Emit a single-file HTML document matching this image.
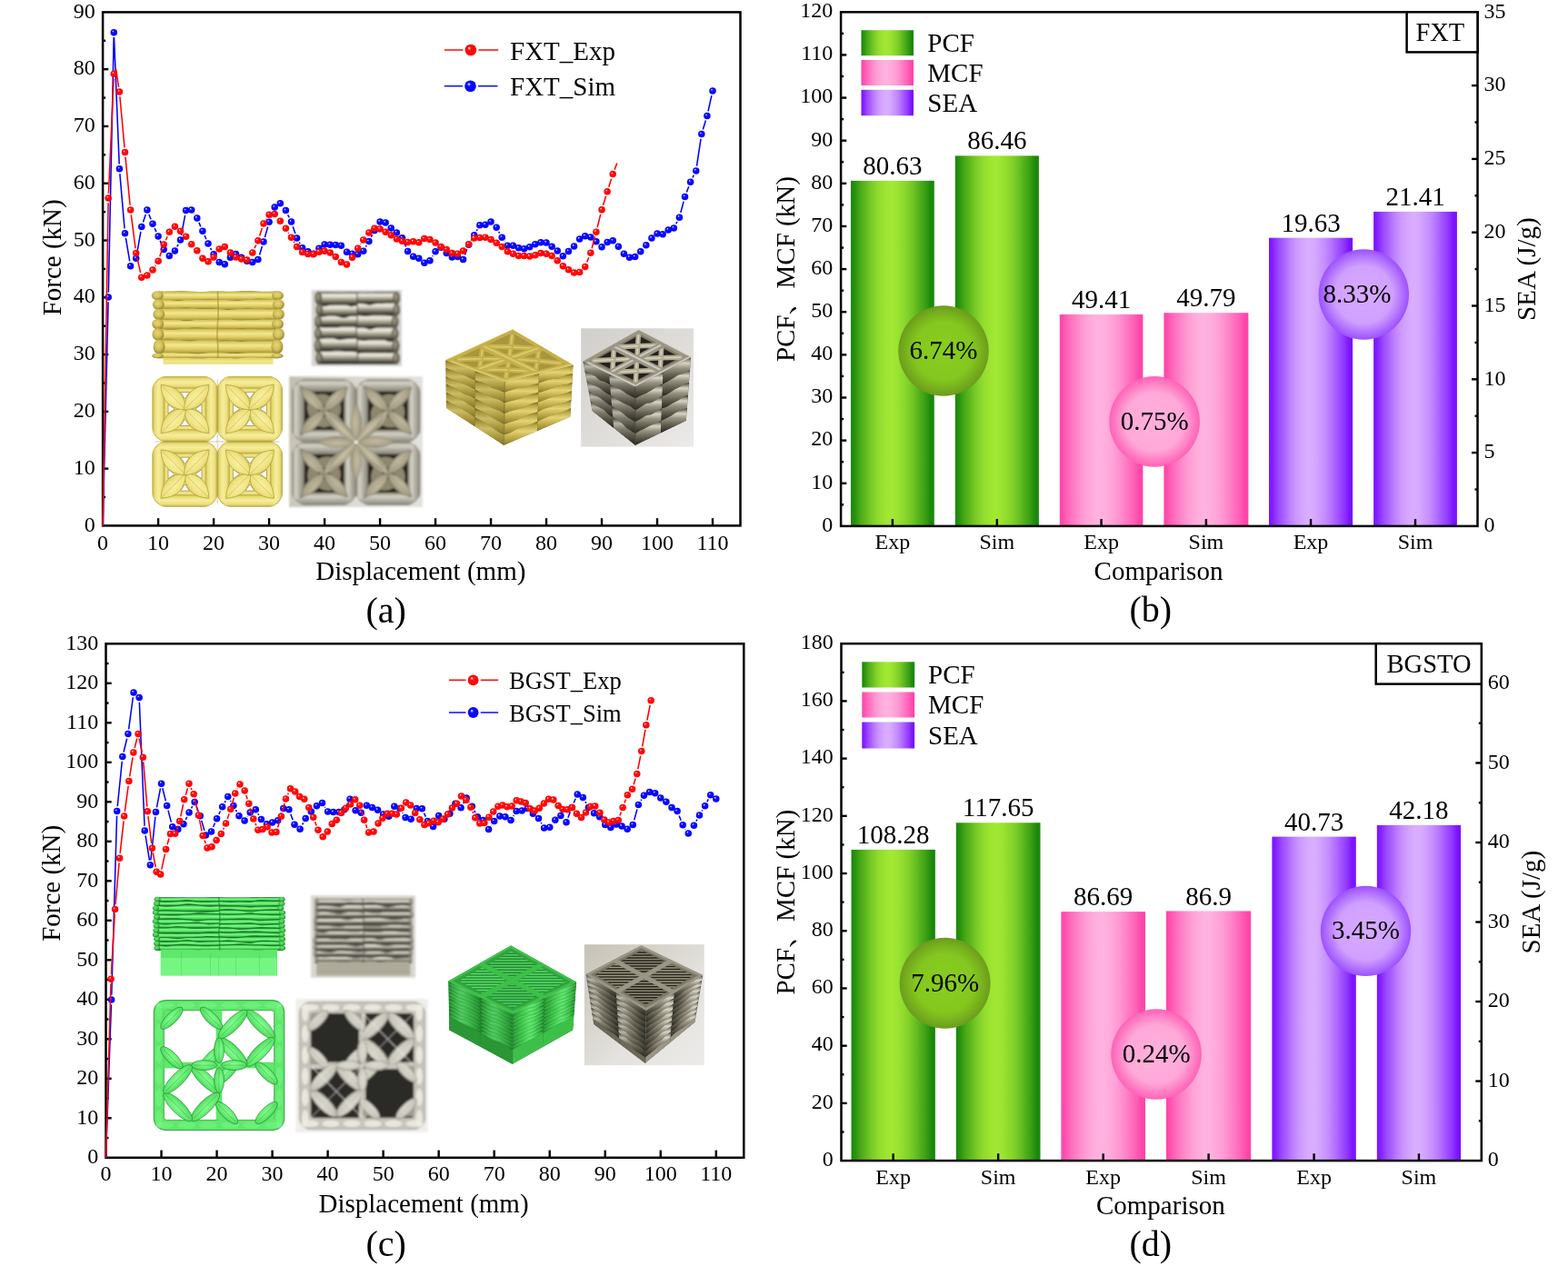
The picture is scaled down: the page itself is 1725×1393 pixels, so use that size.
<!DOCTYPE html>
<html lang="en"><head><meta charset="utf-8"><title>Force-displacement and comparison charts</title>
<style>html,body{margin:0;padding:0;background:#fff;width:1725px;height:1393px;overflow:hidden}svg{display:block}text{font-family:'Liberation Serif', 'Noto Serif CJK SC', serif;fill:#000}</style>
</head><body>
<svg width="1725" height="1393" viewBox="0 0 1725 1393">
<defs>
<radialGradient id="mr" cx="0.5" cy="0.5" r="0.5" fx="0.34" fy="0.3"><stop offset="0" stop-color="#ffffff"/><stop offset="0.12" stop-color="#ffb0b0"/><stop offset="0.32" stop-color="#ff1010"/><stop offset="1" stop-color="#ff0000"/></radialGradient>
<radialGradient id="mb" cx="0.5" cy="0.5" r="0.5" fx="0.34" fy="0.3"><stop offset="0" stop-color="#ffffff"/><stop offset="0.12" stop-color="#b0b0ff"/><stop offset="0.32" stop-color="#1010ff"/><stop offset="1" stop-color="#0000ff"/></radialGradient>
<linearGradient id="gg" x1="0" x2="1" y1="0" y2="0"><stop offset="0" stop-color="#1a880a"/><stop offset="0.04" stop-color="#25900d"/><stop offset="0.08" stop-color="#399e13"/><stop offset="0.12" stop-color="#4cab19"/><stop offset="0.17" stop-color="#5db71e"/><stop offset="0.21" stop-color="#6cc223"/><stop offset="0.25" stop-color="#7acb27"/><stop offset="0.29" stop-color="#86d42a"/><stop offset="0.33" stop-color="#90db2d"/><stop offset="0.38" stop-color="#98e130"/><stop offset="0.42" stop-color="#9ee532"/><stop offset="0.46" stop-color="#a1e833"/><stop offset="0.5" stop-color="#a1e733"/><stop offset="0.54" stop-color="#9de532"/><stop offset="0.58" stop-color="#97e030"/><stop offset="0.62" stop-color="#8fdb2d"/><stop offset="0.67" stop-color="#85d42a"/><stop offset="0.71" stop-color="#7acc27"/><stop offset="0.75" stop-color="#6dc323"/><stop offset="0.79" stop-color="#5fb91f"/><stop offset="0.83" stop-color="#50ae1a"/><stop offset="0.88" stop-color="#3fa215"/><stop offset="0.92" stop-color="#2e9610"/><stop offset="0.96" stop-color="#1b890a"/><stop offset="1" stop-color="#1a880a"/></linearGradient>
<linearGradient id="gp" x1="0" x2="1" y1="0" y2="0"><stop offset="0" stop-color="#ff45a9"/><stop offset="0.04" stop-color="#ff4ead"/><stop offset="0.08" stop-color="#ff5eb5"/><stop offset="0.12" stop-color="#ff6dbd"/><stop offset="0.17" stop-color="#ff7bc3"/><stop offset="0.21" stop-color="#ff87ca"/><stop offset="0.25" stop-color="#ff92cf"/><stop offset="0.29" stop-color="#ff9cd4"/><stop offset="0.33" stop-color="#ffa4d8"/><stop offset="0.38" stop-color="#ffabdb"/><stop offset="0.42" stop-color="#ffb0dd"/><stop offset="0.46" stop-color="#ffb2df"/><stop offset="0.5" stop-color="#ffb2df"/><stop offset="0.54" stop-color="#ffafdd"/><stop offset="0.58" stop-color="#ffaadb"/><stop offset="0.62" stop-color="#ffa4d8"/><stop offset="0.67" stop-color="#ff9cd4"/><stop offset="0.71" stop-color="#ff93cf"/><stop offset="0.75" stop-color="#ff88ca"/><stop offset="0.79" stop-color="#ff7dc5"/><stop offset="0.83" stop-color="#ff71be"/><stop offset="0.88" stop-color="#ff63b8"/><stop offset="0.92" stop-color="#ff55b1"/><stop offset="0.96" stop-color="#ff46a9"/><stop offset="1" stop-color="#ff45a9"/></linearGradient>
<linearGradient id="gv" x1="0" x2="1" y1="0" y2="0"><stop offset="0" stop-color="#7a12ff"/><stop offset="0.04" stop-color="#821fff"/><stop offset="0.08" stop-color="#9036ff"/><stop offset="0.12" stop-color="#9d4bff"/><stop offset="0.17" stop-color="#a85eff"/><stop offset="0.21" stop-color="#b370ff"/><stop offset="0.25" stop-color="#bd80ff"/><stop offset="0.29" stop-color="#c58dff"/><stop offset="0.33" stop-color="#cc99ff"/><stop offset="0.38" stop-color="#d2a2ff"/><stop offset="0.42" stop-color="#d6a9ff"/><stop offset="0.46" stop-color="#d9adff"/><stop offset="0.5" stop-color="#d8adff"/><stop offset="0.54" stop-color="#d6a9ff"/><stop offset="0.58" stop-color="#d1a2ff"/><stop offset="0.62" stop-color="#cc98ff"/><stop offset="0.67" stop-color="#c58dff"/><stop offset="0.71" stop-color="#bd80ff"/><stop offset="0.75" stop-color="#b472ff"/><stop offset="0.79" stop-color="#aa61ff"/><stop offset="0.83" stop-color="#a050ff"/><stop offset="0.88" stop-color="#943dff"/><stop offset="0.92" stop-color="#8829ff"/><stop offset="0.96" stop-color="#7b13ff"/><stop offset="1" stop-color="#7a12ff"/></linearGradient>
<radialGradient id="cg" cx="0.5" cy="0.5" r="0.5"><stop offset="0" stop-color="#88cd1f"/><stop offset="0.64" stop-color="#84c81f"/><stop offset="0.86" stop-color="#76ae1d"/><stop offset="1" stop-color="#6c9c1c"/></radialGradient>
<radialGradient id="cp" cx="0.5" cy="0.5" r="0.5"><stop offset="0" stop-color="#ffb0dd"/><stop offset="0.64" stop-color="#ffa9d9"/><stop offset="0.86" stop-color="#ff7ec4"/><stop offset="1" stop-color="#ff62b6"/></radialGradient>
<radialGradient id="cv" cx="0.5" cy="0.5" r="0.5"><stop offset="0" stop-color="#d8abff"/><stop offset="0.64" stop-color="#d0a0ff"/><stop offset="0.86" stop-color="#b170ff"/><stop offset="1" stop-color="#9c50ff"/></radialGradient>
<linearGradient id="bd_y" x1="0" y1="0" x2="0" y2="1"><stop offset="0" stop-color="#928229"/><stop offset="0.14" stop-color="#d6c55d"/><stop offset="0.4" stop-color="#f4e88e"/><stop offset="0.66" stop-color="#e0cf67"/><stop offset="0.88" stop-color="#b9a745"/><stop offset="1" stop-color="#867626"/></linearGradient>
<linearGradient id="bh_y" x1="0" y1="0" x2="1" y2="0"><stop offset="0" stop-color="#928229"/><stop offset="0.14" stop-color="#d6c55d"/><stop offset="0.4" stop-color="#f4e88e"/><stop offset="0.66" stop-color="#e0cf67"/><stop offset="0.88" stop-color="#b9a745"/><stop offset="1" stop-color="#867626"/></linearGradient>
<radialGradient id="lb_y" cx="0.45" cy="0.4" r="0.6"><stop offset="0" stop-color="#e7d670"/><stop offset="0.5" stop-color="#d3c15c"/><stop offset="1" stop-color="#95852f"/></radialGradient>
<radialGradient id="pt_y" cx="0.5" cy="0.42" r="0.62"><stop offset="0" stop-color="#f8ee9c"/><stop offset="0.65" stop-color="#e7d670"/><stop offset="1" stop-color="#d3c15c"/></radialGradient>
<linearGradient id="bd_yt" x1="0" y1="0" x2="0" y2="1"><stop offset="0" stop-color="#bba946"/><stop offset="0.2" stop-color="#e9db78"/><stop offset="0.48" stop-color="#f7ee9a"/><stop offset="0.78" stop-color="#ebde7c"/><stop offset="1" stop-color="#b9a744"/></linearGradient>
<linearGradient id="bh_yt" x1="0" y1="0" x2="1" y2="0"><stop offset="0" stop-color="#bba946"/><stop offset="0.2" stop-color="#e9db78"/><stop offset="0.48" stop-color="#f7ee9a"/><stop offset="0.78" stop-color="#ebde7c"/><stop offset="1" stop-color="#b9a744"/></linearGradient>
<radialGradient id="lb_yt" cx="0.45" cy="0.4" r="0.6"><stop offset="0" stop-color="#efe27f"/><stop offset="0.5" stop-color="#dccb64"/><stop offset="1" stop-color="#a39335"/></radialGradient>
<radialGradient id="pt_yt" cx="0.5" cy="0.42" r="0.62"><stop offset="0" stop-color="#f8f0a0"/><stop offset="0.65" stop-color="#efe27f"/><stop offset="1" stop-color="#dccb64"/></radialGradient>
<linearGradient id="bd_yi" x1="0" y1="0" x2="0" y2="1"><stop offset="0" stop-color="#776924"/><stop offset="0.14" stop-color="#b5a143"/><stop offset="0.4" stop-color="#e4d475"/><stop offset="0.66" stop-color="#c2ae4b"/><stop offset="0.9" stop-color="#9c8a35"/><stop offset="1" stop-color="#6a5d1e"/></linearGradient>
<linearGradient id="bh_yi" x1="0" y1="0" x2="1" y2="0"><stop offset="0" stop-color="#776924"/><stop offset="0.14" stop-color="#b5a143"/><stop offset="0.4" stop-color="#e4d475"/><stop offset="0.66" stop-color="#c2ae4b"/><stop offset="0.9" stop-color="#9c8a35"/><stop offset="1" stop-color="#6a5d1e"/></linearGradient>
<radialGradient id="lb_yi" cx="0.45" cy="0.4" r="0.6"><stop offset="0" stop-color="#c4b04c"/><stop offset="0.5" stop-color="#a9963c"/><stop offset="1" stop-color="#786a24"/></radialGradient>
<radialGradient id="pt_yi" cx="0.5" cy="0.42" r="0.62"><stop offset="0" stop-color="#e2d273"/><stop offset="0.65" stop-color="#c4b04c"/><stop offset="1" stop-color="#a9963c"/></radialGradient>
<linearGradient id="bd_g" x1="0" y1="0" x2="0" y2="1"><stop offset="0" stop-color="#1a6e25"/><stop offset="0.18" stop-color="#45cf53"/><stop offset="0.42" stop-color="#7cfa8a"/><stop offset="0.68" stop-color="#58e065"/><stop offset="0.88" stop-color="#34b241"/><stop offset="1" stop-color="#17641f"/></linearGradient>
<linearGradient id="bh_g" x1="0" y1="0" x2="1" y2="0"><stop offset="0" stop-color="#1a6e25"/><stop offset="0.18" stop-color="#45cf53"/><stop offset="0.42" stop-color="#7cfa8a"/><stop offset="0.68" stop-color="#58e065"/><stop offset="0.88" stop-color="#34b241"/><stop offset="1" stop-color="#17641f"/></linearGradient>
<radialGradient id="lb_g" cx="0.45" cy="0.4" r="0.6"><stop offset="0" stop-color="#5fe86c"/><stop offset="0.5" stop-color="#45cf53"/><stop offset="1" stop-color="#1f7c2b"/></radialGradient>
<radialGradient id="pt_g" cx="0.5" cy="0.42" r="0.62"><stop offset="0" stop-color="#86ff93"/><stop offset="0.65" stop-color="#5fe86c"/><stop offset="1" stop-color="#45cf53"/></radialGradient>
<linearGradient id="bd_gi" x1="0" y1="0" x2="0" y2="1"><stop offset="0" stop-color="#17681f"/><stop offset="0.16" stop-color="#35b342"/><stop offset="0.42" stop-color="#62e871"/><stop offset="0.7" stop-color="#3dc04a"/><stop offset="0.9" stop-color="#2a9a36"/><stop offset="1" stop-color="#156020"/></linearGradient>
<linearGradient id="bh_gi" x1="0" y1="0" x2="1" y2="0"><stop offset="0" stop-color="#17681f"/><stop offset="0.16" stop-color="#35b342"/><stop offset="0.42" stop-color="#62e871"/><stop offset="0.7" stop-color="#3dc04a"/><stop offset="0.9" stop-color="#2a9a36"/><stop offset="1" stop-color="#156020"/></linearGradient>
<radialGradient id="lb_gi" cx="0.45" cy="0.4" r="0.6"><stop offset="0" stop-color="#3dc04a"/><stop offset="0.5" stop-color="#2fa53c"/><stop offset="1" stop-color="#1b7526"/></radialGradient>
<radialGradient id="pt_gi" cx="0.5" cy="0.42" r="0.62"><stop offset="0" stop-color="#62e871"/><stop offset="0.65" stop-color="#3dc04a"/><stop offset="1" stop-color="#2fa53c"/></radialGradient>
<linearGradient id="bd_m" x1="0" y1="0" x2="0" y2="1"><stop offset="0" stop-color="#2a2822"/><stop offset="0.08" stop-color="#8d897a"/><stop offset="0.2" stop-color="#f4f2e8"/><stop offset="0.38" stop-color="#d5d2c4"/><stop offset="0.58" stop-color="#9b9684"/><stop offset="0.8" stop-color="#5a574b"/><stop offset="1" stop-color="#1f1e1a"/></linearGradient>
<linearGradient id="bh_m" x1="0" y1="0" x2="1" y2="0"><stop offset="0" stop-color="#2a2822"/><stop offset="0.08" stop-color="#8d897a"/><stop offset="0.2" stop-color="#f4f2e8"/><stop offset="0.38" stop-color="#d5d2c4"/><stop offset="0.58" stop-color="#9b9684"/><stop offset="0.8" stop-color="#5a574b"/><stop offset="1" stop-color="#1f1e1a"/></linearGradient>
<radialGradient id="lb_m" cx="0.45" cy="0.4" r="0.6"><stop offset="0" stop-color="#a39e8c"/><stop offset="0.5" stop-color="#7b7563"/><stop offset="1" stop-color="#46433a"/></radialGradient>
<radialGradient id="pt_m" cx="0.5" cy="0.42" r="0.62"><stop offset="0" stop-color="#c4bca2"/><stop offset="0.65" stop-color="#aaa288"/><stop offset="1" stop-color="#7b7563"/></radialGradient>
<linearGradient id="bd_mi" x1="0" y1="0" x2="0" y2="1"><stop offset="0" stop-color="#2c2a24"/><stop offset="0.1" stop-color="#8f8b7a"/><stop offset="0.22" stop-color="#d8d5c8"/><stop offset="0.4" stop-color="#9a9583"/><stop offset="0.66" stop-color="#656152"/><stop offset="0.88" stop-color="#3c3a31"/><stop offset="1" stop-color="#1e1d18"/></linearGradient>
<linearGradient id="bh_mi" x1="0" y1="0" x2="1" y2="0"><stop offset="0" stop-color="#2c2a24"/><stop offset="0.1" stop-color="#8f8b7a"/><stop offset="0.22" stop-color="#d8d5c8"/><stop offset="0.4" stop-color="#9a9583"/><stop offset="0.66" stop-color="#656152"/><stop offset="0.88" stop-color="#3c3a31"/><stop offset="1" stop-color="#1e1d18"/></linearGradient>
<radialGradient id="lb_mi" cx="0.45" cy="0.4" r="0.6"><stop offset="0" stop-color="#9a9584"/><stop offset="0.5" stop-color="#7d7868"/><stop offset="1" stop-color="#46433a"/></radialGradient>
<radialGradient id="pt_mi" cx="0.5" cy="0.42" r="0.62"><stop offset="0" stop-color="#dcdad0"/><stop offset="0.65" stop-color="#b3ab91"/><stop offset="1" stop-color="#7d7868"/></radialGradient>
<linearGradient id="bd_m2" x1="0" y1="0" x2="0" y2="1"><stop offset="0" stop-color="#3d3b35"/><stop offset="0.12" stop-color="#c9c6b9"/><stop offset="0.3" stop-color="#e6e4da"/><stop offset="0.5" stop-color="#b1ad9e"/><stop offset="0.72" stop-color="#77736a"/><stop offset="0.9" stop-color="#45433d"/><stop offset="1" stop-color="#2a2926"/></linearGradient>
<linearGradient id="bh_m2" x1="0" y1="0" x2="1" y2="0"><stop offset="0" stop-color="#3d3b35"/><stop offset="0.12" stop-color="#c9c6b9"/><stop offset="0.3" stop-color="#e6e4da"/><stop offset="0.5" stop-color="#b1ad9e"/><stop offset="0.72" stop-color="#77736a"/><stop offset="0.9" stop-color="#45433d"/><stop offset="1" stop-color="#2a2926"/></linearGradient>
<radialGradient id="lb_m2" cx="0.45" cy="0.4" r="0.6"><stop offset="0" stop-color="#aeaa9a"/><stop offset="0.5" stop-color="#979282"/><stop offset="1" stop-color="#55524a"/></radialGradient>
<radialGradient id="pt_m2" cx="0.5" cy="0.42" r="0.62"><stop offset="0" stop-color="#dcdad0"/><stop offset="0.65" stop-color="#cfcdc3"/><stop offset="1" stop-color="#979282"/></radialGradient>
<linearGradient id="fv" x1="0" y1="0" x2="0" y2="1"><stop offset="0" stop-color="#87836f"/><stop offset="0.28" stop-color="#d6d4ca"/><stop offset="0.55" stop-color="#b7b4a8"/><stop offset="0.85" stop-color="#98958a"/><stop offset="1" stop-color="#6f6c60"/></linearGradient>
<linearGradient id="fh" x1="0" y1="0" x2="1" y2="0"><stop offset="0" stop-color="#87836f"/><stop offset="0.28" stop-color="#d6d4ca"/><stop offset="0.55" stop-color="#b7b4a8"/><stop offset="0.85" stop-color="#98958a"/><stop offset="1" stop-color="#6f6c60"/></linearGradient>
<linearGradient id="bga4" x1="0" y1="0" x2="1" y2="0.2"><stop offset="0" stop-color="#c2beae"/><stop offset="0.5" stop-color="#d9d7d0"/><stop offset="1" stop-color="#e2e1dd"/></linearGradient>
<filter id="bl1" x="-5%" y="-5%" width="110%" height="110%"><feGaussianBlur stdDeviation="0.6"/></filter>
<filter id="bl2" x="-5%" y="-5%" width="110%" height="110%"><feGaussianBlur stdDeviation="0.9"/></filter>
<linearGradient id="bga1" x1="0" y1="0" x2="1" y2="1"><stop offset="0" stop-color="#d0cfcb"/><stop offset="1" stop-color="#ebeae8"/></linearGradient>
<linearGradient id="bgc1" x1="0" y1="0" x2="1" y2="1"><stop offset="0" stop-color="#c6c2b6"/><stop offset="0.6" stop-color="#e4e2de"/><stop offset="1" stop-color="#ecebe9"/></linearGradient>
</defs>
<rect width="1725" height="1393" fill="#fff"/>
<g id="panel-a">
<g filter="url(#bl1)">
<rect x="173.5" y="321.1" width="132.8" height="73.4" fill="#d3c15c"/>
<rect x="179.5" y="392" width="120.8" height="9" fill="#e7d670"/>
<rect x="179.5" y="396.1" width="120.8" height="4.9" fill="#f8ee9c" opacity="0.55"/>
<path d="M174.5 320.6C176.3 320.6 181.8 320.7 185.4 320.6C189 320.5 192.7 320.2 196.3 320.2C199.9 320.2 203.6 320.4 207.2 320.5C210.8 320.7 214.5 320.9 218.1 320.9C221.7 320.9 225.4 320.8 229 320.7C232.6 320.6 238.1 320.6 239.9 320.6L239.9 329.6C238.1 329.5 232.6 329.1 229 329C225.4 329 221.7 329.4 218.1 329.5C214.5 329.6 210.8 329.5 207.2 329.8C203.6 330.1 199.9 331.1 196.3 331.2C192.7 331.3 189 330.5 185.4 330.3C181.8 330.1 176.3 329.9 174.5 329.8Z" fill="url(#bd_y)"/>
<path d="M174.5 329.8C176.3 329.9 181.8 330.1 185.4 330.3C189 330.5 192.7 331.3 196.3 331.2C199.9 331.1 203.6 330.1 207.2 329.8C210.8 329.5 214.5 329.6 218.1 329.5C221.7 329.4 225.4 329 229 329C232.6 329.1 238.1 329.5 239.9 329.6L239.9 339.8C238.1 339.8 232.6 340.1 229 340.1C225.4 340.1 221.7 340.2 218.1 339.9C214.5 339.6 210.8 338.6 207.2 338.4C203.6 338.2 199.9 338.5 196.3 338.7C192.7 339 189 339.6 185.4 339.8C181.8 339.9 176.3 339.7 174.5 339.7Z" fill="url(#bd_y)"/>
<path d="M174.5 339.7C176.3 339.7 181.8 339.9 185.4 339.8C189 339.6 192.7 339 196.3 338.7C199.9 338.5 203.6 338.2 207.2 338.4C210.8 338.6 214.5 339.6 218.1 339.9C221.7 340.2 225.4 340.1 229 340.1C232.6 340.1 238.1 339.8 239.9 339.8L239.9 352.1C238.1 352 232.6 351.4 229 351.2C225.4 351.1 221.7 350.9 218.1 351.2C214.5 351.6 210.8 353.2 207.2 353.3C203.6 353.5 199.9 352.7 196.3 352.3C192.7 351.8 189 350.8 185.4 350.7C181.8 350.6 176.3 351.5 174.5 351.6Z" fill="url(#bd_y)"/>
<path d="M174.5 351.6C176.3 351.5 181.8 350.6 185.4 350.7C189 350.8 192.7 351.8 196.3 352.3C199.9 352.7 203.6 353.5 207.2 353.3C210.8 353.2 214.5 351.6 218.1 351.2C221.7 350.9 225.4 351.1 229 351.2C232.6 351.4 238.1 352 239.9 352.1L239.9 361.4C238.1 361.4 232.6 361.5 229 361.3C225.4 361.2 221.7 360.6 218.1 360.6C214.5 360.5 210.8 360.7 207.2 361C203.6 361.3 199.9 362.1 196.3 362.4C192.7 362.6 189 362.7 185.4 362.7C181.8 362.7 176.3 362.3 174.5 362.3Z" fill="url(#bd_y)"/>
<path d="M174.5 362.3C176.3 362.3 181.8 362.7 185.4 362.7C189 362.7 192.7 362.6 196.3 362.4C199.9 362.1 203.6 361.3 207.2 361C210.8 360.7 214.5 360.5 218.1 360.6C221.7 360.6 225.4 361.2 229 361.3C232.6 361.5 238.1 361.4 239.9 361.4L239.9 374.3C238.1 374.2 232.6 373.6 229 373.7C225.4 373.7 221.7 374.1 218.1 374.4C214.5 374.7 210.8 375.6 207.2 375.5C203.6 375.4 199.9 374.5 196.3 374C192.7 373.5 189 372.8 185.4 372.8C181.8 372.7 176.3 373.5 174.5 373.7Z" fill="url(#bd_y)"/>
<path d="M174.5 373.7C176.3 373.5 181.8 372.7 185.4 372.8C189 372.8 192.7 373.5 196.3 374C199.9 374.5 203.6 375.4 207.2 375.5C210.8 375.6 214.5 374.7 218.1 374.4C221.7 374.1 225.4 373.7 229 373.7C232.6 373.6 238.1 374.2 239.9 374.3L239.9 388.4C238.1 388.4 232.6 388.3 229 388.5C225.4 388.7 221.7 389.5 218.1 389.5C214.5 389.6 210.8 388.9 207.2 388.8C203.6 388.6 199.9 388.9 196.3 388.7C192.7 388.4 189 387.3 185.4 387.2C181.8 387.2 176.3 388 174.5 388.2Z" fill="url(#bd_y)"/>
<path d="M174.5 388.2C176.3 388 181.8 387.2 185.4 387.2C189 387.3 192.7 388.4 196.3 388.7C199.9 388.9 203.6 388.6 207.2 388.8C210.8 388.9 214.5 389.6 218.1 389.5C221.7 389.5 225.4 388.7 229 388.5C232.6 388.3 238.1 388.4 239.9 388.4L239.9 394C238.1 394 232.6 393.9 229 393.9C225.4 394 221.7 394.3 218.1 394.3C214.5 394.3 210.8 394.2 207.2 394.1C203.6 394.1 199.9 394 196.3 393.9C192.7 393.9 189 393.7 185.4 393.7C181.8 393.7 176.3 393.9 174.5 394Z" fill="url(#bd_y)"/>
<path d="M239.9 320.6C241.7 320.6 247.2 320.8 250.8 320.7C254.4 320.7 258.1 320.4 261.7 320.4C265.3 320.3 269 320.2 272.6 320.3C276.2 320.3 279.9 320.5 283.5 320.6C287.1 320.7 290.8 320.8 294.4 320.8C298 320.8 303.5 320.6 305.3 320.6L305.3 329.4C303.5 329.4 298 329.3 294.4 329.1C290.8 329 287.1 328.4 283.5 328.6C279.9 328.7 276.2 329.5 272.6 329.9C269 330.3 265.3 330.8 261.7 330.9C258.1 331 254.4 330.7 250.8 330.5C247.2 330.4 241.7 330.2 239.9 330.1Z" fill="url(#bd_y)"/>
<path d="M239.9 330.1C241.7 330.2 247.2 330.4 250.8 330.5C254.4 330.7 258.1 331 261.7 330.9C265.3 330.8 269 330.3 272.6 329.9C276.2 329.5 279.9 328.7 283.5 328.6C287.1 328.4 290.8 329 294.4 329.1C298 329.3 303.5 329.4 305.3 329.4L305.3 340.4C303.5 340.4 298 340.6 294.4 340.6C290.8 340.5 287.1 340.4 283.5 340.1C279.9 339.8 276.2 338.8 272.6 338.8C269 338.8 265.3 339.9 261.7 340.2C258.1 340.6 254.4 341 250.8 340.9C247.2 340.9 241.7 340 239.9 339.9Z" fill="url(#bd_y)"/>
<path d="M239.9 339.9C241.7 340 247.2 340.9 250.8 340.9C254.4 341 258.1 340.6 261.7 340.2C265.3 339.9 269 338.8 272.6 338.8C276.2 338.8 279.9 339.8 283.5 340.1C287.1 340.4 290.8 340.5 294.4 340.6C298 340.6 303.5 340.4 305.3 340.4L305.3 351.1C303.5 351 298 350.4 294.4 350.5C290.8 350.6 287.1 351.7 283.5 352C279.9 352.3 276.2 352.1 272.6 352.2C269 352.3 265.3 352.7 261.7 352.6C258.1 352.4 254.4 351.4 250.8 351.3C247.2 351.2 241.7 351.9 239.9 352Z" fill="url(#bd_y)"/>
<path d="M239.9 352C241.7 351.9 247.2 351.2 250.8 351.3C254.4 351.4 258.1 352.4 261.7 352.6C265.3 352.7 269 352.3 272.6 352.2C276.2 352.1 279.9 352.3 283.5 352C287.1 351.7 290.8 350.6 294.4 350.5C298 350.4 303.5 351 305.3 351.1L305.3 362.4C303.5 362.4 298 362.6 294.4 362.6C290.8 362.6 287.1 362.6 283.5 362.4C279.9 362.2 276.2 361.6 272.6 361.4C269 361.2 265.3 361 261.7 361.2C258.1 361.3 254.4 361.8 250.8 362C247.2 362.2 241.7 362.2 239.9 362.2Z" fill="url(#bd_y)"/>
<path d="M239.9 362.2C241.7 362.2 247.2 362.2 250.8 362C254.4 361.8 258.1 361.3 261.7 361.2C265.3 361 269 361.2 272.6 361.4C276.2 361.6 279.9 362.2 283.5 362.4C287.1 362.6 290.8 362.6 294.4 362.6C298 362.6 303.5 362.4 305.3 362.4L305.3 375C303.5 374.9 298 374.3 294.4 374.3C290.8 374.3 287.1 374.7 283.5 374.9C279.9 375.1 276.2 375.3 272.6 375.4C269 375.6 265.3 376.1 261.7 375.8C258.1 375.6 254.4 374.4 250.8 374.1C247.2 373.9 241.7 374.4 239.9 374.4Z" fill="url(#bd_y)"/>
<path d="M239.9 374.4C241.7 374.4 247.2 373.9 250.8 374.1C254.4 374.4 258.1 375.6 261.7 375.8C265.3 376.1 269 375.6 272.6 375.4C276.2 375.3 279.9 375.1 283.5 374.9C287.1 374.7 290.8 374.3 294.4 374.3C298 374.3 303.5 374.9 305.3 375L305.3 388.8C303.5 388.7 298 388.4 294.4 388.1C290.8 387.9 287.1 387.5 283.5 387.5C279.9 387.5 276.2 388 272.6 388.2C269 388.5 265.3 388.8 261.7 388.9C258.1 389 254.4 389 250.8 388.8C247.2 388.7 241.7 388.2 239.9 388.1Z" fill="url(#bd_y)"/>
<path d="M239.9 388.1C241.7 388.2 247.2 388.7 250.8 388.8C254.4 389 258.1 389 261.7 388.9C265.3 388.8 269 388.5 272.6 388.2C276.2 388 279.9 387.5 283.5 387.5C287.1 387.5 290.8 387.9 294.4 388.1C298 388.4 303.5 388.7 305.3 388.8L305.3 394C303.5 394 298 393.9 294.4 393.9C290.8 393.9 287.1 393.9 283.5 393.8C279.9 393.8 276.2 393.6 272.6 393.6C269 393.7 265.3 394.1 261.7 394.2C258.1 394.3 254.4 394.2 250.8 394.1C247.2 394.1 241.7 394 239.9 394Z" fill="url(#bd_y)"/>
<ellipse cx="173.3" cy="325.2" rx="6.5" ry="5" fill="url(#lb_y)"/>
<ellipse cx="305.5" cy="325.2" rx="6.5" ry="5" fill="url(#lb_y)"/>
<ellipse cx="174.3" cy="335.1" rx="6.5" ry="5.9" fill="url(#lb_y)"/>
<ellipse cx="306.4" cy="335.1" rx="6.5" ry="5.9" fill="url(#lb_y)"/>
<ellipse cx="174.8" cy="345.9" rx="6.5" ry="6.1" fill="url(#lb_y)"/>
<ellipse cx="306.4" cy="345.9" rx="6.5" ry="6.1" fill="url(#lb_y)"/>
<ellipse cx="173.7" cy="356.6" rx="6.5" ry="5.7" fill="url(#lb_y)"/>
<ellipse cx="305.5" cy="356.6" rx="6.5" ry="5.7" fill="url(#lb_y)"/>
<ellipse cx="173.9" cy="367.9" rx="6.5" ry="6.9" fill="url(#lb_y)"/>
<ellipse cx="306.4" cy="367.9" rx="6.5" ry="6.9" fill="url(#lb_y)"/>
<ellipse cx="175.1" cy="381.5" rx="6.5" ry="8.1" fill="url(#lb_y)"/>
<ellipse cx="304.9" cy="381.5" rx="6.5" ry="8.1" fill="url(#lb_y)"/>
<ellipse cx="173.5" cy="391.4" rx="6.5" ry="2.8" fill="url(#lb_y)"/>
<ellipse cx="305.1" cy="391.4" rx="6.5" ry="2.8" fill="url(#lb_y)"/>
<path d="M239.4 320.6C239.5 322.6 239.8 328.8 239.9 332.8C240 336.9 240.2 341 240.1 345.1C240 349.1 239.6 353.2 239.4 357.3C239.2 361.4 238.9 365.5 238.9 369.5C239 373.6 239.6 377.7 239.7 381.8C239.9 385.8 239.7 392 239.6 394" fill="none" stroke="#95852f" stroke-width="1.6" opacity="0.55"/>
</g><g filter="url(#bl2)">
<rect x="342.8" y="319.2" width="99.1" height="83.6" fill="#d4d3cf"/>
<rect x="349.5" y="321.5" width="86.5" height="79.5" fill="#46433a"/>
<path d="M350.5 321.7C351.7 321.7 355.2 321.5 357.5 321.5C359.9 321.4 362.2 321.3 364.6 321.5C366.9 321.6 369.3 322.3 371.6 322.4C374 322.4 376.3 322 378.7 321.9C381 321.7 383.4 321.5 385.7 321.4C388.1 321.4 391.6 321.7 392.8 321.7L392.8 334.5C391.6 334.8 388.1 336.2 385.7 336C383.4 335.8 381 333.6 378.7 333.2C376.3 332.8 374 333.3 371.6 333.4C369.3 333.5 366.9 333.5 364.6 333.9C362.2 334.3 359.9 335.8 357.5 335.9C355.2 335.9 351.7 334.5 350.5 334.3Z" fill="url(#bd_m)"/>
<path d="M350.5 335.7C351.7 335.9 355.2 337.3 357.5 337.3C359.9 337.2 362.2 335.7 364.6 335.3C366.9 334.9 369.3 334.9 371.6 334.8C374 334.7 376.3 334.2 378.7 334.6C381 335 383.4 337.2 385.7 337.4C388.1 337.6 391.6 336.2 392.8 335.9L392.8 346.1C391.6 346.2 388.1 346.2 385.7 346.6C383.4 347 381 348.6 378.7 348.7C376.3 348.8 374 347.7 371.6 347.1C369.3 346.5 366.9 345.1 364.6 345C362.2 345 359.9 346.6 357.5 347C355.2 347.5 351.7 347.6 350.5 347.7Z" fill="url(#bd_m)"/>
<path d="M350.5 349.1C351.7 349 355.2 348.9 357.5 348.4C359.9 348 362.2 346.4 364.6 346.4C366.9 346.5 369.3 347.9 371.6 348.5C374 349.1 376.3 350.2 378.7 350.1C381 350 383.4 348.4 385.7 348C388.1 347.6 391.6 347.6 392.8 347.5L392.8 358.9C391.6 358.6 388.1 357.5 385.7 357.2C383.4 356.9 381 356.9 378.7 357.2C376.3 357.5 374 358.7 371.6 359C369.3 359.3 366.9 359.1 364.6 359.1C362.2 359.1 359.9 359.3 357.5 359.2C355.2 359 351.7 358.5 350.5 358.3Z" fill="url(#bd_m)"/>
<path d="M350.5 359.7C351.7 359.9 355.2 360.4 357.5 360.6C359.9 360.7 362.2 360.5 364.6 360.5C366.9 360.5 369.3 360.7 371.6 360.4C374 360.1 376.3 358.9 378.7 358.6C381 358.3 383.4 358.3 385.7 358.6C388.1 358.9 391.6 360 392.8 360.3L392.8 371.2C391.6 371.2 388.1 371.2 385.7 371.4C383.4 371.5 381 371.9 378.7 372.1C376.3 372.3 374 373.1 371.6 372.6C369.3 372.2 366.9 369.7 364.6 369.5C362.2 369.2 359.9 370.5 357.5 370.8C355.2 371.1 351.7 371.3 350.5 371.4Z" fill="url(#bd_m)"/>
<path d="M350.5 372.8C351.7 372.7 355.2 372.5 357.5 372.2C359.9 371.9 362.2 370.6 364.6 370.9C366.9 371.1 369.3 373.6 371.6 374C374 374.5 376.3 373.7 378.7 373.5C381 373.3 383.4 372.9 385.7 372.8C388.1 372.6 391.6 372.6 392.8 372.6L392.8 386.1C391.6 386 388.1 385.7 385.7 385.6C383.4 385.5 381 385.9 378.7 385.5C376.3 385.2 374 383.5 371.6 383.5C369.3 383.5 366.9 385.1 364.6 385.4C362.2 385.8 359.9 385.4 357.5 385.5C355.2 385.5 351.7 385.6 350.5 385.7Z" fill="url(#bd_m)"/>
<path d="M350.5 387.1C351.7 387 355.2 386.9 357.5 386.9C359.9 386.8 362.2 387.2 364.6 386.8C366.9 386.5 369.3 384.9 371.6 384.9C374 384.9 376.3 386.6 378.7 386.9C381 387.3 383.4 386.9 385.7 387C388.1 387.1 391.6 387.4 392.8 387.5L392.8 399.8C391.6 399.8 388.1 399.7 385.7 399.6C383.4 399.5 381 399.1 378.7 399.1C376.3 399.2 374 399.6 371.6 399.8C369.3 400 366.9 400.3 364.6 400.3C362.2 400.3 359.9 400 357.5 400C355.2 399.9 351.7 399.8 350.5 399.8Z" fill="url(#bd_m)"/>
<path d="M392.8 321.7C393.9 321.7 397.4 321.8 399.8 321.9C402.1 322 404.5 322.3 406.8 322.2C409.2 322.1 411.5 321.4 413.9 321.3C416.2 321.2 418.6 321.4 420.9 321.4C423.3 321.4 425.6 321.3 428 321.3C430.3 321.3 433.8 321.6 435 321.7L435 331.9C433.8 331.7 430.3 330.8 428 330.9C425.6 331 423.3 332.4 420.9 332.7C418.6 333 416.2 332.5 413.9 332.8C411.5 333 409.2 334.4 406.8 334.4C404.5 334.4 402.1 333.1 399.8 332.8C397.4 332.5 393.9 332.5 392.8 332.5Z" fill="url(#bd_m)"/>
<path d="M392.8 333.9C393.9 333.9 397.4 333.9 399.8 334.2C402.1 334.5 404.5 335.8 406.8 335.8C409.2 335.8 411.5 334.4 413.9 334.2C416.2 333.9 418.6 334.4 420.9 334.1C423.3 333.8 425.6 332.4 428 332.3C430.3 332.2 433.8 333.1 435 333.3L435 346.6C433.8 346.6 430.3 346.4 428 346.1C425.6 345.9 423.3 345.5 420.9 345.2C418.6 344.9 416.2 344.1 413.9 344.3C411.5 344.4 409.2 345.6 406.8 346C404.5 346.4 402.1 346.8 399.8 346.6C397.4 346.3 393.9 345 392.8 344.6Z" fill="url(#bd_m)"/>
<path d="M392.8 346C393.9 346.4 397.4 347.7 399.8 348C402.1 348.2 404.5 347.8 406.8 347.4C409.2 347 411.5 345.8 413.9 345.7C416.2 345.5 418.6 346.3 420.9 346.6C423.3 346.9 425.6 347.3 428 347.5C430.3 347.8 433.8 348 435 348L435 358.7C433.8 358.7 430.3 358.6 428 358.4C425.6 358.2 423.3 357.5 420.9 357.7C418.6 357.8 416.2 358.7 413.9 359.3C411.5 359.9 409.2 361.5 406.8 361.4C404.5 361.4 402.1 359.3 399.8 359C397.4 358.7 393.9 359.4 392.8 359.5Z" fill="url(#bd_m)"/>
<path d="M392.8 360.9C393.9 360.8 397.4 360.1 399.8 360.4C402.1 360.7 404.5 362.8 406.8 362.8C409.2 362.9 411.5 361.3 413.9 360.7C416.2 360.1 418.6 359.2 420.9 359.1C423.3 358.9 425.6 359.6 428 359.8C430.3 360 433.8 360.1 435 360.1L435 374C433.8 374.1 430.3 375.2 428 374.8C425.6 374.4 423.3 372 420.9 371.5C418.6 371.1 416.2 372 413.9 372.2C411.5 372.3 409.2 372.2 406.8 372.4C404.5 372.7 402.1 373.8 399.8 373.7C397.4 373.5 393.9 372 392.8 371.7Z" fill="url(#bd_m)"/>
<path d="M392.8 373.1C393.9 373.4 397.4 374.9 399.8 375.1C402.1 375.2 404.5 374.1 406.8 373.8C409.2 373.6 411.5 373.7 413.9 373.6C416.2 373.4 418.6 372.5 420.9 372.9C423.3 373.4 425.6 375.8 428 376.2C430.3 376.6 433.8 375.5 435 375.4L435 386C433.8 386.1 430.3 386.7 428 386.8C425.6 386.9 423.3 386.4 420.9 386.4C418.6 386.3 416.2 386.7 413.9 386.6C411.5 386.5 409.2 385.7 406.8 385.7C404.5 385.6 402.1 386 399.8 386.4C397.4 386.8 393.9 387.8 392.8 388Z" fill="url(#bd_m)"/>
<path d="M392.8 389.4C393.9 389.2 397.4 388.2 399.8 387.8C402.1 387.4 404.5 387 406.8 387.1C409.2 387.1 411.5 387.9 413.9 388C416.2 388.1 418.6 387.7 420.9 387.8C423.3 387.8 425.6 388.3 428 388.2C430.3 388.1 433.8 387.5 435 387.4L435 399.8C433.8 399.8 430.3 399.9 428 400C425.6 400.1 423.3 400.4 420.9 400.3C418.6 400.2 416.2 399.4 413.9 399.3C411.5 399.2 409.2 399.5 406.8 399.6C404.5 399.6 402.1 399.6 399.8 399.7C397.4 399.7 393.9 399.8 392.8 399.8Z" fill="url(#bd_m)"/>
<ellipse cx="350.2" cy="327.8" rx="4" ry="7.4" fill="url(#lb_m)"/>
<ellipse cx="436.1" cy="327.8" rx="4" ry="7.4" fill="url(#lb_m)"/>
<ellipse cx="351.3" cy="340.9" rx="4" ry="7" fill="url(#lb_m)"/>
<ellipse cx="436.1" cy="340.9" rx="4" ry="7" fill="url(#lb_m)"/>
<ellipse cx="350" cy="354" rx="4" ry="7.4" fill="url(#lb_m)"/>
<ellipse cx="434.6" cy="354" rx="4" ry="7.4" fill="url(#lb_m)"/>
<ellipse cx="349.8" cy="367.1" rx="4" ry="7" fill="url(#lb_m)"/>
<ellipse cx="434.6" cy="367.1" rx="4" ry="7" fill="url(#lb_m)"/>
<ellipse cx="349.7" cy="380.6" rx="4" ry="7.9" fill="url(#lb_m)"/>
<ellipse cx="435.4" cy="380.6" rx="4" ry="7.9" fill="url(#lb_m)"/>
<ellipse cx="351.1" cy="394.1" rx="4" ry="7" fill="url(#lb_m)"/>
<ellipse cx="435.9" cy="394.1" rx="4" ry="7" fill="url(#lb_m)"/>
<path d="M392.7 321C392.8 323.2 392.9 329.8 393.1 334.2C393.2 338.7 393.5 343.1 393.3 347.5C393.2 351.9 392 356.3 391.9 360.8C391.9 365.2 392.8 369.6 393.1 374C393.3 378.4 393.5 382.8 393.6 387.2C393.6 391.7 393.4 398.3 393.3 400.5" fill="none" stroke="#46433a" stroke-width="1.6" opacity="0.55"/>
</g><g filter="url(#bl1)">
<rect x="168.2" y="414.6" width="70.6" height="70.9" rx="14.3" fill="#efe27f" stroke="#a39335" stroke-width="0.7"/>
<rect x="178.5" y="424.9" width="50" height="50" fill="#efe27f"/>
<rect x="174.2" y="413.9" width="58.5" height="13.9" rx="7" fill="url(#bd_yt)"/>
<rect x="174.2" y="472.2" width="58.5" height="13.9" rx="7" fill="url(#bd_yt)"/>
<rect x="167.5" y="420.8" width="13.9" height="58.5" rx="7" fill="url(#bh_yt)"/>
<rect x="225.6" y="420.8" width="13.9" height="58.5" rx="7" fill="url(#bh_yt)"/>
<g transform="translate(216.2 462.7) rotate(45)"><path d="M-19.5 0Q0 -18 19.5 0Q0 18 -19.5 0Z" fill="url(#pt_yt)" stroke="#a39335" stroke-width="0.6"/>
<path d="M-16.6 0L16.6 0" stroke="#a39335" stroke-width="0.6" opacity="0.6"/>
</g>
<g transform="translate(190.8 462.7) rotate(135)"><path d="M-19.5 0Q0 -18 19.5 0Q0 18 -19.5 0Z" fill="url(#pt_yt)" stroke="#a39335" stroke-width="0.6"/>
<path d="M-16.6 0L16.6 0" stroke="#a39335" stroke-width="0.6" opacity="0.6"/>
</g>
<g transform="translate(190.8 437.3) rotate(225)"><path d="M-19.5 0Q0 -18 19.5 0Q0 18 -19.5 0Z" fill="url(#pt_yt)" stroke="#a39335" stroke-width="0.6"/>
<path d="M-16.6 0L16.6 0" stroke="#a39335" stroke-width="0.6" opacity="0.6"/>
</g>
<g transform="translate(216.2 437.3) rotate(315)"><path d="M-19.5 0Q0 -18 19.5 0Q0 18 -19.5 0Z" fill="url(#pt_yt)" stroke="#a39335" stroke-width="0.6"/>
<path d="M-16.6 0L16.6 0" stroke="#a39335" stroke-width="0.6" opacity="0.6"/>
</g>
<polygon points="214.7,450 222,455.1 222,444.9" fill="#fff" stroke="#a39335" stroke-width="0.8"/>
<polygon points="203.5,461.3 198.4,468.5 208.6,468.5" fill="#fff" stroke="#a39335" stroke-width="0.8"/>
<polygon points="192.3,450 185,444.9 185,455.1" fill="#fff" stroke="#a39335" stroke-width="0.8"/>
<polygon points="203.5,438.8 208.6,431.6 198.4,431.6" fill="#fff" stroke="#a39335" stroke-width="0.8"/>
<rect x="239.6" y="414.6" width="70.6" height="70.9" rx="14.3" fill="#efe27f" stroke="#a39335" stroke-width="0.7"/>
<rect x="249.9" y="424.9" width="50" height="50" fill="#efe27f"/>
<rect x="245.6" y="413.9" width="58.5" height="13.9" rx="7" fill="url(#bd_yt)"/>
<rect x="245.6" y="472.2" width="58.5" height="13.9" rx="7" fill="url(#bd_yt)"/>
<rect x="238.9" y="420.8" width="13.9" height="58.5" rx="7" fill="url(#bh_yt)"/>
<rect x="297" y="420.8" width="13.9" height="58.5" rx="7" fill="url(#bh_yt)"/>
<g transform="translate(287.6 462.7) rotate(45)"><path d="M-19.5 0Q0 -18 19.5 0Q0 18 -19.5 0Z" fill="url(#pt_yt)" stroke="#a39335" stroke-width="0.6"/>
<path d="M-16.6 0L16.6 0" stroke="#a39335" stroke-width="0.6" opacity="0.6"/>
</g>
<g transform="translate(262.2 462.7) rotate(135)"><path d="M-19.5 0Q0 -18 19.5 0Q0 18 -19.5 0Z" fill="url(#pt_yt)" stroke="#a39335" stroke-width="0.6"/>
<path d="M-16.6 0L16.6 0" stroke="#a39335" stroke-width="0.6" opacity="0.6"/>
</g>
<g transform="translate(262.2 437.3) rotate(225)"><path d="M-19.5 0Q0 -18 19.5 0Q0 18 -19.5 0Z" fill="url(#pt_yt)" stroke="#a39335" stroke-width="0.6"/>
<path d="M-16.6 0L16.6 0" stroke="#a39335" stroke-width="0.6" opacity="0.6"/>
</g>
<g transform="translate(287.6 437.3) rotate(315)"><path d="M-19.5 0Q0 -18 19.5 0Q0 18 -19.5 0Z" fill="url(#pt_yt)" stroke="#a39335" stroke-width="0.6"/>
<path d="M-16.6 0L16.6 0" stroke="#a39335" stroke-width="0.6" opacity="0.6"/>
</g>
<polygon points="286.1,450 293.4,455.1 293.4,444.9" fill="#fff" stroke="#a39335" stroke-width="0.8"/>
<polygon points="274.9,461.3 269.8,468.5 280,468.5" fill="#fff" stroke="#a39335" stroke-width="0.8"/>
<polygon points="263.7,450 256.4,444.9 256.4,455.1" fill="#fff" stroke="#a39335" stroke-width="0.8"/>
<polygon points="274.9,438.8 280,431.6 269.8,431.6" fill="#fff" stroke="#a39335" stroke-width="0.8"/>
<rect x="168.2" y="486.2" width="70.6" height="70.9" rx="14.3" fill="#efe27f" stroke="#a39335" stroke-width="0.7"/>
<rect x="178.5" y="496.6" width="50" height="50" fill="#efe27f"/>
<rect x="174.2" y="485.5" width="58.5" height="13.9" rx="7" fill="url(#bd_yt)"/>
<rect x="174.2" y="543.9" width="58.5" height="13.9" rx="7" fill="url(#bd_yt)"/>
<rect x="167.5" y="492.4" width="13.9" height="58.5" rx="7" fill="url(#bh_yt)"/>
<rect x="225.6" y="492.4" width="13.9" height="58.5" rx="7" fill="url(#bh_yt)"/>
<g transform="translate(216.2 534.4) rotate(45)"><path d="M-19.5 0Q0 -18 19.5 0Q0 18 -19.5 0Z" fill="url(#pt_yt)" stroke="#a39335" stroke-width="0.6"/>
<path d="M-16.6 0L16.6 0" stroke="#a39335" stroke-width="0.6" opacity="0.6"/>
</g>
<g transform="translate(190.8 534.4) rotate(135)"><path d="M-19.5 0Q0 -18 19.5 0Q0 18 -19.5 0Z" fill="url(#pt_yt)" stroke="#a39335" stroke-width="0.6"/>
<path d="M-16.6 0L16.6 0" stroke="#a39335" stroke-width="0.6" opacity="0.6"/>
</g>
<g transform="translate(190.8 509) rotate(225)"><path d="M-19.5 0Q0 -18 19.5 0Q0 18 -19.5 0Z" fill="url(#pt_yt)" stroke="#a39335" stroke-width="0.6"/>
<path d="M-16.6 0L16.6 0" stroke="#a39335" stroke-width="0.6" opacity="0.6"/>
</g>
<g transform="translate(216.2 509) rotate(315)"><path d="M-19.5 0Q0 -18 19.5 0Q0 18 -19.5 0Z" fill="url(#pt_yt)" stroke="#a39335" stroke-width="0.6"/>
<path d="M-16.6 0L16.6 0" stroke="#a39335" stroke-width="0.6" opacity="0.6"/>
</g>
<polygon points="214.7,521.7 222,526.8 222,516.6" fill="#fff" stroke="#a39335" stroke-width="0.8"/>
<polygon points="203.5,532.9 198.4,540.1 208.6,540.1" fill="#fff" stroke="#a39335" stroke-width="0.8"/>
<polygon points="192.3,521.7 185,516.6 185,526.8" fill="#fff" stroke="#a39335" stroke-width="0.8"/>
<polygon points="203.5,510.4 208.6,503.2 198.4,503.2" fill="#fff" stroke="#a39335" stroke-width="0.8"/>
<rect x="239.6" y="486.2" width="70.6" height="70.9" rx="14.3" fill="#efe27f" stroke="#a39335" stroke-width="0.7"/>
<rect x="249.9" y="496.6" width="50" height="50" fill="#efe27f"/>
<rect x="245.6" y="485.5" width="58.5" height="13.9" rx="7" fill="url(#bd_yt)"/>
<rect x="245.6" y="543.9" width="58.5" height="13.9" rx="7" fill="url(#bd_yt)"/>
<rect x="238.9" y="492.4" width="13.9" height="58.5" rx="7" fill="url(#bh_yt)"/>
<rect x="297" y="492.4" width="13.9" height="58.5" rx="7" fill="url(#bh_yt)"/>
<g transform="translate(287.6 534.4) rotate(45)"><path d="M-19.5 0Q0 -18 19.5 0Q0 18 -19.5 0Z" fill="url(#pt_yt)" stroke="#a39335" stroke-width="0.6"/>
<path d="M-16.6 0L16.6 0" stroke="#a39335" stroke-width="0.6" opacity="0.6"/>
</g>
<g transform="translate(262.2 534.4) rotate(135)"><path d="M-19.5 0Q0 -18 19.5 0Q0 18 -19.5 0Z" fill="url(#pt_yt)" stroke="#a39335" stroke-width="0.6"/>
<path d="M-16.6 0L16.6 0" stroke="#a39335" stroke-width="0.6" opacity="0.6"/>
</g>
<g transform="translate(262.2 509) rotate(225)"><path d="M-19.5 0Q0 -18 19.5 0Q0 18 -19.5 0Z" fill="url(#pt_yt)" stroke="#a39335" stroke-width="0.6"/>
<path d="M-16.6 0L16.6 0" stroke="#a39335" stroke-width="0.6" opacity="0.6"/>
</g>
<g transform="translate(287.6 509) rotate(315)"><path d="M-19.5 0Q0 -18 19.5 0Q0 18 -19.5 0Z" fill="url(#pt_yt)" stroke="#a39335" stroke-width="0.6"/>
<path d="M-16.6 0L16.6 0" stroke="#a39335" stroke-width="0.6" opacity="0.6"/>
</g>
<polygon points="286.1,521.7 293.4,526.8 293.4,516.6" fill="#fff" stroke="#a39335" stroke-width="0.8"/>
<polygon points="274.9,532.9 269.8,540.1 280,540.1" fill="#fff" stroke="#a39335" stroke-width="0.8"/>
<polygon points="263.7,521.7 256.4,516.6 256.4,526.8" fill="#fff" stroke="#a39335" stroke-width="0.8"/>
<polygon points="274.9,510.4 280,503.2 269.8,503.2" fill="#fff" stroke="#a39335" stroke-width="0.8"/>
<path d="M239.2 417.2L239.2 554.5M170.8 485.9L307.6 485.9" stroke="#a39335" stroke-width="0.8" opacity="0.6"/>
</g><g filter="url(#bl2)">
<rect x="318.2" y="414.2" width="146.7" height="143.8" fill="url(#bga4)"/>
<rect x="321.9" y="417.9" width="69.5" height="68.2" rx="14.1" fill="#b3afa2" stroke="#6d695c" stroke-width="0.7"/>
<rect x="332" y="428" width="49.2" height="49.2" fill="#24221d"/>
<rect x="327.8" y="417.2" width="57.6" height="13.7" rx="6.8" fill="url(#fv)"/>
<rect x="327.8" y="473.1" width="57.6" height="13.7" rx="6.8" fill="url(#fv)"/>
<rect x="321.2" y="423.2" width="13.7" height="57.6" rx="6.8" fill="url(#fh)"/>
<rect x="378.4" y="423.2" width="13.7" height="57.6" rx="6.8" fill="url(#fh)"/>
<g transform="translate(368.9 452) rotate(102.5)"><path d="M-13.8 0Q0 -11.8 13.8 0Q0 11.8 -13.8 0Z" fill="#8f886f"/>
</g>
<g transform="translate(356.6 464.3) rotate(178.9)"><path d="M-13.8 0Q0 -11.8 13.8 0Q0 11.8 -13.8 0Z" fill="#8f886f"/>
</g>
<g transform="translate(344.3 452) rotate(253.9)"><path d="M-13.8 0Q0 -11.8 13.8 0Q0 11.8 -13.8 0Z" fill="#8f886f"/>
</g>
<g transform="translate(356.6 439.7) rotate(374.5)"><path d="M-13.8 0Q0 -11.8 13.8 0Q0 11.8 -13.8 0Z" fill="#8f886f"/>
</g>
<g transform="translate(369.1 464.5) rotate(45)"><path d="M-19.2 0Q0 -13.3 19.2 0Q0 13.3 -19.2 0Z" fill="url(#pt_m)" stroke="#6d695c" stroke-width="0.6"/>
<path d="M-16.3 0L16.3 0" stroke="#6d695c" stroke-width="0.6" opacity="0.6"/>
</g>
<g transform="translate(344.1 464.5) rotate(135)"><path d="M-19.2 0Q0 -13.3 19.2 0Q0 13.3 -19.2 0Z" fill="url(#pt_m)" stroke="#6d695c" stroke-width="0.6"/>
<path d="M-16.3 0L16.3 0" stroke="#6d695c" stroke-width="0.6" opacity="0.6"/>
</g>
<g transform="translate(344.1 439.5) rotate(225)"><path d="M-19.2 0Q0 -13.3 19.2 0Q0 13.3 -19.2 0Z" fill="url(#pt_m)" stroke="#6d695c" stroke-width="0.6"/>
<path d="M-16.3 0L16.3 0" stroke="#6d695c" stroke-width="0.6" opacity="0.6"/>
</g>
<g transform="translate(369.1 439.5) rotate(315)"><path d="M-19.2 0Q0 -13.3 19.2 0Q0 13.3 -19.2 0Z" fill="url(#pt_m)" stroke="#6d695c" stroke-width="0.6"/>
<path d="M-16.3 0L16.3 0" stroke="#6d695c" stroke-width="0.6" opacity="0.6"/>
</g>
<rect x="392.1" y="417.9" width="69.5" height="68.2" rx="14.1" fill="#b3afa2" stroke="#6d695c" stroke-width="0.7"/>
<rect x="402.3" y="428" width="49.2" height="49.2" fill="#24221d"/>
<rect x="398.1" y="417.2" width="57.6" height="13.7" rx="6.8" fill="url(#fv)"/>
<rect x="398.1" y="473.1" width="57.6" height="13.7" rx="6.8" fill="url(#fv)"/>
<rect x="391.4" y="423.2" width="13.7" height="57.6" rx="6.8" fill="url(#fh)"/>
<rect x="448.6" y="423.2" width="13.7" height="57.6" rx="6.8" fill="url(#fh)"/>
<g transform="translate(439.2 452) rotate(81.6)"><path d="M-13.8 0Q0 -11.8 13.8 0Q0 11.8 -13.8 0Z" fill="#8f886f"/>
</g>
<g transform="translate(426.9 464.3) rotate(195)"><path d="M-13.8 0Q0 -11.8 13.8 0Q0 11.8 -13.8 0Z" fill="#8f886f"/>
</g>
<g transform="translate(414.6 452) rotate(293.6)"><path d="M-13.8 0Q0 -11.8 13.8 0Q0 11.8 -13.8 0Z" fill="#8f886f"/>
</g>
<g transform="translate(426.9 439.7) rotate(354.8)"><path d="M-13.8 0Q0 -11.8 13.8 0Q0 11.8 -13.8 0Z" fill="#8f886f"/>
</g>
<g transform="translate(439.4 464.5) rotate(45)"><path d="M-19.2 0Q0 -13.3 19.2 0Q0 13.3 -19.2 0Z" fill="url(#pt_m)" stroke="#6d695c" stroke-width="0.6"/>
<path d="M-16.3 0L16.3 0" stroke="#6d695c" stroke-width="0.6" opacity="0.6"/>
</g>
<g transform="translate(414.4 464.5) rotate(135)"><path d="M-19.2 0Q0 -13.3 19.2 0Q0 13.3 -19.2 0Z" fill="url(#pt_m)" stroke="#6d695c" stroke-width="0.6"/>
<path d="M-16.3 0L16.3 0" stroke="#6d695c" stroke-width="0.6" opacity="0.6"/>
</g>
<g transform="translate(414.4 439.5) rotate(225)"><path d="M-19.2 0Q0 -13.3 19.2 0Q0 13.3 -19.2 0Z" fill="url(#pt_m)" stroke="#6d695c" stroke-width="0.6"/>
<path d="M-16.3 0L16.3 0" stroke="#6d695c" stroke-width="0.6" opacity="0.6"/>
</g>
<g transform="translate(439.4 439.5) rotate(315)"><path d="M-19.2 0Q0 -13.3 19.2 0Q0 13.3 -19.2 0Z" fill="url(#pt_m)" stroke="#6d695c" stroke-width="0.6"/>
<path d="M-16.3 0L16.3 0" stroke="#6d695c" stroke-width="0.6" opacity="0.6"/>
</g>
<rect x="321.9" y="486.9" width="69.5" height="68.2" rx="14.1" fill="#b3afa2" stroke="#6d695c" stroke-width="0.7"/>
<rect x="332" y="497" width="49.2" height="49.2" fill="#24221d"/>
<rect x="327.8" y="486.2" width="57.6" height="13.7" rx="6.8" fill="url(#fv)"/>
<rect x="327.8" y="542.1" width="57.6" height="13.7" rx="6.8" fill="url(#fv)"/>
<rect x="321.2" y="492.2" width="13.7" height="57.6" rx="6.8" fill="url(#fh)"/>
<rect x="378.4" y="492.2" width="13.7" height="57.6" rx="6.8" fill="url(#fh)"/>
<g transform="translate(368.9 521) rotate(85.1)"><path d="M-13.8 0Q0 -11.8 13.8 0Q0 11.8 -13.8 0Z" fill="#8f886f"/>
</g>
<g transform="translate(356.6 533.3) rotate(202.3)"><path d="M-13.8 0Q0 -11.8 13.8 0Q0 11.8 -13.8 0Z" fill="#8f886f"/>
</g>
<g transform="translate(344.3 521) rotate(281.2)"><path d="M-13.8 0Q0 -11.8 13.8 0Q0 11.8 -13.8 0Z" fill="#8f886f"/>
</g>
<g transform="translate(356.6 508.7) rotate(343.5)"><path d="M-13.8 0Q0 -11.8 13.8 0Q0 11.8 -13.8 0Z" fill="#8f886f"/>
</g>
<g transform="translate(369.1 533.5) rotate(45)"><path d="M-19.2 0Q0 -13.3 19.2 0Q0 13.3 -19.2 0Z" fill="url(#pt_m)" stroke="#6d695c" stroke-width="0.6"/>
<path d="M-16.3 0L16.3 0" stroke="#6d695c" stroke-width="0.6" opacity="0.6"/>
</g>
<g transform="translate(344.1 533.5) rotate(135)"><path d="M-19.2 0Q0 -13.3 19.2 0Q0 13.3 -19.2 0Z" fill="url(#pt_m)" stroke="#6d695c" stroke-width="0.6"/>
<path d="M-16.3 0L16.3 0" stroke="#6d695c" stroke-width="0.6" opacity="0.6"/>
</g>
<g transform="translate(344.1 508.5) rotate(225)"><path d="M-19.2 0Q0 -13.3 19.2 0Q0 13.3 -19.2 0Z" fill="url(#pt_m)" stroke="#6d695c" stroke-width="0.6"/>
<path d="M-16.3 0L16.3 0" stroke="#6d695c" stroke-width="0.6" opacity="0.6"/>
</g>
<g transform="translate(369.1 508.5) rotate(315)"><path d="M-19.2 0Q0 -13.3 19.2 0Q0 13.3 -19.2 0Z" fill="url(#pt_m)" stroke="#6d695c" stroke-width="0.6"/>
<path d="M-16.3 0L16.3 0" stroke="#6d695c" stroke-width="0.6" opacity="0.6"/>
</g>
<rect x="392.1" y="486.9" width="69.5" height="68.2" rx="14.1" fill="#b3afa2" stroke="#6d695c" stroke-width="0.7"/>
<rect x="402.3" y="497" width="49.2" height="49.2" fill="#24221d"/>
<rect x="398.1" y="486.2" width="57.6" height="13.7" rx="6.8" fill="url(#fv)"/>
<rect x="398.1" y="542.1" width="57.6" height="13.7" rx="6.8" fill="url(#fv)"/>
<rect x="391.4" y="492.2" width="13.7" height="57.6" rx="6.8" fill="url(#fh)"/>
<rect x="448.6" y="492.2" width="13.7" height="57.6" rx="6.8" fill="url(#fh)"/>
<g transform="translate(439.2 521) rotate(71.4)"><path d="M-13.8 0Q0 -11.8 13.8 0Q0 11.8 -13.8 0Z" fill="#8f886f"/>
</g>
<g transform="translate(426.9 533.3) rotate(162.6)"><path d="M-13.8 0Q0 -11.8 13.8 0Q0 11.8 -13.8 0Z" fill="#8f886f"/>
</g>
<g transform="translate(414.6 521) rotate(290.2)"><path d="M-13.8 0Q0 -11.8 13.8 0Q0 11.8 -13.8 0Z" fill="#8f886f"/>
</g>
<g transform="translate(426.9 508.7) rotate(375.3)"><path d="M-13.8 0Q0 -11.8 13.8 0Q0 11.8 -13.8 0Z" fill="#8f886f"/>
</g>
<g transform="translate(439.4 533.5) rotate(45)"><path d="M-19.2 0Q0 -13.3 19.2 0Q0 13.3 -19.2 0Z" fill="url(#pt_m)" stroke="#6d695c" stroke-width="0.6"/>
<path d="M-16.3 0L16.3 0" stroke="#6d695c" stroke-width="0.6" opacity="0.6"/>
</g>
<g transform="translate(414.4 533.5) rotate(135)"><path d="M-19.2 0Q0 -13.3 19.2 0Q0 13.3 -19.2 0Z" fill="url(#pt_m)" stroke="#6d695c" stroke-width="0.6"/>
<path d="M-16.3 0L16.3 0" stroke="#6d695c" stroke-width="0.6" opacity="0.6"/>
</g>
<g transform="translate(414.4 508.5) rotate(225)"><path d="M-19.2 0Q0 -13.3 19.2 0Q0 13.3 -19.2 0Z" fill="url(#pt_m)" stroke="#6d695c" stroke-width="0.6"/>
<path d="M-16.3 0L16.3 0" stroke="#6d695c" stroke-width="0.6" opacity="0.6"/>
</g>
<g transform="translate(439.4 508.5) rotate(315)"><path d="M-19.2 0Q0 -13.3 19.2 0Q0 13.3 -19.2 0Z" fill="url(#pt_m)" stroke="#6d695c" stroke-width="0.6"/>
<path d="M-16.3 0L16.3 0" stroke="#6d695c" stroke-width="0.6" opacity="0.6"/>
</g>
<g transform="translate(412.8 486.5) rotate(0)"><path d="M-21.8 0Q0 -11.9 21.8 0Q0 11.9 -21.8 0Z" fill="url(#pt_m)" stroke="#8a8573" stroke-width="0.5"/>
</g>
<g transform="translate(406.7 501.4) rotate(45)"><path d="M-21.8 0Q0 -11.9 21.8 0Q0 11.9 -21.8 0Z" fill="url(#pt_m)" stroke="#8a8573" stroke-width="0.5"/>
</g>
<g transform="translate(391.8 507.6) rotate(90)"><path d="M-21.8 0Q0 -11.9 21.8 0Q0 11.9 -21.8 0Z" fill="url(#pt_m)" stroke="#8a8573" stroke-width="0.5"/>
</g>
<g transform="translate(376.8 501.4) rotate(135)"><path d="M-21.8 0Q0 -11.9 21.8 0Q0 11.9 -21.8 0Z" fill="url(#pt_m)" stroke="#8a8573" stroke-width="0.5"/>
</g>
<g transform="translate(370.7 486.5) rotate(180)"><path d="M-21.8 0Q0 -11.9 21.8 0Q0 11.9 -21.8 0Z" fill="url(#pt_m)" stroke="#8a8573" stroke-width="0.5"/>
</g>
<g transform="translate(376.8 471.6) rotate(225)"><path d="M-21.8 0Q0 -11.9 21.8 0Q0 11.9 -21.8 0Z" fill="url(#pt_m)" stroke="#8a8573" stroke-width="0.5"/>
</g>
<g transform="translate(391.8 465.4) rotate(270)"><path d="M-21.8 0Q0 -11.9 21.8 0Q0 11.9 -21.8 0Z" fill="url(#pt_m)" stroke="#8a8573" stroke-width="0.5"/>
</g>
<g transform="translate(406.7 471.6) rotate(315)"><path d="M-21.8 0Q0 -11.9 21.8 0Q0 11.9 -21.8 0Z" fill="url(#pt_m)" stroke="#8a8573" stroke-width="0.5"/>
</g>
<line x1="356.6" y1="452" x2="391.8" y2="486.5" stroke="#e6e4da" stroke-width="0.9" opacity="0.8"/>
<line x1="426.9" y1="452" x2="391.8" y2="486.5" stroke="#e6e4da" stroke-width="0.9" opacity="0.8"/>
<line x1="356.6" y1="521" x2="391.8" y2="486.5" stroke="#e6e4da" stroke-width="0.9" opacity="0.8"/>
<line x1="426.9" y1="521" x2="391.8" y2="486.5" stroke="#e6e4da" stroke-width="0.9" opacity="0.8"/>
<circle cx="391.8" cy="486.5" r="2" fill="#f4f2ec"/>
</g><g filter="url(#bl1)">
<clipPath id="c1"><polygon points="490.2,396.3 555.4,420 554.3,490 490.8,449"/></clipPath>
<g clip-path="url(#c1)">
<polygon points="490.2,396.3 555.4,420 554.3,490 490.8,449" fill="#786a24"/>
<path d="M490.2 396.3C491.3 396.7 494.5 397.9 496.7 398.7C498.9 399.5 501.1 400.2 503.2 401C505.4 401.8 507.6 402.6 509.8 403.4C511.9 404.2 514.1 405 516.3 405.8C518.5 406.6 521.7 407.8 522.8 408.1L522.8 418.4C521.7 417.9 518.4 416.7 516.3 415.7C514.1 414.7 511.9 413.2 509.8 412.2C507.6 411.3 505.4 410.9 503.3 410.1C501.1 409.3 499 408.4 496.8 407.6C494.6 406.7 491.4 405.5 490.3 405.1Z" fill="url(#bd_yi)"/>
<path d="M490.3 405.1C491.4 405.5 494.6 406.7 496.8 407.6C499 408.4 501.1 409.3 503.3 410.1C505.4 410.9 507.6 411.3 509.8 412.2C511.9 413.2 514.1 414.7 516.3 415.7C518.4 416.7 521.7 417.9 522.8 418.4L522.7 428.6C521.6 428 518.4 426.3 516.3 425.2C514.1 424.2 511.9 423.2 509.8 422.3C507.6 421.4 505.5 420.6 503.3 419.8C501.2 419 499 418.5 496.9 417.5C494.7 416.6 491.5 414.5 490.4 413.9Z" fill="url(#bd_yi)"/>
<path d="M490.4 413.9C491.5 414.5 494.7 416.6 496.9 417.5C499 418.5 501.2 419 503.3 419.8C505.5 420.6 507.6 421.4 509.8 422.3C511.9 423.2 514.1 424.2 516.3 425.2C518.4 426.3 521.6 428 522.7 428.6L522.7 438.8C521.6 438.3 518.4 436.4 516.2 435.5C514.1 434.6 511.9 434.3 509.8 433.2C507.7 432.1 505.5 430 503.4 428.8C501.2 427.5 499.1 426.6 496.9 425.6C494.8 424.6 491.6 423.1 490.5 422.6Z" fill="url(#bd_yi)"/>
<path d="M490.5 422.6C491.6 423.1 494.8 424.6 496.9 425.6C499.1 426.6 501.2 427.5 503.4 428.8C505.5 430 507.7 432.1 509.8 433.2C511.9 434.3 514.1 434.6 516.2 435.5C518.4 436.4 521.6 438.3 522.7 438.8L522.6 449.1C521.6 448.5 518.4 447 516.2 445.6C514.1 444.3 512 442.3 509.8 441.1C507.7 439.8 505.5 439.3 503.4 438.3C501.3 437.3 499.1 436.1 497 435C494.9 433.8 491.7 432 490.6 431.4Z" fill="url(#bd_yi)"/>
<path d="M490.6 431.4C491.7 432 494.9 433.8 497 435C499.1 436.1 501.3 437.3 503.4 438.3C505.5 439.3 507.7 439.8 509.8 441.1C512 442.3 514.1 444.3 516.2 445.6C518.4 447 521.6 448.5 522.6 449.1L522.6 459.3C521.5 458.6 518.3 456.3 516.2 454.9C514.1 453.6 512 452.5 509.8 451.2C507.7 450 505.6 448.5 503.5 447.4C501.3 446.2 499.2 445.5 497.1 444.3C495 443.1 491.8 440.9 490.7 440.2Z" fill="url(#bd_yi)"/>
<path d="M490.7 440.2C491.8 440.9 495 443.1 497.1 444.3C499.2 445.5 501.3 446.2 503.5 447.4C505.6 448.5 507.7 450 509.8 451.2C512 452.5 514.1 453.6 516.2 454.9C518.3 456.3 521.5 458.6 522.6 459.3L522.5 469.5C521.5 468.8 518.3 466.8 516.2 465.4C514.1 464 512 462.7 509.8 461.3C507.7 459.9 505.6 458.6 503.5 457.2C501.4 455.8 499.3 454.5 497.1 453.1C495 451.7 491.9 449.7 490.8 449Z" fill="url(#bd_yi)"/>
<path d="M522.8 408.1C523.9 408.5 527.1 409.7 529.3 410.5C531.5 411.3 533.7 412.1 535.8 412.9C538 413.7 540.2 414.5 542.4 415.3C544.5 416.1 546.7 416.8 548.9 417.6C551.1 418.4 554.3 419.6 555.4 420L555.2 431.7C554.1 431.3 550.9 430 548.7 429.2C546.6 428.5 544.4 428.2 542.2 427.2C540.1 426.2 537.9 424.3 535.7 423.2C533.6 422.1 531.4 421.4 529.2 420.6C527.1 419.8 523.8 418.7 522.8 418.4Z" fill="url(#bd_yi)"/>
<path d="M522.8 418.4C523.8 418.7 527.1 419.8 529.2 420.6C531.4 421.4 533.6 422.1 535.7 423.2C537.9 424.3 540.1 426.2 542.2 427.2C544.4 428.2 546.6 428.5 548.7 429.2C550.9 430 554.1 431.3 555.2 431.7L555 443.3C554 442.7 550.7 440.6 548.6 439.7C546.4 438.8 544.3 438.5 542.1 437.7C540 436.9 537.8 435.7 535.6 434.8C533.5 433.9 531.3 433.3 529.2 432.2C527 431.2 523.8 429.2 522.7 428.6Z" fill="url(#bd_yi)"/>
<path d="M522.7 428.6C523.8 429.2 527 431.2 529.2 432.2C531.3 433.3 533.5 433.9 535.6 434.8C537.8 435.7 540 436.9 542.1 437.7C544.3 438.5 546.4 438.8 548.6 439.7C550.7 440.6 554 442.7 555 443.3L554.8 455C553.8 454.5 550.6 452.8 548.4 451.8C546.3 450.8 544.1 450.2 542 449.2C539.8 448.2 537.7 446.9 535.5 445.7C533.4 444.5 531.3 443 529.1 441.8C527 440.7 523.7 439.3 522.7 438.8Z" fill="url(#bd_yi)"/>
<path d="M522.7 438.8C523.7 439.3 527 440.7 529.1 441.8C531.3 443 533.4 444.5 535.5 445.7C537.7 446.9 539.8 448.2 542 449.2C544.1 450.2 546.3 450.8 548.4 451.8C550.6 452.8 553.8 454.5 554.8 455L554.7 466.7C553.6 466.1 550.4 464.5 548.3 463.4C546.1 462.3 544 461.4 541.9 460C539.7 458.7 537.6 456.6 535.4 455.3C533.3 454 531.2 453.3 529 452.3C526.9 451.2 523.7 449.6 522.6 449.1Z" fill="url(#bd_yi)"/>
<path d="M522.6 449.1C523.7 449.6 526.9 451.2 529 452.3C531.2 453.3 533.3 454 535.4 455.3C537.6 456.6 539.7 458.7 541.9 460C544 461.4 546.1 462.3 548.3 463.4C550.4 464.5 553.6 466.1 554.7 466.7L554.5 478.3C553.4 477.8 550.2 476.5 548.1 475.2C546 474 543.9 472 541.7 470.6C539.6 469.1 537.5 467.8 535.3 466.5C533.2 465.2 531.1 464 529 462.8C526.8 461.6 523.7 459.9 522.6 459.3Z" fill="url(#bd_yi)"/>
<path d="M522.6 459.3C523.7 459.9 526.8 461.6 529 462.8C531.1 464 533.2 465.2 535.3 466.5C537.5 467.8 539.6 469.1 541.7 470.6C543.9 472 546 474 548.1 475.2C550.2 476.5 553.4 477.8 554.5 478.3L554.3 490C553.2 489.3 550.1 487.3 547.9 485.9C545.8 484.5 543.7 483.2 541.6 481.8C539.5 480.4 537.4 479.1 535.2 477.7C533.1 476.3 531 475 528.9 473.6C526.8 472.2 523.6 470.2 522.5 469.5Z" fill="url(#bd_yi)"/>
<polygon points="490.2,396.3 555.4,420 554.3,490 490.8,449" fill="#5c5119" opacity="0.18"/>
</g>
<clipPath id="c2"><polygon points="555.4,420 630.7,401.7 627.5,458.7 554.3,490"/></clipPath>
<g clip-path="url(#c2)">
<polygon points="555.4,420 630.7,401.7 627.5,458.7 554.3,490" fill="#786a24"/>
<path d="M555.4 420C556.7 419.7 560.4 418.8 562.9 418.2C565.4 417.6 567.9 417 570.5 416.3C573 415.7 575.5 415.1 578 414.5C580.5 413.9 583 413.3 585.5 412.7C588 412.1 591.8 411.2 593 410.9L592.7 421.4C591.4 421.8 587.7 423 585.2 423.8C582.7 424.6 580.2 425.7 577.7 426.2C575.2 426.7 572.7 426.3 570.2 426.8C567.7 427.4 565.2 428.5 562.7 429.3C560.2 430.1 556.5 431.3 555.2 431.7Z" fill="url(#bd_yi)"/>
<path d="M555.2 431.7C556.5 431.3 560.2 430.1 562.7 429.3C565.2 428.5 567.7 427.4 570.2 426.8C572.7 426.3 575.2 426.7 577.7 426.2C580.2 425.7 582.7 424.6 585.2 423.8C587.7 423 591.4 421.8 592.7 421.4L592.3 432C591.1 432.3 587.4 433 584.9 433.8C582.4 434.5 579.9 435.6 577.4 436.5C574.9 437.4 572.4 438.4 570 439.2C567.5 440 565 440.6 562.5 441.3C560 441.9 556.3 443 555 443.3Z" fill="url(#bd_yi)"/>
<path d="M555 443.3C556.3 443 560 441.9 562.5 441.3C565 440.6 567.5 440 570 439.2C572.4 438.4 574.9 437.4 577.4 436.5C579.9 435.6 582.4 434.5 584.9 433.8C587.4 433 591.1 432.3 592.3 432L592 442.6C590.7 442.9 587 443.7 584.5 444.6C582.1 445.6 579.6 447.3 577.1 448.2C574.6 449.1 572.2 449.5 569.7 450.2C567.2 450.8 564.7 451.4 562.3 452.3C559.8 453.1 556.1 454.5 554.8 455Z" fill="url(#bd_yi)"/>
<path d="M554.8 455C556.1 454.5 559.8 453.1 562.3 452.3C564.7 451.4 567.2 450.8 569.7 450.2C572.2 449.5 574.6 449.1 577.1 448.2C579.6 447.3 582.1 445.6 584.5 444.6C587 443.7 590.7 442.9 592 442.6L591.6 453.2C590.4 453.6 586.7 454.7 584.2 455.5C581.8 456.3 579.3 456.9 576.8 458C574.4 459 571.9 460.8 569.4 461.9C567 462.9 564.5 463.5 562.1 464.3C559.6 465.1 555.9 466.3 554.7 466.7Z" fill="url(#bd_yi)"/>
<path d="M554.7 466.7C555.9 466.3 559.6 465.1 562.1 464.3C564.5 463.5 567 462.9 569.4 461.9C571.9 460.8 574.4 459 576.8 458C579.3 456.9 581.8 456.3 584.2 455.5C586.7 454.7 590.4 453.6 591.6 453.2L591.3 463.8C590 464.3 586.4 466.1 583.9 467C581.5 468 579 468.5 576.5 469.3C574.1 470.1 571.6 470.7 569.2 471.8C566.7 473 564.3 475 561.8 476.1C559.4 477.2 555.7 478 554.5 478.3Z" fill="url(#bd_yi)"/>
<path d="M554.5 478.3C555.7 478 559.4 477.2 561.8 476.1C564.3 475 566.7 473 569.2 471.8C571.6 470.7 574.1 470.1 576.5 469.3C579 468.5 581.5 468 583.9 467C586.4 466.1 590 464.3 591.3 463.8L590.9 474.4C589.7 474.9 586 476.4 583.6 477.5C581.1 478.5 578.7 479.6 576.3 480.6C573.8 481.7 571.4 482.7 568.9 483.7C566.5 484.8 564.1 485.8 561.6 486.9C559.2 487.9 555.5 489.5 554.3 490Z" fill="url(#bd_yi)"/>
<path d="M593 410.9C594.3 410.5 598.1 409.6 600.6 409C603.1 408.4 605.6 407.8 608.1 407.2C610.6 406.6 613.1 406 615.6 405.4C618.1 404.8 620.7 404.1 623.2 403.5C625.7 402.9 629.4 402 630.7 401.7L630.2 411.2C628.9 411.5 625.2 411.9 622.7 412.7C620.2 413.6 617.7 415.5 615.2 416.2C612.7 416.9 610.2 416.7 607.7 417.1C605.2 417.6 602.7 418.2 600.2 418.9C597.7 419.7 593.9 421 592.7 421.4Z" fill="url(#bd_yi)"/>
<path d="M592.7 421.4C593.9 421 597.7 419.7 600.2 418.9C602.7 418.2 605.2 417.6 607.7 417.1C610.2 416.7 612.7 416.9 615.2 416.2C617.7 415.5 620.2 413.6 622.7 412.7C625.2 411.9 628.9 411.5 630.2 411.2L629.6 420.7C628.4 421.1 624.7 422.7 622.2 423.3C619.7 424 617.2 423.7 614.7 424.3C612.2 425 609.7 426.4 607.3 427.3C604.8 428.3 602.3 429.2 599.8 429.9C597.3 430.7 593.6 431.7 592.3 432Z" fill="url(#bd_yi)"/>
<path d="M592.3 432C593.6 431.7 597.3 430.7 599.8 429.9C602.3 429.2 604.8 428.3 607.3 427.3C609.7 426.4 612.2 425 614.7 424.3C617.2 423.7 619.7 424 622.2 423.3C624.7 422.7 628.4 421.1 629.6 420.7L629.1 430.2C627.9 430.7 624.1 432.2 621.7 433C619.2 433.8 616.7 434.5 614.2 435.2C611.8 435.8 609.3 436.2 606.8 437.1C604.3 437.9 601.9 439.2 599.4 440.1C596.9 441 593.2 442.2 592 442.6Z" fill="url(#bd_yi)"/>
<path d="M592 442.6C593.2 442.2 596.9 441 599.4 440.1C601.9 439.2 604.3 437.9 606.8 437.1C609.3 436.2 611.8 435.8 614.2 435.2C616.7 434.5 619.2 433.8 621.7 433C624.1 432.2 627.9 430.7 629.1 430.2L628.6 439.7C627.3 440.2 623.6 442.2 621.2 443C618.7 443.8 616.3 444 613.8 444.7C611.3 445.5 608.9 446.6 606.4 447.5C603.9 448.3 601.5 448.9 599 449.8C596.5 450.8 592.8 452.6 591.6 453.2Z" fill="url(#bd_yi)"/>
<path d="M591.6 453.2C592.8 452.6 596.5 450.8 599 449.8C601.5 448.9 603.9 448.3 606.4 447.5C608.9 446.6 611.3 445.5 613.8 444.7C616.3 444 618.7 443.8 621.2 443C623.6 442.2 627.3 440.2 628.6 439.7L628 449.2C626.8 449.8 623.1 451.4 620.7 452.5C618.2 453.6 615.8 454.8 613.3 455.6C610.9 456.4 608.4 456.5 606 457.3C603.5 458.2 601.1 459.4 598.6 460.5C596.2 461.5 592.5 463.2 591.3 463.8Z" fill="url(#bd_yi)"/>
<path d="M591.3 463.8C592.5 463.2 596.2 461.5 598.6 460.5C601.1 459.4 603.5 458.2 606 457.3C608.4 456.5 610.9 456.4 613.3 455.6C615.8 454.8 618.2 453.6 620.7 452.5C623.1 451.4 626.8 449.8 628 449.2L627.5 458.7C626.3 459.2 622.6 460.8 620.2 461.8C617.7 462.9 615.3 463.9 612.9 465C610.4 466 608 467 605.5 468.1C603.1 469.1 600.7 470.2 598.2 471.2C595.8 472.3 592.1 473.8 590.9 474.4Z" fill="url(#bd_yi)"/>
</g>
<clipPath id="c3"><polygon points="564,362.4 630.7,401.7 555.4,420 490.2,396.3"/></clipPath>
<g clip-path="url(#c3)">
<polygon points="564,362.4 630.7,401.7 555.4,420 490.2,396.3" fill="#a9963c"/>
<polygon points="563.3,369.6 587.2,383.2 560.4,392.8 536.7,381.2" fill="#a9963c"/>
<line x1="561.9" y1="381.7" x2="563.3" y2="369.6" stroke="#c4b04c" stroke-width="5.5" stroke-linecap="round"/>
<line x1="561.9" y1="381.7" x2="563.3" y2="369.6" stroke="#e2d273" stroke-width="1.6" stroke-linecap="round" opacity="0.8"/>
<line x1="561.9" y1="381.7" x2="587.2" y2="383.2" stroke="#c4b04c" stroke-width="5.5" stroke-linecap="round"/>
<line x1="561.9" y1="381.7" x2="587.2" y2="383.2" stroke="#e2d273" stroke-width="1.6" stroke-linecap="round" opacity="0.8"/>
<line x1="561.9" y1="381.7" x2="560.4" y2="392.8" stroke="#c4b04c" stroke-width="5.5" stroke-linecap="round"/>
<line x1="561.9" y1="381.7" x2="560.4" y2="392.8" stroke="#e2d273" stroke-width="1.6" stroke-linecap="round" opacity="0.8"/>
<line x1="561.9" y1="381.7" x2="536.7" y2="381.2" stroke="#c4b04c" stroke-width="5.5" stroke-linecap="round"/>
<line x1="561.9" y1="381.7" x2="536.7" y2="381.2" stroke="#e2d273" stroke-width="1.6" stroke-linecap="round" opacity="0.8"/>
<polygon points="592.6,386.2 616.5,399.8 589.5,406.9 565.7,395.3" fill="#a9963c"/>
<line x1="591.1" y1="397" x2="592.6" y2="386.2" stroke="#c4b04c" stroke-width="5.5" stroke-linecap="round"/>
<line x1="591.1" y1="397" x2="592.6" y2="386.2" stroke="#e2d273" stroke-width="1.6" stroke-linecap="round" opacity="0.8"/>
<line x1="591.1" y1="397" x2="616.5" y2="399.8" stroke="#c4b04c" stroke-width="5.5" stroke-linecap="round"/>
<line x1="591.1" y1="397" x2="616.5" y2="399.8" stroke="#e2d273" stroke-width="1.6" stroke-linecap="round" opacity="0.8"/>
<line x1="591.1" y1="397" x2="589.5" y2="406.9" stroke="#c4b04c" stroke-width="5.5" stroke-linecap="round"/>
<line x1="591.1" y1="397" x2="589.5" y2="406.9" stroke="#e2d273" stroke-width="1.6" stroke-linecap="round" opacity="0.8"/>
<line x1="591.1" y1="397" x2="565.7" y2="395.3" stroke="#c4b04c" stroke-width="5.5" stroke-linecap="round"/>
<line x1="591.1" y1="397" x2="565.7" y2="395.3" stroke="#e2d273" stroke-width="1.6" stroke-linecap="round" opacity="0.8"/>
<polygon points="530.7,383.8 554.5,394.9 527.6,404.5 504.1,395.4" fill="#a9963c"/>
<line x1="529.2" y1="394.7" x2="530.7" y2="383.8" stroke="#c4b04c" stroke-width="5.5" stroke-linecap="round"/>
<line x1="529.2" y1="394.7" x2="530.7" y2="383.8" stroke="#e2d273" stroke-width="1.6" stroke-linecap="round" opacity="0.8"/>
<line x1="529.2" y1="394.7" x2="554.5" y2="394.9" stroke="#c4b04c" stroke-width="5.5" stroke-linecap="round"/>
<line x1="529.2" y1="394.7" x2="554.5" y2="394.9" stroke="#e2d273" stroke-width="1.6" stroke-linecap="round" opacity="0.8"/>
<line x1="529.2" y1="394.7" x2="527.6" y2="404.5" stroke="#c4b04c" stroke-width="5.5" stroke-linecap="round"/>
<line x1="529.2" y1="394.7" x2="527.6" y2="404.5" stroke="#e2d273" stroke-width="1.6" stroke-linecap="round" opacity="0.8"/>
<line x1="529.2" y1="394.7" x2="504.1" y2="395.4" stroke="#c4b04c" stroke-width="5.5" stroke-linecap="round"/>
<line x1="529.2" y1="394.7" x2="504.1" y2="395.4" stroke="#e2d273" stroke-width="1.6" stroke-linecap="round" opacity="0.8"/>
<polygon points="559.7,397.4 583.4,408.5 556.4,415.6 532.9,406.6" fill="#a9963c"/>
<line x1="558.1" y1="407" x2="559.7" y2="397.4" stroke="#c4b04c" stroke-width="5.5" stroke-linecap="round"/>
<line x1="558.1" y1="407" x2="559.7" y2="397.4" stroke="#e2d273" stroke-width="1.6" stroke-linecap="round" opacity="0.8"/>
<line x1="558.1" y1="407" x2="583.4" y2="408.5" stroke="#c4b04c" stroke-width="5.5" stroke-linecap="round"/>
<line x1="558.1" y1="407" x2="583.4" y2="408.5" stroke="#e2d273" stroke-width="1.6" stroke-linecap="round" opacity="0.8"/>
<line x1="558.1" y1="407" x2="556.4" y2="415.6" stroke="#c4b04c" stroke-width="5.5" stroke-linecap="round"/>
<line x1="558.1" y1="407" x2="556.4" y2="415.6" stroke="#e2d273" stroke-width="1.6" stroke-linecap="round" opacity="0.8"/>
<line x1="558.1" y1="407" x2="532.9" y2="406.6" stroke="#c4b04c" stroke-width="5.5" stroke-linecap="round"/>
<line x1="558.1" y1="407" x2="532.9" y2="406.6" stroke="#e2d273" stroke-width="1.6" stroke-linecap="round" opacity="0.8"/>
<line x1="597.4" y1="382" x2="522.8" y2="408.1" stroke="#c4b04c" stroke-width="7"/>
<line x1="597.4" y1="381.2" x2="522.8" y2="407.3" stroke="#e2d273" stroke-width="2.2" opacity="0.75"/>
<line x1="527.1" y1="379.4" x2="593" y2="410.9" stroke="#c4b04c" stroke-width="7"/>
<line x1="527.1" y1="378.6" x2="593" y2="410.1" stroke="#e2d273" stroke-width="2.2" opacity="0.75"/>
<line x1="564" y1="362.4" x2="630.7" y2="401.7" stroke="#c4b04c" stroke-width="7"/>
<line x1="564" y1="361.6" x2="630.7" y2="400.9" stroke="#e2d273" stroke-width="2.2" opacity="0.75"/>
<line x1="630.7" y1="401.7" x2="555.4" y2="420" stroke="#c4b04c" stroke-width="7"/>
<line x1="630.7" y1="400.9" x2="555.4" y2="419.2" stroke="#e2d273" stroke-width="2.2" opacity="0.75"/>
<line x1="555.4" y1="420" x2="490.2" y2="396.3" stroke="#c4b04c" stroke-width="7"/>
<line x1="555.4" y1="419.2" x2="490.2" y2="395.5" stroke="#e2d273" stroke-width="2.2" opacity="0.75"/>
<line x1="490.2" y1="396.3" x2="564" y2="362.4" stroke="#c4b04c" stroke-width="7"/>
<line x1="490.2" y1="395.5" x2="564" y2="361.6" stroke="#e2d273" stroke-width="2.2" opacity="0.75"/>
</g>
<polyline points="555.4,420 554.3,490" fill="none" stroke="#786a24" stroke-width="1.4" opacity="0.5"/>
</g><g filter="url(#bl1)">
<rect x="639.2" y="361.3" width="123.8" height="130.3" fill="url(#bga1)"/>
<clipPath id="c4"><polygon points="641.3,397.4 698.9,425.4 698.9,490 651.5,452.3"/></clipPath>
<g clip-path="url(#c4)">
<polygon points="641.3,397.4 698.9,425.4 698.9,490 651.5,452.3" fill="#46433a"/>
<path d="M641.3 397.4C642.3 397.9 645.1 399.3 647.1 400.2C649 401.1 650.9 402.1 652.8 403C654.7 403.9 656.7 404.9 658.6 405.8C660.5 406.7 662.4 407.7 664.3 408.6C666.3 409.5 669.1 410.9 670.1 411.4L671.1 423.3C670.2 422.8 667.4 421 665.6 420.2C663.7 419.4 661.9 419.5 660 418.5C658.2 417.4 656.3 415.1 654.5 413.8C652.6 412.6 650.7 411.9 648.9 411C647 410.1 644.3 408.8 643.3 408.4Z" fill="url(#bd_mi)"/>
<path d="M643.3 408.4C644.3 408.8 647 410.1 648.9 411C650.7 411.9 652.6 412.6 654.5 413.8C656.3 415.1 658.2 417.4 660 418.5C661.9 419.5 663.7 419.4 665.6 420.2C667.4 421 670.2 422.8 671.1 423.3L672.1 435.3C671.2 434.8 668.6 433.6 666.8 432.5C665 431.3 663.2 429.5 661.4 428.2C659.7 427 657.9 426 656.1 425.2C654.3 424.3 652.5 424 650.7 423.1C648.9 422.1 646.3 420 645.4 419.4Z" fill="url(#bd_mi)"/>
<path d="M645.4 419.4C646.3 420 648.9 422.1 650.7 423.1C652.5 424 654.3 424.3 656.1 425.2C657.9 426 659.7 427 661.4 428.2C663.2 429.5 665 431.3 666.8 432.5C668.6 433.6 671.2 434.8 672.1 435.3L673.2 447.2C672.3 446.7 669.7 445.3 668 444.1C666.3 442.8 664.6 441.2 662.9 439.9C661.1 438.7 659.4 437.6 657.7 436.6C656 435.7 654.3 435.3 652.6 434.2C650.9 433.2 648.3 431 647.4 430.3Z" fill="url(#bd_mi)"/>
<path d="M647.4 430.3C648.3 431 650.9 433.2 652.6 434.2C654.3 435.3 656 435.7 657.7 436.6C659.4 437.6 661.1 438.7 662.9 439.9C664.6 441.2 666.3 442.8 668 444.1C669.7 445.3 672.3 446.7 673.2 447.2L674.2 459.2C673.4 458.7 670.9 457.4 669.2 456C667.6 454.6 665.9 452.4 664.3 451.1C662.6 449.8 661 449.2 659.3 448.3C657.7 447.4 656.1 446.7 654.4 445.5C652.8 444.3 650.3 442 649.5 441.3Z" fill="url(#bd_mi)"/>
<path d="M649.5 441.3C650.3 442 652.8 444.3 654.4 445.5C656.1 446.7 657.7 447.4 659.3 448.3C661 449.2 662.6 449.8 664.3 451.1C665.9 452.4 667.6 454.6 669.2 456C670.9 457.4 673.4 458.7 674.2 459.2L675.2 471.1C674.4 470.5 672 468.6 670.5 467.4C668.9 466.1 667.3 464.9 665.7 463.6C664.1 462.4 662.6 461.1 661 459.8C659.4 458.6 657.8 457.3 656.2 456.1C654.7 454.8 652.3 452.9 651.5 452.3Z" fill="url(#bd_mi)"/>
<path d="M670.1 411.4C671.1 411.9 673.9 413.3 675.9 414.2C677.8 415.1 679.7 416.1 681.6 417C683.5 417.9 685.5 418.9 687.4 419.8C689.3 420.7 691.2 421.7 693.1 422.6C695.1 423.5 697.9 424.9 698.9 425.4L698.9 438.3C698 437.9 695.2 436.6 693.3 435.6C691.5 434.6 689.6 433.5 687.8 432.3C685.9 431.1 684.1 429.5 682.2 428.5C680.4 427.5 678.5 427.1 676.7 426.3C674.8 425.4 672 423.8 671.1 423.3Z" fill="url(#bd_mi)"/>
<path d="M671.1 423.3C672 423.8 674.8 425.4 676.7 426.3C678.5 427.1 680.4 427.5 682.2 428.5C684.1 429.5 685.9 431.1 687.8 432.3C689.6 433.5 691.5 434.6 693.3 435.6C695.2 436.6 698 437.9 698.9 438.3L698.9 451.2C698 450.6 695.3 448.2 693.5 447.2C691.8 446.1 690 445.7 688.2 444.8C686.4 444 684.6 443.1 682.8 442.1C681.1 441.1 679.3 440.1 677.5 439C675.7 437.9 673 435.9 672.1 435.3Z" fill="url(#bd_mi)"/>
<path d="M672.1 435.3C673 435.9 675.7 437.9 677.5 439C679.3 440.1 681.1 441.1 682.8 442.1C684.6 443.1 686.4 444 688.2 444.8C690 445.7 691.8 446.1 693.5 447.2C695.3 448.2 698 450.6 698.9 451.2L698.9 464.2C698 463.7 695.5 462.4 693.8 461.3C692 460.2 690.3 459 688.6 457.7C686.9 456.4 685.2 454.9 683.5 453.6C681.7 452.3 680 451.1 678.3 450.1C676.6 449 674 447.7 673.2 447.2Z" fill="url(#bd_mi)"/>
<path d="M673.2 447.2C674 447.7 676.6 449 678.3 450.1C680 451.1 681.7 452.3 683.5 453.6C685.2 454.9 686.9 456.4 688.6 457.7C690.3 459 692 460.2 693.8 461.3C695.5 462.4 698 463.7 698.9 464.2L698.9 477.1C698.1 476.6 695.6 475 694 473.9C692.3 472.9 690.7 472.1 689 470.7C687.4 469.3 685.7 467.1 684.1 465.6C682.4 464.2 680.8 463.2 679.1 462.1C677.5 461 675 459.7 674.2 459.2Z" fill="url(#bd_mi)"/>
<path d="M674.2 459.2C675 459.7 677.5 461 679.1 462.1C680.8 463.2 682.4 464.2 684.1 465.6C685.7 467.1 687.4 469.3 689 470.7C690.7 472.1 692.3 472.9 694 473.9C695.6 475 698.1 476.6 698.9 477.1L698.9 490C698.1 489.4 695.7 487.5 694.2 486.2C692.6 485 691 483.7 689.4 482.5C687.8 481.2 686.3 479.9 684.7 478.7C683.1 477.4 681.5 476.2 679.9 474.9C678.4 473.7 676 471.8 675.2 471.1Z" fill="url(#bd_mi)"/>
<polygon points="641.3,397.4 698.9,425.4 698.9,490 651.5,452.3" fill="#24221d" opacity="0.18"/>
</g>
<clipPath id="c5"><polygon points="698.9,425.4 760.3,393 754.9,463 698.9,490"/></clipPath>
<g clip-path="url(#c5)">
<polygon points="698.9,425.4 760.3,393 754.9,463 698.9,490" fill="#46433a"/>
<path d="M698.9 425.4C699.9 424.9 703 423.2 705 422.2C707.1 421.1 709.1 420 711.2 418.9C713.2 417.8 715.3 416.8 717.3 415.7C719.4 414.6 721.4 413.5 723.5 412.4C725.5 411.4 728.6 409.7 729.6 409.2L729.1 422.7C728.1 423 725 423.8 723 424.9C721 426 719 428 717 429.3C715 430.6 713 431.8 711 432.8C709 433.8 706.9 434.4 704.9 435.3C702.9 436.3 699.9 437.8 698.9 438.3Z" fill="url(#bd_mi)"/>
<path d="M698.9 438.3C699.9 437.8 702.9 436.3 704.9 435.3C706.9 434.4 709 433.8 711 432.8C713 431.8 715 430.6 717 429.3C719 428 721 426 723 424.9C725 423.8 728.1 423 729.1 422.7L728.5 436.1C727.5 436.7 724.6 438.2 722.6 439.4C720.6 440.5 718.6 442.3 716.7 443.1C714.7 444 712.7 443.6 710.7 444.3C708.8 445.1 706.8 446.7 704.8 447.9C702.8 449 699.9 450.7 698.9 451.2Z" fill="url(#bd_mi)"/>
<path d="M698.9 451.2C699.9 450.7 702.8 449 704.8 447.9C706.8 446.7 708.8 445.1 710.7 444.3C712.7 443.6 714.7 444 716.7 443.1C718.6 442.3 720.6 440.5 722.6 439.4C724.6 438.2 727.5 436.7 728.5 436.1L728 449.6C727 450.1 724.1 451.7 722.2 452.8C720.2 453.9 718.3 455.4 716.3 456.2C714.4 456.9 712.5 456.6 710.5 457.4C708.6 458.2 706.7 460 704.7 461.1C702.8 462.2 699.9 463.7 698.9 464.2Z" fill="url(#bd_mi)"/>
<path d="M698.9 464.2C699.9 463.7 702.8 462.2 704.7 461.1C706.7 460 708.6 458.2 710.5 457.4C712.5 456.6 714.4 456.9 716.3 456.2C718.3 455.4 720.2 453.9 722.2 452.8C724.1 451.7 727 450.1 728 449.6L727.4 463C726.5 463.5 723.6 464.9 721.7 465.7C719.8 466.5 717.9 467.1 716 467.9C714.1 468.8 712.2 470 710.3 470.9C708.4 471.9 706.5 472.8 704.6 473.8C702.7 474.8 699.9 476.5 698.9 477.1Z" fill="url(#bd_mi)"/>
<path d="M698.9 477.1C699.9 476.5 702.7 474.8 704.6 473.8C706.5 472.8 708.4 471.9 710.3 470.9C712.2 470 714.1 468.8 716 467.9C717.9 467.1 719.8 466.5 721.7 465.7C723.6 464.9 726.5 463.5 727.4 463L726.9 476.5C726 476.9 723.2 478.3 721.3 479.2C719.4 480.1 717.6 481 715.7 481.9C713.8 482.8 712 483.7 710.1 484.6C708.2 485.5 706.4 486.4 704.5 487.3C702.6 488.2 699.8 489.6 698.9 490Z" fill="url(#bd_mi)"/>
<path d="M729.6 409.2C730.6 408.7 733.7 407 735.7 406C737.8 404.9 739.8 403.8 741.9 402.7C743.9 401.6 746 400.6 748 399.5C750.1 398.4 752.1 397.3 754.2 396.2C756.2 395.2 759.3 393.5 760.3 393L759.2 407C758.2 407.6 755.2 409.6 753.2 410.4C751.2 411.3 749.2 411.4 747.2 412.3C745.1 413.2 743.1 414.9 741.1 416C739.1 417.2 737.1 418.3 735.1 419.4C733.1 420.5 730.1 422.1 729.1 422.7Z" fill="url(#bd_mi)"/>
<path d="M729.1 422.7C730.1 422.1 733.1 420.5 735.1 419.4C737.1 418.3 739.1 417.2 741.1 416C743.1 414.9 745.1 413.2 747.2 412.3C749.2 411.4 751.2 411.3 753.2 410.4C755.2 409.6 758.2 407.6 759.2 407L758.1 421C757.2 421.4 754.2 422.4 752.2 423.3C750.2 424.3 748.3 425.5 746.3 426.6C744.3 427.7 742.3 428.5 740.4 429.7C738.4 430.9 736.4 432.6 734.4 433.7C732.5 434.8 729.5 435.7 728.5 436.1Z" fill="url(#bd_mi)"/>
<path d="M728.5 436.1C729.5 435.7 732.5 434.8 734.4 433.7C736.4 432.6 738.4 430.9 740.4 429.7C742.3 428.5 744.3 427.7 746.3 426.6C748.3 425.5 750.2 424.3 752.2 423.3C754.2 422.4 757.2 421.4 758.1 421L757.1 435C756.1 435.4 753.2 436.2 751.2 437.2C749.3 438.2 747.4 439.9 745.4 441.1C743.5 442.3 741.6 443.1 739.6 444.1C737.7 445.2 735.7 446.5 733.8 447.4C731.9 448.3 728.9 449.2 728 449.6Z" fill="url(#bd_mi)"/>
<path d="M728 449.6C728.9 449.2 731.9 448.3 733.8 447.4C735.7 446.5 737.7 445.2 739.6 444.1C741.6 443.1 743.5 442.3 745.4 441.1C747.4 439.9 749.3 438.2 751.2 437.2C753.2 436.2 756.1 435.4 757.1 435L756 449C755 449.4 752.2 450.8 750.3 451.6C748.4 452.3 746.5 452.5 744.6 453.5C742.7 454.4 740.8 456.2 738.9 457.3C737 458.5 735.1 459.2 733.1 460.2C731.2 461.1 728.4 462.6 727.4 463Z" fill="url(#bd_mi)"/>
<path d="M727.4 463C728.4 462.6 731.2 461.1 733.1 460.2C735.1 459.2 737 458.5 738.9 457.3C740.8 456.2 742.7 454.4 744.6 453.5C746.5 452.5 748.4 452.3 750.3 451.6C752.2 450.8 755 449.4 756 449L754.9 463C754 463.4 751.2 464.8 749.3 465.7C747.4 466.6 745.6 467.5 743.7 468.4C741.8 469.3 740 470.2 738.1 471.1C736.2 472 734.4 472.9 732.5 473.8C730.6 474.7 727.8 476.1 726.9 476.5Z" fill="url(#bd_mi)"/>
</g>
<clipPath id="c6"><polygon points="702.7,362.9 760.3,393 698.9,425.4 641.3,397.4"/></clipPath>
<g clip-path="url(#c6)">
<polygon points="702.7,362.9 760.3,393 698.9,425.4 641.3,397.4" fill="#7d7868"/>
<polygon points="702.3,369.3 723.1,380.1 701,392.2 680.2,381.7" fill="#24221d"/>
<line x1="701.6" y1="380.8" x2="702.3" y2="369.3" stroke="#b3ab91" stroke-width="5.5" stroke-linecap="round"/>
<line x1="701.6" y1="380.8" x2="702.3" y2="369.3" stroke="#dedbce" stroke-width="1.6" stroke-linecap="round" opacity="0.8"/>
<line x1="701.6" y1="380.8" x2="723.1" y2="380.1" stroke="#b3ab91" stroke-width="5.5" stroke-linecap="round"/>
<line x1="701.6" y1="380.8" x2="723.1" y2="380.1" stroke="#dedbce" stroke-width="1.6" stroke-linecap="round" opacity="0.8"/>
<line x1="701.6" y1="380.8" x2="701" y2="392.2" stroke="#b3ab91" stroke-width="5.5" stroke-linecap="round"/>
<line x1="701.6" y1="380.8" x2="701" y2="392.2" stroke="#dedbce" stroke-width="1.6" stroke-linecap="round" opacity="0.8"/>
<line x1="701.6" y1="380.8" x2="680.2" y2="381.7" stroke="#b3ab91" stroke-width="5.5" stroke-linecap="round"/>
<line x1="701.6" y1="380.8" x2="680.2" y2="381.7" stroke="#dedbce" stroke-width="1.6" stroke-linecap="round" opacity="0.8"/>
<polygon points="727.7,382.5 748.4,393.3 726.3,405 705.6,394.5" fill="#24221d"/>
<line x1="727" y1="393.8" x2="727.7" y2="382.5" stroke="#b3ab91" stroke-width="5.5" stroke-linecap="round"/>
<line x1="727" y1="393.8" x2="727.7" y2="382.5" stroke="#dedbce" stroke-width="1.6" stroke-linecap="round" opacity="0.8"/>
<line x1="727" y1="393.8" x2="748.4" y2="393.3" stroke="#b3ab91" stroke-width="5.5" stroke-linecap="round"/>
<line x1="727" y1="393.8" x2="748.4" y2="393.3" stroke="#dedbce" stroke-width="1.6" stroke-linecap="round" opacity="0.8"/>
<line x1="727" y1="393.8" x2="726.3" y2="405" stroke="#b3ab91" stroke-width="5.5" stroke-linecap="round"/>
<line x1="727" y1="393.8" x2="726.3" y2="405" stroke="#dedbce" stroke-width="1.6" stroke-linecap="round" opacity="0.8"/>
<line x1="727" y1="393.8" x2="705.6" y2="394.5" stroke="#b3ab91" stroke-width="5.5" stroke-linecap="round"/>
<line x1="727" y1="393.8" x2="705.6" y2="394.5" stroke="#dedbce" stroke-width="1.6" stroke-linecap="round" opacity="0.8"/>
<polygon points="675.3,384.4 696,394.9 673.9,406.9 653.2,396.8" fill="#24221d"/>
<line x1="674.6" y1="395.7" x2="675.3" y2="384.4" stroke="#b3ab91" stroke-width="5.5" stroke-linecap="round"/>
<line x1="674.6" y1="395.7" x2="675.3" y2="384.4" stroke="#dedbce" stroke-width="1.6" stroke-linecap="round" opacity="0.8"/>
<line x1="674.6" y1="395.7" x2="696" y2="394.9" stroke="#b3ab91" stroke-width="5.5" stroke-linecap="round"/>
<line x1="674.6" y1="395.7" x2="696" y2="394.9" stroke="#dedbce" stroke-width="1.6" stroke-linecap="round" opacity="0.8"/>
<line x1="674.6" y1="395.7" x2="673.9" y2="406.9" stroke="#b3ab91" stroke-width="5.5" stroke-linecap="round"/>
<line x1="674.6" y1="395.7" x2="673.9" y2="406.9" stroke="#dedbce" stroke-width="1.6" stroke-linecap="round" opacity="0.8"/>
<line x1="674.6" y1="395.7" x2="653.2" y2="396.8" stroke="#b3ab91" stroke-width="5.5" stroke-linecap="round"/>
<line x1="674.6" y1="395.7" x2="653.2" y2="396.8" stroke="#dedbce" stroke-width="1.6" stroke-linecap="round" opacity="0.8"/>
<polygon points="700.6,397.2 721.4,407.6 699.3,419.3 678.5,409.2" fill="#24221d"/>
<line x1="700" y1="408.3" x2="700.6" y2="397.2" stroke="#b3ab91" stroke-width="5.5" stroke-linecap="round"/>
<line x1="700" y1="408.3" x2="700.6" y2="397.2" stroke="#dedbce" stroke-width="1.6" stroke-linecap="round" opacity="0.8"/>
<line x1="700" y1="408.3" x2="721.4" y2="407.6" stroke="#b3ab91" stroke-width="5.5" stroke-linecap="round"/>
<line x1="700" y1="408.3" x2="721.4" y2="407.6" stroke="#dedbce" stroke-width="1.6" stroke-linecap="round" opacity="0.8"/>
<line x1="700" y1="408.3" x2="699.3" y2="419.3" stroke="#b3ab91" stroke-width="5.5" stroke-linecap="round"/>
<line x1="700" y1="408.3" x2="699.3" y2="419.3" stroke="#dedbce" stroke-width="1.6" stroke-linecap="round" opacity="0.8"/>
<line x1="700" y1="408.3" x2="678.5" y2="409.2" stroke="#b3ab91" stroke-width="5.5" stroke-linecap="round"/>
<line x1="700" y1="408.3" x2="678.5" y2="409.2" stroke="#dedbce" stroke-width="1.6" stroke-linecap="round" opacity="0.8"/>
<line x1="731.5" y1="377.9" x2="670.1" y2="411.4" stroke="#9a9584" stroke-width="7"/>
<line x1="731.5" y1="377.1" x2="670.1" y2="410.6" stroke="#dedbce" stroke-width="2.2" opacity="0.75"/>
<line x1="672" y1="380.1" x2="729.6" y2="409.2" stroke="#9a9584" stroke-width="7"/>
<line x1="672" y1="379.3" x2="729.6" y2="408.4" stroke="#dedbce" stroke-width="2.2" opacity="0.75"/>
<line x1="702.7" y1="362.9" x2="760.3" y2="393" stroke="#9a9584" stroke-width="7"/>
<line x1="702.7" y1="362.1" x2="760.3" y2="392.2" stroke="#dedbce" stroke-width="2.2" opacity="0.75"/>
<line x1="760.3" y1="393" x2="698.9" y2="425.4" stroke="#9a9584" stroke-width="7"/>
<line x1="760.3" y1="392.2" x2="698.9" y2="424.6" stroke="#dedbce" stroke-width="2.2" opacity="0.75"/>
<line x1="698.9" y1="425.4" x2="641.3" y2="397.4" stroke="#9a9584" stroke-width="7"/>
<line x1="698.9" y1="424.6" x2="641.3" y2="396.6" stroke="#dedbce" stroke-width="2.2" opacity="0.75"/>
<line x1="641.3" y1="397.4" x2="702.7" y2="362.9" stroke="#9a9584" stroke-width="7"/>
<line x1="641.3" y1="396.6" x2="702.7" y2="362.1" stroke="#dedbce" stroke-width="2.2" opacity="0.75"/>
</g>
<polyline points="698.9,425.4 698.9,490" fill="none" stroke="#46433a" stroke-width="1.4" opacity="0.5"/>
</g>
<rect x="113.1" y="13.4" width="701.4" height="565" fill="none" stroke="#000" stroke-width="2.5"/>
<text x="104.8" y="584.6" font-size="24" text-anchor="end">0</text>
<line x1="113.1" y1="547.01" x2="116.1" y2="547.01" stroke="#000" stroke-width="2.4"/>
<line x1="113.1" y1="515.62" x2="119.3" y2="515.62" stroke="#000" stroke-width="2.4"/>
<text x="104.8" y="521.82" font-size="24" text-anchor="end">10</text>
<line x1="113.1" y1="484.23" x2="116.1" y2="484.23" stroke="#000" stroke-width="2.4"/>
<line x1="113.1" y1="452.84" x2="119.3" y2="452.84" stroke="#000" stroke-width="2.4"/>
<text x="104.8" y="459.04" font-size="24" text-anchor="end">20</text>
<line x1="113.1" y1="421.46" x2="116.1" y2="421.46" stroke="#000" stroke-width="2.4"/>
<line x1="113.1" y1="390.07" x2="119.3" y2="390.07" stroke="#000" stroke-width="2.4"/>
<text x="104.8" y="396.27" font-size="24" text-anchor="end">30</text>
<line x1="113.1" y1="358.68" x2="116.1" y2="358.68" stroke="#000" stroke-width="2.4"/>
<line x1="113.1" y1="327.29" x2="119.3" y2="327.29" stroke="#000" stroke-width="2.4"/>
<text x="104.8" y="333.49" font-size="24" text-anchor="end">40</text>
<line x1="113.1" y1="295.9" x2="116.1" y2="295.9" stroke="#000" stroke-width="2.4"/>
<line x1="113.1" y1="264.51" x2="119.3" y2="264.51" stroke="#000" stroke-width="2.4"/>
<text x="104.8" y="270.71" font-size="24" text-anchor="end">50</text>
<line x1="113.1" y1="233.12" x2="116.1" y2="233.12" stroke="#000" stroke-width="2.4"/>
<line x1="113.1" y1="201.73" x2="119.3" y2="201.73" stroke="#000" stroke-width="2.4"/>
<text x="104.8" y="207.93" font-size="24" text-anchor="end">60</text>
<line x1="113.1" y1="170.34" x2="116.1" y2="170.34" stroke="#000" stroke-width="2.4"/>
<line x1="113.1" y1="138.96" x2="119.3" y2="138.96" stroke="#000" stroke-width="2.4"/>
<text x="104.8" y="145.16" font-size="24" text-anchor="end">70</text>
<line x1="113.1" y1="107.57" x2="116.1" y2="107.57" stroke="#000" stroke-width="2.4"/>
<line x1="113.1" y1="76.18" x2="119.3" y2="76.18" stroke="#000" stroke-width="2.4"/>
<text x="104.8" y="82.38" font-size="24" text-anchor="end">80</text>
<line x1="113.1" y1="44.79" x2="116.1" y2="44.79" stroke="#000" stroke-width="2.4"/>
<text x="104.8" y="19.6" font-size="24" text-anchor="end">90</text>
<text x="113.1" y="605.1" font-size="24" text-anchor="middle">0</text>
<line x1="174.09" y1="578.4" x2="174.09" y2="570.2" stroke="#000" stroke-width="2.4"/>
<text x="174.09" y="605.1" font-size="24" text-anchor="middle">10</text>
<line x1="235.08" y1="578.4" x2="235.08" y2="570.2" stroke="#000" stroke-width="2.4"/>
<text x="235.08" y="605.1" font-size="24" text-anchor="middle">20</text>
<line x1="296.07" y1="578.4" x2="296.07" y2="570.2" stroke="#000" stroke-width="2.4"/>
<text x="296.07" y="605.1" font-size="24" text-anchor="middle">30</text>
<line x1="357.07" y1="578.4" x2="357.07" y2="570.2" stroke="#000" stroke-width="2.4"/>
<text x="357.07" y="605.1" font-size="24" text-anchor="middle">40</text>
<line x1="418.06" y1="578.4" x2="418.06" y2="570.2" stroke="#000" stroke-width="2.4"/>
<text x="418.06" y="605.1" font-size="24" text-anchor="middle">50</text>
<line x1="479.05" y1="578.4" x2="479.05" y2="570.2" stroke="#000" stroke-width="2.4"/>
<text x="479.05" y="605.1" font-size="24" text-anchor="middle">60</text>
<line x1="540.04" y1="578.4" x2="540.04" y2="570.2" stroke="#000" stroke-width="2.4"/>
<text x="540.04" y="605.1" font-size="24" text-anchor="middle">70</text>
<line x1="601.03" y1="578.4" x2="601.03" y2="570.2" stroke="#000" stroke-width="2.4"/>
<text x="601.03" y="605.1" font-size="24" text-anchor="middle">80</text>
<line x1="662.02" y1="578.4" x2="662.02" y2="570.2" stroke="#000" stroke-width="2.4"/>
<text x="662.02" y="605.1" font-size="24" text-anchor="middle">90</text>
<line x1="723.01" y1="578.4" x2="723.01" y2="570.2" stroke="#000" stroke-width="2.4"/>
<text x="723.01" y="605.1" font-size="24" text-anchor="middle">100</text>
<line x1="784" y1="578.4" x2="784" y2="570.2" stroke="#000" stroke-width="2.4"/>
<text x="784" y="605.1" font-size="24" text-anchor="middle">110</text>
<path fill="none" stroke="#0000ff" stroke-width="1.55" d="M113.1 578.4L119.07 332.3M119.31 321.7L125.19 40.95M125.51 40.95L131.18 180.5M131.85 191.08L137.04 251.47M138.38 261.98L142.71 287.47M150.61 279.13L154.88 254.79M157.45 244.53L160.24 236.05M163.86 235.94L166.03 241.4M170.15 251.16L171.93 255.16M176.15 264.89L178.13 269.61M194.8 271.28L196.08 268.78M199.47 258.85L203.61 236.8M213.65 235.41L213.82 235.66M218.88 244.92L220.79 249.34M225.01 259.06L226.86 263.26M231.45 272.81L232.62 275.02M285.46 280.45L288.39 271.09M291.41 260.93L294.64 249.45M297.94 239.39L300.31 233.08M316.69 236.36L318.15 239.35M322.17 249.13L324.87 257.07M329.2 266.69L330.04 268.15M402.39 271.63L403.23 270.17M408.27 260.85L409.55 258.34M414.82 249.16L415.19 248.58M444.48 266.64L446.52 271.57M475.74 282.16L476.26 281.32M511.41 280.55L513.78 274.24M518.32 264.7L519.07 263.42M524.31 254.2L525.27 252.46M548.71 254.78L549.67 256.52M555.2 265.55L555.37 265.81M743.74 246.25L744.98 243.84M748.79 234.01L752.13 221.64M755.37 211.56L757.74 205.25M761.95 195.53L763.37 192.64M766.5 182.64L771.01 152.78M773.35 142.47L776.36 132.55M779.05 122.3L782.86 105.17"/>
<g fill="url(#mb)">
<circle cx="119.2" cy="327" r="3.75"/>
<circle cx="125.3" cy="35.65" r="3.75"/>
<circle cx="131.4" cy="185.8" r="3.75"/>
<circle cx="137.5" cy="256.75" r="3.75"/>
<circle cx="143.6" cy="292.7" r="3.75"/>
<circle cx="149.69" cy="284.35" r="3.75"/>
<circle cx="155.79" cy="249.57" r="3.75"/>
<circle cx="161.89" cy="231.01" r="3.75"/>
<circle cx="167.99" cy="246.32" r="3.75"/>
<circle cx="174.09" cy="260" r="3.75"/>
<circle cx="180.19" cy="274.49" r="3.75"/>
<circle cx="186.29" cy="281.45" r="3.75"/>
<circle cx="192.39" cy="276" r="3.75"/>
<circle cx="198.49" cy="264.06" r="3.75"/>
<circle cx="204.59" cy="231.59" r="3.75"/>
<circle cx="210.69" cy="231.01" r="3.75"/>
<circle cx="216.79" cy="240.06" r="3.75"/>
<circle cx="222.88" cy="254.2" r="3.75"/>
<circle cx="228.98" cy="268.12" r="3.75"/>
<circle cx="235.08" cy="279.71" r="3.75"/>
<circle cx="241.18" cy="288.41" r="3.75"/>
<circle cx="247.28" cy="290.72" r="3.75"/>
<circle cx="253.38" cy="283.19" r="3.75"/>
<circle cx="259.48" cy="279.48" r="3.75"/>
<circle cx="265.58" cy="283.19" r="3.75"/>
<circle cx="271.68" cy="287.25" r="3.75"/>
<circle cx="277.78" cy="288.41" r="3.75"/>
<circle cx="283.88" cy="285.51" r="3.75"/>
<circle cx="289.97" cy="266.03" r="3.75"/>
<circle cx="296.07" cy="244.35" r="3.75"/>
<circle cx="302.17" cy="228.12" r="3.75"/>
<circle cx="308.27" cy="223.83" r="3.75"/>
<circle cx="314.37" cy="231.59" r="3.75"/>
<circle cx="320.47" cy="244.12" r="3.75"/>
<circle cx="326.57" cy="262.09" r="3.75"/>
<circle cx="332.67" cy="272.75" r="3.75"/>
<circle cx="338.77" cy="276.81" r="3.75"/>
<circle cx="344.87" cy="279.13" r="3.75"/>
<circle cx="350.97" cy="273.33" r="3.75"/>
<circle cx="357.07" cy="269.04" r="3.75"/>
<circle cx="363.16" cy="269.28" r="3.75"/>
<circle cx="369.26" cy="269.51" r="3.75"/>
<circle cx="375.36" cy="270.2" r="3.75"/>
<circle cx="381.46" cy="277.16" r="3.75"/>
<circle cx="387.56" cy="279.13" r="3.75"/>
<circle cx="393.66" cy="279.71" r="3.75"/>
<circle cx="399.76" cy="276.23" r="3.75"/>
<circle cx="405.86" cy="265.57" r="3.75"/>
<circle cx="411.96" cy="253.62" r="3.75"/>
<circle cx="418.06" cy="244.12" r="3.75"/>
<circle cx="424.16" cy="244.93" r="3.75"/>
<circle cx="430.25" cy="250.96" r="3.75"/>
<circle cx="436.35" cy="255.94" r="3.75"/>
<circle cx="442.45" cy="261.74" r="3.75"/>
<circle cx="448.55" cy="276.46" r="3.75"/>
<circle cx="454.65" cy="282.26" r="3.75"/>
<circle cx="460.75" cy="284.35" r="3.75"/>
<circle cx="466.85" cy="289.22" r="3.75"/>
<circle cx="472.95" cy="286.67" r="3.75"/>
<circle cx="479.05" cy="276.81" r="3.75"/>
<circle cx="485.15" cy="272.17" r="3.75"/>
<circle cx="491.25" cy="278.55" r="3.75"/>
<circle cx="497.35" cy="282.96" r="3.75"/>
<circle cx="503.44" cy="282.61" r="3.75"/>
<circle cx="509.54" cy="285.51" r="3.75"/>
<circle cx="515.64" cy="269.28" r="3.75"/>
<circle cx="521.74" cy="258.84" r="3.75"/>
<circle cx="527.84" cy="247.83" r="3.75"/>
<circle cx="533.94" cy="247.25" r="3.75"/>
<circle cx="540.04" cy="244.12" r="3.75"/>
<circle cx="546.14" cy="250.14" r="3.75"/>
<circle cx="552.24" cy="261.16" r="3.75"/>
<circle cx="558.34" cy="270.2" r="3.75"/>
<circle cx="564.44" cy="270.2" r="3.75"/>
<circle cx="570.53" cy="272.75" r="3.75"/>
<circle cx="576.63" cy="273.68" r="3.75"/>
<circle cx="582.73" cy="271.83" r="3.75"/>
<circle cx="588.83" cy="268.7" r="3.75"/>
<circle cx="594.93" cy="266.72" r="3.75"/>
<circle cx="601.03" cy="266.96" r="3.75"/>
<circle cx="607.13" cy="271.36" r="3.75"/>
<circle cx="613.23" cy="276" r="3.75"/>
<circle cx="619.33" cy="281.8" r="3.75"/>
<circle cx="625.43" cy="276.46" r="3.75"/>
<circle cx="631.53" cy="271.01" r="3.75"/>
<circle cx="637.63" cy="262.9" r="3.75"/>
<circle cx="643.72" cy="259.77" r="3.75"/>
<circle cx="649.82" cy="260.93" r="3.75"/>
<circle cx="655.92" cy="265.8" r="3.75"/>
<circle cx="662.02" cy="271.83" r="3.75"/>
<circle cx="668.12" cy="266.38" r="3.75"/>
<circle cx="674.22" cy="264.87" r="3.75"/>
<circle cx="680.32" cy="271.36" r="3.75"/>
<circle cx="686.42" cy="279.13" r="3.75"/>
<circle cx="692.52" cy="283.19" r="3.75"/>
<circle cx="698.62" cy="282.61" r="3.75"/>
<circle cx="704.72" cy="276.81" r="3.75"/>
<circle cx="710.81" cy="269.86" r="3.75"/>
<circle cx="716.91" cy="262.09" r="3.75"/>
<circle cx="723.01" cy="257.1" r="3.75"/>
<circle cx="729.11" cy="257.68" r="3.75"/>
<circle cx="735.21" cy="253.04" r="3.75"/>
<circle cx="741.31" cy="250.96" r="3.75"/>
<circle cx="747.41" cy="239.13" r="3.75"/>
<circle cx="753.51" cy="216.52" r="3.75"/>
<circle cx="759.61" cy="200.29" r="3.75"/>
<circle cx="765.71" cy="187.88" r="3.75"/>
<circle cx="771.81" cy="147.54" r="3.75"/>
<circle cx="777.91" cy="127.48" r="3.75"/>
<circle cx="784" cy="100" r="3.75"/>
</g>
<path fill="none" stroke="#ff0000" stroke-width="1.55" d="M113.1 578.4L119.11 223.3M119.44 212.71L125.06 86.49M127.24 76.27L127.5 75.6M127.5 75.6L130.59 95.76M131.88 106.28L137.01 162.32M138 172.88L143.09 225.74M144.27 236.27L149.02 273.29M150.88 283.72L154.61 300.05M170.78 292.59L171.3 291.75M175.78 282.22L178.51 274.07M182.35 264.2L184.13 260.2M238.05 278.56L238.22 278.31M279.98 273.15L281.67 269.46M285.53 259.6L288.32 251.12M292.76 241.58L293.28 240.74M317.16 255.81L317.68 256.65M323.14 265.74L323.9 267.02M390.35 278.68L390.87 277.84M396.57 268.9L396.85 268.49M645.71 288.48L647.84 283.23M651.17 273.19L654.57 260.26M657.21 249.99L660.73 235.92M663.56 225.71L666.58 215.8M669.73 205.68L672.61 196.64M676.1 186.64L678.8 179.5"/>
<g fill="url(#mr)">
<circle cx="119.2" cy="218" r="3.75"/>
<circle cx="125.3" cy="81.2" r="3.75"/>
<circle cx="131.4" cy="101" r="3.75"/>
<circle cx="137.5" cy="167.6" r="3.75"/>
<circle cx="143.6" cy="231.01" r="3.75"/>
<circle cx="149.69" cy="278.55" r="3.75"/>
<circle cx="155.79" cy="305.22" r="3.75"/>
<circle cx="161.89" cy="302.9" r="3.75"/>
<circle cx="167.99" cy="297.1" r="3.75"/>
<circle cx="174.09" cy="287.25" r="3.75"/>
<circle cx="180.19" cy="269.04" r="3.75"/>
<circle cx="186.29" cy="255.36" r="3.75"/>
<circle cx="192.39" cy="249.33" r="3.75"/>
<circle cx="198.49" cy="254.2" r="3.75"/>
<circle cx="204.59" cy="260.23" r="3.75"/>
<circle cx="210.69" cy="268.7" r="3.75"/>
<circle cx="216.79" cy="275.65" r="3.75"/>
<circle cx="222.88" cy="284.35" r="3.75"/>
<circle cx="228.98" cy="287.83" r="3.75"/>
<circle cx="235.08" cy="282.96" r="3.75"/>
<circle cx="241.18" cy="273.91" r="3.75"/>
<circle cx="247.28" cy="271.59" r="3.75"/>
<circle cx="253.38" cy="277.97" r="3.75"/>
<circle cx="259.48" cy="282.96" r="3.75"/>
<circle cx="265.58" cy="284.93" r="3.75"/>
<circle cx="271.68" cy="286.09" r="3.75"/>
<circle cx="277.78" cy="277.97" r="3.75"/>
<circle cx="283.88" cy="264.64" r="3.75"/>
<circle cx="289.97" cy="246.09" r="3.75"/>
<circle cx="296.07" cy="236.23" r="3.75"/>
<circle cx="302.17" cy="235.42" r="3.75"/>
<circle cx="308.27" cy="243.19" r="3.75"/>
<circle cx="314.37" cy="251.3" r="3.75"/>
<circle cx="320.47" cy="261.16" r="3.75"/>
<circle cx="326.57" cy="271.59" r="3.75"/>
<circle cx="332.67" cy="277.39" r="3.75"/>
<circle cx="338.77" cy="279.48" r="3.75"/>
<circle cx="344.87" cy="279.71" r="3.75"/>
<circle cx="350.97" cy="277.16" r="3.75"/>
<circle cx="357.07" cy="276.23" r="3.75"/>
<circle cx="363.16" cy="277.97" r="3.75"/>
<circle cx="369.26" cy="282.61" r="3.75"/>
<circle cx="375.36" cy="288.41" r="3.75"/>
<circle cx="381.46" cy="291.07" r="3.75"/>
<circle cx="387.56" cy="283.19" r="3.75"/>
<circle cx="393.66" cy="273.33" r="3.75"/>
<circle cx="399.76" cy="264.06" r="3.75"/>
<circle cx="405.86" cy="255.94" r="3.75"/>
<circle cx="411.96" cy="251.3" r="3.75"/>
<circle cx="418.06" cy="251.88" r="3.75"/>
<circle cx="424.16" cy="255.13" r="3.75"/>
<circle cx="430.25" cy="258.84" r="3.75"/>
<circle cx="436.35" cy="262.9" r="3.75"/>
<circle cx="442.45" cy="265.22" r="3.75"/>
<circle cx="448.55" cy="266.38" r="3.75"/>
<circle cx="454.65" cy="265.8" r="3.75"/>
<circle cx="460.75" cy="266.72" r="3.75"/>
<circle cx="466.85" cy="262.55" r="3.75"/>
<circle cx="472.95" cy="263.48" r="3.75"/>
<circle cx="479.05" cy="266.96" r="3.75"/>
<circle cx="485.15" cy="271.59" r="3.75"/>
<circle cx="491.25" cy="274.49" r="3.75"/>
<circle cx="497.35" cy="278.55" r="3.75"/>
<circle cx="503.44" cy="279.13" r="3.75"/>
<circle cx="509.54" cy="276" r="3.75"/>
<circle cx="515.64" cy="268.7" r="3.75"/>
<circle cx="521.74" cy="262.09" r="3.75"/>
<circle cx="527.84" cy="261.39" r="3.75"/>
<circle cx="533.94" cy="261.16" r="3.75"/>
<circle cx="540.04" cy="263.48" r="3.75"/>
<circle cx="546.14" cy="267.19" r="3.75"/>
<circle cx="552.24" cy="271.59" r="3.75"/>
<circle cx="558.34" cy="276.81" r="3.75"/>
<circle cx="564.44" cy="279.13" r="3.75"/>
<circle cx="570.53" cy="281.45" r="3.75"/>
<circle cx="576.63" cy="281.45" r="3.75"/>
<circle cx="582.73" cy="282.03" r="3.75"/>
<circle cx="588.83" cy="280.87" r="3.75"/>
<circle cx="594.93" cy="278.55" r="3.75"/>
<circle cx="601.03" cy="279.13" r="3.75"/>
<circle cx="607.13" cy="281.45" r="3.75"/>
<circle cx="613.23" cy="286.67" r="3.75"/>
<circle cx="619.33" cy="292.7" r="3.75"/>
<circle cx="625.43" cy="296.87" r="3.75"/>
<circle cx="631.53" cy="300" r="3.75"/>
<circle cx="637.63" cy="299.42" r="3.75"/>
<circle cx="643.72" cy="293.39" r="3.75"/>
<circle cx="649.82" cy="278.32" r="3.75"/>
<circle cx="655.92" cy="255.13" r="3.75"/>
<circle cx="662.02" cy="230.78" r="3.75"/>
<circle cx="668.12" cy="210.72" r="3.75"/>
<circle cx="674.22" cy="191.59" r="3.75"/>
</g>
<text x="67.2" y="283.3" font-size="29" text-anchor="middle" transform="rotate(-90 67.2 283.3)">Force (kN)</text>
<text x="462.8" y="637.6" font-size="29" text-anchor="middle">Displacement (mm)</text>
<text x="424.7" y="685" font-size="40" text-anchor="middle">(a)</text>
<line x1="488.9" y1="55" x2="509.4" y2="55" stroke="#ff0000" stroke-width="1.45"/>
<line x1="526.4" y1="55" x2="548.2" y2="55" stroke="#ff0000" stroke-width="1.45"/>
<circle cx="517.9" cy="55" r="6.3" fill="url(#mr)"/>
<text x="561" y="66" font-size="29" text-anchor="start">FXT_Exp</text>
<line x1="488.9" y1="94.7" x2="509" y2="94.7" stroke="#0000ff" stroke-width="1.45"/>
<line x1="526" y1="94.7" x2="547.5" y2="94.7" stroke="#0000ff" stroke-width="1.45"/>
<circle cx="517.5" cy="94.7" r="6.3" fill="url(#mb)"/>
<text x="561" y="105" font-size="29" text-anchor="start">FXT_Sim</text>
</g>
<g id="panel-c">
<g filter="url(#bl1)">
<rect x="171.3" y="987.5" width="139.3" height="58.5" fill="#1f7c2b"/>
<rect x="176.8" y="1043.5" width="128.3" height="30" fill="#5fe86c"/>
<rect x="176.8" y="1053.9" width="128.3" height="19.6" fill="#86ff93" opacity="0.55"/>
<path d="M172.3 987.5C174.2 987.5 179.9 987.3 183.7 987.3C187.6 987.3 191.4 987.5 195.2 987.5C199 987.6 202.8 987.6 206.6 987.7C210.4 987.7 214.3 987.9 218.1 987.8C221.9 987.7 225.7 987.4 229.5 987.4C233.3 987.3 239 987.5 241 987.5L241 991.4C239 991.5 233.3 991.8 229.5 991.8C225.7 991.9 221.9 992 218.1 991.7C214.3 991.4 210.4 990.2 206.6 990.1C202.8 990 199 990.8 195.2 991.1C191.4 991.3 187.6 991.7 183.7 991.8C179.9 991.8 174.2 991.4 172.3 991.3Z" fill="url(#bd_g)"/>
<path d="M172.3 992.4C174.2 992.5 179.9 992.9 183.7 992.9C187.6 992.8 191.4 992.4 195.2 992.2C199 991.9 202.8 991.1 206.6 991.2C210.4 991.3 214.3 992.5 218.1 992.8C221.9 993.1 225.7 993 229.5 992.9C233.3 992.9 239 992.6 241 992.5L241 995.9C239 996.1 233.3 996.8 229.5 996.7C225.7 996.6 221.9 995.9 218.1 995.5C214.3 995.1 210.4 994.2 206.6 994.3C202.8 994.4 199 995.5 195.2 995.9C191.4 996.2 187.6 996.6 183.7 996.6C179.9 996.6 174.2 995.8 172.3 995.6Z" fill="url(#bd_g)"/>
<path d="M172.3 996.7C174.2 996.9 179.9 997.7 183.7 997.7C187.6 997.7 191.4 997.3 195.2 997C199 996.6 202.8 995.5 206.6 995.4C210.4 995.3 214.3 996.2 218.1 996.6C221.9 997 225.7 997.7 229.5 997.8C233.3 997.9 239 997.2 241 997L241 1001.7C239 1001.9 233.3 1002.5 229.5 1002.6C225.7 1002.7 221.9 1002.4 218.1 1002.3C214.3 1002.2 210.4 1002.2 206.6 1002.1C202.8 1002 199 1001.9 195.2 1001.7C191.4 1001.5 187.6 1000.9 183.7 1000.9C179.9 1000.9 174.2 1001.6 172.3 1001.8Z" fill="url(#bd_g)"/>
<path d="M172.3 1002.9C174.2 1002.7 179.9 1002 183.7 1002C187.6 1002 191.4 1002.6 195.2 1002.8C199 1003 202.8 1003.1 206.6 1003.2C210.4 1003.3 214.3 1003.3 218.1 1003.4C221.9 1003.5 225.7 1003.8 229.5 1003.7C233.3 1003.6 239 1003 241 1002.8L241 1005.3C239 1005.3 233.3 1005.2 229.5 1005C225.7 1004.9 221.9 1004.2 218.1 1004.3C214.3 1004.4 210.4 1005.2 206.6 1005.5C202.8 1005.9 199 1006.1 195.2 1006.3C191.4 1006.4 187.6 1006.4 183.7 1006.3C179.9 1006.3 174.2 1006 172.3 1006Z" fill="url(#bd_g)"/>
<path d="M172.3 1007.1C174.2 1007.1 179.9 1007.4 183.7 1007.4C187.6 1007.5 191.4 1007.5 195.2 1007.4C199 1007.2 202.8 1007 206.6 1006.6C210.4 1006.3 214.3 1005.5 218.1 1005.4C221.9 1005.3 225.7 1006 229.5 1006.1C233.3 1006.3 239 1006.4 241 1006.4L241 1011.3C239 1011.3 233.3 1011 229.5 1011.2C225.7 1011.4 221.9 1012.4 218.1 1012.4C214.3 1012.4 210.4 1011.6 206.6 1011.3C202.8 1010.9 199 1010.4 195.2 1010.3C191.4 1010.1 187.6 1010.2 183.7 1010.3C179.9 1010.3 174.2 1010.7 172.3 1010.7Z" fill="url(#bd_g)"/>
<path d="M172.3 1011.8C174.2 1011.8 179.9 1011.4 183.7 1011.4C187.6 1011.3 191.4 1011.2 195.2 1011.4C199 1011.5 202.8 1012 206.6 1012.4C210.4 1012.7 214.3 1013.5 218.1 1013.5C221.9 1013.5 225.7 1012.5 229.5 1012.3C233.3 1012.1 239 1012.4 241 1012.4L241 1015.4C239 1015.5 233.3 1016.4 229.5 1016.3C225.7 1016.2 221.9 1014.8 218.1 1014.5C214.3 1014.3 210.4 1014.8 206.6 1015C202.8 1015.1 199 1015.3 195.2 1015.5C191.4 1015.8 187.6 1016.4 183.7 1016.5C179.9 1016.5 174.2 1015.8 172.3 1015.6Z" fill="url(#bd_g)"/>
<path d="M172.3 1016.7C174.2 1016.9 179.9 1017.6 183.7 1017.6C187.6 1017.5 191.4 1016.9 195.2 1016.6C199 1016.4 202.8 1016.2 206.6 1016.1C210.4 1015.9 214.3 1015.4 218.1 1015.6C221.9 1015.9 225.7 1017.3 229.5 1017.4C233.3 1017.5 239 1016.6 241 1016.5L241 1020.2C239 1020.3 233.3 1020.5 229.5 1020.7C225.7 1020.8 221.9 1020.9 218.1 1020.8C214.3 1020.8 210.4 1020.7 206.6 1020.3C202.8 1020 199 1018.9 195.2 1018.9C191.4 1018.9 187.6 1020.1 183.7 1020.4C179.9 1020.6 174.2 1020.3 172.3 1020.3Z" fill="url(#bd_g)"/>
<path d="M172.3 1021.4C174.2 1021.4 179.9 1021.7 183.7 1021.5C187.6 1021.2 191.4 1020 195.2 1020C199 1020 202.8 1021.1 206.6 1021.4C210.4 1021.8 214.3 1021.9 218.1 1021.9C221.9 1022 225.7 1021.9 229.5 1021.8C233.3 1021.6 239 1021.4 241 1021.3L241 1025.3C239 1025.3 233.3 1024.9 229.5 1025.1C225.7 1025.3 221.9 1026.2 218.1 1026.4C214.3 1026.6 210.4 1026.2 206.6 1026.3C202.8 1026.3 199 1026.5 195.2 1026.6C191.4 1026.6 187.6 1026.6 183.7 1026.5C179.9 1026.4 174.2 1026 172.3 1025.9Z" fill="url(#bd_g)"/>
<path d="M172.3 1027C174.2 1027.1 179.9 1027.5 183.7 1027.6C187.6 1027.7 191.4 1027.7 195.2 1027.7C199 1027.6 202.8 1027.4 206.6 1027.4C210.4 1027.3 214.3 1027.7 218.1 1027.5C221.9 1027.3 225.7 1026.4 229.5 1026.2C233.3 1026 239 1026.4 241 1026.4L241 1030.3C239 1030.2 233.3 1029.8 229.5 1029.9C225.7 1029.9 221.9 1030.6 218.1 1030.8C214.3 1031 210.4 1030.8 206.6 1031C202.8 1031.2 199 1032.1 195.2 1032.1C191.4 1032.1 187.6 1031.2 183.7 1031C179.9 1030.8 174.2 1030.9 172.3 1030.9Z" fill="url(#bd_g)"/>
<path d="M172.3 1032C174.2 1032 179.9 1031.9 183.7 1032.1C187.6 1032.3 191.4 1033.2 195.2 1033.2C199 1033.2 202.8 1032.3 206.6 1032.1C210.4 1031.9 214.3 1032.1 218.1 1031.9C221.9 1031.7 225.7 1031 229.5 1031C233.3 1030.9 239 1031.3 241 1031.4L241 1034.9C239 1035 233.3 1035.4 229.5 1035.5C225.7 1035.7 221.9 1036.1 218.1 1035.8C214.3 1035.6 210.4 1034 206.6 1033.9C202.8 1033.8 199 1035 195.2 1035.3C191.4 1035.6 187.6 1035.8 183.7 1035.8C179.9 1035.9 174.2 1035.6 172.3 1035.6Z" fill="url(#bd_g)"/>
<path d="M172.3 1036.7C174.2 1036.7 179.9 1037 183.7 1036.9C187.6 1036.9 191.4 1036.7 195.2 1036.4C199 1036.1 202.8 1034.9 206.6 1035C210.4 1035.1 214.3 1036.7 218.1 1036.9C221.9 1037.2 225.7 1036.8 229.5 1036.6C233.3 1036.5 239 1036.1 241 1036L241 1039.7C239 1039.8 233.3 1040.1 229.5 1040.1C225.7 1040.1 221.9 1040.1 218.1 1039.9C214.3 1039.6 210.4 1038.9 206.6 1038.8C202.8 1038.6 199 1038.6 195.2 1038.9C191.4 1039.2 187.6 1040.3 183.7 1040.4C179.9 1040.5 174.2 1039.7 172.3 1039.5Z" fill="url(#bd_g)"/>
<path d="M172.3 1040.6C174.2 1040.8 179.9 1041.6 183.7 1041.5C187.6 1041.4 191.4 1040.3 195.2 1040C199 1039.7 202.8 1039.7 206.6 1039.9C210.4 1040 214.3 1040.7 218.1 1041C221.9 1041.2 225.7 1041.2 229.5 1041.2C233.3 1041.2 239 1040.9 241 1040.8L241 1045C239 1045 233.3 1045 229.5 1045.1C225.7 1045.1 221.9 1045.3 218.1 1045.3C214.3 1045.2 210.4 1044.9 206.6 1044.8C202.8 1044.7 199 1044.8 195.2 1044.8C191.4 1044.8 187.6 1044.7 183.7 1044.7C179.9 1044.7 174.2 1044.9 172.3 1045Z" fill="url(#bd_g)"/>
<path d="M241 987.5C242.9 987.6 248.6 987.7 252.4 987.8C256.2 987.8 260 987.9 263.8 987.8C267.6 987.7 271.5 987.4 275.3 987.4C279.1 987.3 282.9 987.4 286.7 987.4C290.5 987.4 294.3 987.3 298.2 987.3C302 987.3 307.7 987.5 309.6 987.5L309.6 991C307.7 990.9 302 990.7 298.2 990.5C294.3 990.4 290.5 989.8 286.7 990C282.9 990.2 279.1 991.5 275.3 991.8C271.5 992 267.6 991.5 263.8 991.5C260 991.5 256.2 991.9 252.4 991.8C248.6 991.7 242.9 991.1 241 990.9Z" fill="url(#bd_g)"/>
<path d="M241 992C242.9 992.2 248.6 992.8 252.4 992.9C256.2 993 260 992.6 263.8 992.6C267.6 992.6 271.5 993.1 275.3 992.9C279.1 992.6 282.9 991.3 286.7 991.1C290.5 990.9 294.3 991.5 298.2 991.6C302 991.8 307.7 992 309.6 992.1L309.6 996.1C307.7 996.1 302 996.2 298.2 996.2C294.3 996.3 290.5 996.2 286.7 996.4C282.9 996.5 279.1 997.3 275.3 997.3C271.5 997.3 267.6 996.4 263.8 996.2C260 996 256.2 996.1 252.4 996C248.6 995.9 242.9 995.8 241 995.8Z" fill="url(#bd_g)"/>
<path d="M241 996.9C242.9 996.9 248.6 997 252.4 997.1C256.2 997.2 260 997.1 263.8 997.3C267.6 997.5 271.5 998.4 275.3 998.4C279.1 998.4 282.9 997.6 286.7 997.5C290.5 997.3 294.3 997.4 298.2 997.3C302 997.3 307.7 997.2 309.6 997.2L309.6 1000.7C307.7 1000.7 302 1000.2 298.2 1000.3C294.3 1000.4 290.5 1000.8 286.7 1001.1C282.9 1001.4 279.1 1002.2 275.3 1002.2C271.5 1002.2 267.6 1001.4 263.8 1001.1C260 1000.7 256.2 1000.2 252.4 1000.1C248.6 1000 242.9 1000.6 241 1000.7Z" fill="url(#bd_g)"/>
<path d="M241 1001.8C242.9 1001.7 248.6 1001.1 252.4 1001.2C256.2 1001.3 260 1001.8 263.8 1002.2C267.6 1002.5 271.5 1003.3 275.3 1003.3C279.1 1003.3 282.9 1002.5 286.7 1002.2C290.5 1001.9 294.3 1001.5 298.2 1001.4C302 1001.3 307.7 1001.8 309.6 1001.8L309.6 1006.1C307.7 1006.1 302 1006.2 298.2 1006.2C294.3 1006.1 290.5 1006 286.7 1005.7C282.9 1005.3 279.1 1004.3 275.3 1004.2C271.5 1004.2 267.6 1005.2 263.8 1005.4C260 1005.7 256.2 1005.9 252.4 1005.9C248.6 1005.9 242.9 1005.5 241 1005.4Z" fill="url(#bd_g)"/>
<path d="M241 1006.5C242.9 1006.6 248.6 1007 252.4 1007C256.2 1007 260 1006.8 263.8 1006.5C267.6 1006.3 271.5 1005.3 275.3 1005.3C279.1 1005.4 282.9 1006.4 286.7 1006.8C290.5 1007.1 294.3 1007.2 298.2 1007.3C302 1007.3 307.7 1007.2 309.6 1007.2L309.6 1010.8C307.7 1010.9 302 1011.4 298.2 1011.6C294.3 1011.8 290.5 1012.3 286.7 1012.2C282.9 1012 279.1 1011.1 275.3 1010.8C271.5 1010.5 267.6 1010.4 263.8 1010.4C260 1010.4 256.2 1010.8 252.4 1010.9C248.6 1011.1 242.9 1011.4 241 1011.5Z" fill="url(#bd_g)"/>
<path d="M241 1012.6C242.9 1012.5 248.6 1012.2 252.4 1012C256.2 1011.9 260 1011.5 263.8 1011.5C267.6 1011.5 271.5 1011.6 275.3 1011.9C279.1 1012.2 282.9 1013.1 286.7 1013.3C290.5 1013.4 294.3 1012.9 298.2 1012.7C302 1012.5 307.7 1012 309.6 1011.9L309.6 1016.1C307.7 1016.2 302 1016.4 298.2 1016.6C294.3 1016.8 290.5 1017.4 286.7 1017.1C282.9 1016.9 279.1 1015.4 275.3 1015.2C271.5 1015 267.6 1015.6 263.8 1015.7C260 1015.9 256.2 1016 252.4 1016.1C248.6 1016.2 242.9 1016.2 241 1016.3Z" fill="url(#bd_g)"/>
<path d="M241 1017.4C242.9 1017.3 248.6 1017.3 252.4 1017.2C256.2 1017.1 260 1017 263.8 1016.8C267.6 1016.7 271.5 1016.1 275.3 1016.3C279.1 1016.5 282.9 1018 286.7 1018.2C290.5 1018.5 294.3 1017.9 298.2 1017.7C302 1017.5 307.7 1017.3 309.6 1017.2L309.6 1021.2C307.7 1021.1 302 1020.8 298.2 1020.6C294.3 1020.4 290.5 1020.1 286.7 1020.1C282.9 1020.2 279.1 1020.8 275.3 1021.1C271.5 1021.4 267.6 1022 263.8 1021.9C260 1021.8 256.2 1020.7 252.4 1020.4C248.6 1020.1 242.9 1020.2 241 1020.2Z" fill="url(#bd_g)"/>
<path d="M241 1021.3C242.9 1021.3 248.6 1021.2 252.4 1021.5C256.2 1021.8 260 1022.9 263.8 1023C267.6 1023.1 271.5 1022.5 275.3 1022.2C279.1 1021.9 282.9 1021.3 286.7 1021.2C290.5 1021.2 294.3 1021.5 298.2 1021.7C302 1021.9 307.7 1022.2 309.6 1022.3L309.6 1026.1C307.7 1026.1 302 1026.1 298.2 1025.9C294.3 1025.7 290.5 1024.9 286.7 1024.7C282.9 1024.5 279.1 1024.7 275.3 1024.7C271.5 1024.7 267.6 1024.5 263.8 1024.7C260 1024.9 256.2 1025.8 252.4 1025.8C248.6 1025.8 242.9 1025 241 1024.8Z" fill="url(#bd_g)"/>
<path d="M241 1025.9C242.9 1026.1 248.6 1026.9 252.4 1026.9C256.2 1026.9 260 1026 263.8 1025.8C267.6 1025.6 271.5 1025.8 275.3 1025.8C279.1 1025.8 282.9 1025.6 286.7 1025.8C290.5 1026 294.3 1026.8 298.2 1027C302 1027.2 307.7 1027.2 309.6 1027.2L309.6 1030C307.7 1029.9 302 1029.6 298.2 1029.5C294.3 1029.4 290.5 1029.6 286.7 1029.5C282.9 1029.5 279.1 1029.2 275.3 1029.5C271.5 1029.7 267.6 1030.7 263.8 1031C260 1031.3 256.2 1031.3 252.4 1031.2C248.6 1031.1 242.9 1030.6 241 1030.5Z" fill="url(#bd_g)"/>
<path d="M241 1031.6C242.9 1031.7 248.6 1032.2 252.4 1032.3C256.2 1032.4 260 1032.4 263.8 1032.1C267.6 1031.8 271.5 1030.8 275.3 1030.6C279.1 1030.3 282.9 1030.6 286.7 1030.6C290.5 1030.7 294.3 1030.5 298.2 1030.6C302 1030.7 307.7 1031 309.6 1031.1L309.6 1035.7C307.7 1035.6 302 1035 298.2 1034.9C294.3 1034.8 290.5 1034.5 286.7 1034.8C282.9 1035.1 279.1 1036.7 275.3 1036.8C271.5 1037 267.6 1036.2 263.8 1035.9C260 1035.5 256.2 1034.6 252.4 1034.5C248.6 1034.4 242.9 1035.2 241 1035.3Z" fill="url(#bd_g)"/>
<path d="M241 1036.4C242.9 1036.3 248.6 1035.5 252.4 1035.6C256.2 1035.7 260 1036.6 263.8 1037C267.6 1037.3 271.5 1038.1 275.3 1037.9C279.1 1037.8 282.9 1036.2 286.7 1035.9C290.5 1035.6 294.3 1035.9 298.2 1036C302 1036.1 307.7 1036.7 309.6 1036.8L309.6 1039.8C307.7 1039.8 302 1040.2 298.2 1040.1C294.3 1040.1 290.5 1039.7 286.7 1039.5C282.9 1039.4 279.1 1039.4 275.3 1039.2C271.5 1039 267.6 1038.2 263.8 1038.2C260 1038.2 256.2 1039 252.4 1039.2C248.6 1039.4 242.9 1039.4 241 1039.4Z" fill="url(#bd_g)"/>
<path d="M241 1040.5C242.9 1040.5 248.6 1040.5 252.4 1040.3C256.2 1040.1 260 1039.3 263.8 1039.3C267.6 1039.3 271.5 1040.1 275.3 1040.3C279.1 1040.5 282.9 1040.5 286.7 1040.6C290.5 1040.8 294.3 1041.2 298.2 1041.2C302 1041.3 307.7 1040.9 309.6 1040.9L309.6 1045C307.7 1045 302 1045 298.2 1045.1C294.3 1045.1 290.5 1045.3 286.7 1045.3C282.9 1045.3 279.1 1045.1 275.3 1045C271.5 1045 267.6 1044.9 263.8 1044.8C260 1044.8 256.2 1044.7 252.4 1044.7C248.6 1044.7 242.9 1044.9 241 1045Z" fill="url(#bd_g)"/>
<ellipse cx="173.1" cy="989.4" rx="3.5" ry="2.7" fill="url(#lb_g)"/>
<ellipse cx="310.1" cy="989.4" rx="3.5" ry="2.7" fill="url(#lb_g)"/>
<ellipse cx="172.5" cy="994.3" rx="3.5" ry="2.7" fill="url(#lb_g)"/>
<ellipse cx="309.9" cy="994.3" rx="3.5" ry="2.7" fill="url(#lb_g)"/>
<ellipse cx="171.4" cy="999.2" rx="3.5" ry="2.7" fill="url(#lb_g)"/>
<ellipse cx="308.8" cy="999.2" rx="3.5" ry="2.7" fill="url(#lb_g)"/>
<ellipse cx="171.2" cy="1004.1" rx="3.5" ry="2.7" fill="url(#lb_g)"/>
<ellipse cx="310.6" cy="1004.1" rx="3.5" ry="2.7" fill="url(#lb_g)"/>
<ellipse cx="172.5" cy="1008.9" rx="3.5" ry="2.7" fill="url(#lb_g)"/>
<ellipse cx="310.7" cy="1008.9" rx="3.5" ry="2.7" fill="url(#lb_g)"/>
<ellipse cx="171.2" cy="1013.8" rx="3.5" ry="2.7" fill="url(#lb_g)"/>
<ellipse cx="310" cy="1013.8" rx="3.5" ry="2.7" fill="url(#lb_g)"/>
<ellipse cx="172.1" cy="1018.7" rx="3.5" ry="2.7" fill="url(#lb_g)"/>
<ellipse cx="310.2" cy="1018.7" rx="3.5" ry="2.7" fill="url(#lb_g)"/>
<ellipse cx="171.8" cy="1023.6" rx="3.5" ry="2.7" fill="url(#lb_g)"/>
<ellipse cx="310.8" cy="1023.6" rx="3.5" ry="2.7" fill="url(#lb_g)"/>
<ellipse cx="171.3" cy="1028.4" rx="3.5" ry="2.7" fill="url(#lb_g)"/>
<ellipse cx="309.9" cy="1028.4" rx="3.5" ry="2.7" fill="url(#lb_g)"/>
<ellipse cx="172.6" cy="1033.3" rx="3.5" ry="2.7" fill="url(#lb_g)"/>
<ellipse cx="310.6" cy="1033.3" rx="3.5" ry="2.7" fill="url(#lb_g)"/>
<ellipse cx="172.6" cy="1038.2" rx="3.5" ry="2.7" fill="url(#lb_g)"/>
<ellipse cx="310.2" cy="1038.2" rx="3.5" ry="2.7" fill="url(#lb_g)"/>
<ellipse cx="172.7" cy="1043.1" rx="3.5" ry="2.7" fill="url(#lb_g)"/>
<ellipse cx="310.6" cy="1043.1" rx="3.5" ry="2.7" fill="url(#lb_g)"/>
<path d="M240.7 987C240.8 988.6 241.1 993.5 241.3 996.8C241.5 1000 241.7 1003.2 241.8 1006.5C241.8 1009.8 241.9 1013 241.7 1016.2C241.5 1019.5 240.8 1022.8 240.8 1026C240.8 1029.2 241.4 1032.5 241.5 1035.8C241.7 1039 241.7 1043.9 241.7 1045.5" fill="none" stroke="#1f7c2b" stroke-width="1.6" opacity="0.55"/>
<path d="M199.5 1047V1073M231.5 1050V1073M240.5 1052V1073M259.5 1052V1073M285.5 1049V1073" stroke="#3fc04c" stroke-width="0.8" opacity="0.4"/>
</g><g filter="url(#bl2)">
<rect x="342" y="985.3" width="115" height="90.5" fill="#d8d6cf"/>
<rect x="346.5" y="989" width="106.5" height="71" fill="#55524a"/>
<rect x="348" y="1057.5" width="103.5" height="16" fill="#aeaa9a"/>
<path d="M347.5 990C349 990 353.3 989.8 356.2 989.8C359.1 989.8 362 989.8 364.9 989.9C367.8 989.9 370.7 990 373.6 990.1C376.5 990.1 379.4 990.4 382.3 990.4C385.2 990.4 388.1 990.1 391 990C393.9 990 398.3 990 399.8 990L399.8 993.3C398.3 993.3 393.9 993.2 391 993.1C388.1 993 385.2 992.4 382.3 992.7C379.4 993.1 376.5 994.9 373.6 995.2C370.7 995.4 367.8 994.6 364.9 994.3C362 994.1 359.1 993.7 356.2 993.7C353.3 993.7 349 994.2 347.5 994.3Z" fill="url(#bd_m2)"/>
<path d="M347.5 997.3C349 997.2 353.3 996.7 356.2 996.7C359.1 996.7 362 997.1 364.9 997.3C367.8 997.6 370.7 998.4 373.6 998.2C376.5 997.9 379.4 996.1 382.3 995.7C385.2 995.4 388.1 996 391 996.1C393.9 996.2 398.3 996.3 399.8 996.3L399.8 1001.6C398.3 1001.5 393.9 1000.9 391 1000.8C388.1 1000.7 385.2 1000.7 382.3 1001C379.4 1001.3 376.5 1002.6 373.6 1002.7C370.7 1002.8 367.8 1002.1 364.9 1001.6C362 1001.2 359.1 1000.1 356.2 1000C353.3 999.9 349 1000.8 347.5 1001Z" fill="url(#bd_m2)"/>
<path d="M347.5 1004C349 1003.8 353.3 1002.9 356.2 1003C359.1 1003.1 362 1004.2 364.9 1004.6C367.8 1005.1 370.7 1005.8 373.6 1005.7C376.5 1005.6 379.4 1004.3 382.3 1004C385.2 1003.7 388.1 1003.7 391 1003.8C393.9 1003.9 398.3 1004.5 399.8 1004.6L399.8 1007.5C398.3 1007.6 393.9 1007.7 391 1008C388.1 1008.3 385.2 1009.3 382.3 1009.3C379.4 1009.3 376.5 1008.2 373.6 1007.9C370.7 1007.7 367.8 1008.1 364.9 1008C362 1008 359.1 1007.5 356.2 1007.6C353.3 1007.7 349 1008.6 347.5 1008.8Z" fill="url(#bd_m2)"/>
<path d="M347.5 1011.8C349 1011.6 353.3 1010.7 356.2 1010.6C359.1 1010.5 362 1011 364.9 1011C367.8 1011.1 370.7 1010.7 373.6 1010.9C376.5 1011.2 379.4 1012.3 382.3 1012.3C385.2 1012.3 388.1 1011.3 391 1011C393.9 1010.7 398.3 1010.6 399.8 1010.5L399.8 1015.6C398.3 1015.6 393.9 1015.6 391 1015.6C388.1 1015.7 385.2 1015.5 382.3 1015.8C379.4 1016 376.5 1016.9 373.6 1017C370.7 1017.1 367.8 1016.5 364.9 1016.3C362 1016 359.1 1015.5 356.2 1015.4C353.3 1015.2 349 1015.4 347.5 1015.4Z" fill="url(#bd_m2)"/>
<path d="M347.5 1018.4C349 1018.4 353.3 1018.2 356.2 1018.4C359.1 1018.5 362 1019 364.9 1019.3C367.8 1019.5 370.7 1020.1 373.6 1020C376.5 1019.9 379.4 1019 382.3 1018.8C385.2 1018.5 388.1 1018.7 391 1018.6C393.9 1018.6 398.3 1018.6 399.8 1018.6L399.8 1022C398.3 1022.1 393.9 1022.5 391 1022.6C388.1 1022.6 385.2 1022.5 382.3 1022.3C379.4 1022.1 376.5 1021.6 373.6 1021.5C370.7 1021.4 367.8 1021.3 364.9 1021.6C362 1022 359.1 1023.4 356.2 1023.6C353.3 1023.8 349 1022.9 347.5 1022.8Z" fill="url(#bd_m2)"/>
<path d="M347.5 1025.8C349 1025.9 353.3 1026.8 356.2 1026.6C359.1 1026.4 362 1025 364.9 1024.6C367.8 1024.3 370.7 1024.4 373.6 1024.5C376.5 1024.6 379.4 1025.1 382.3 1025.3C385.2 1025.5 388.1 1025.6 391 1025.6C393.9 1025.5 398.3 1025.1 399.8 1025L399.8 1029.3C398.3 1029.3 393.9 1029.1 391 1029.3C388.1 1029.5 385.2 1030.3 382.3 1030.5C379.4 1030.8 376.5 1030.6 373.6 1030.6C370.7 1030.6 367.8 1030.6 364.9 1030.4C362 1030.1 359.1 1029.2 356.2 1029.2C353.3 1029.2 349 1030.1 347.5 1030.3Z" fill="url(#bd_m2)"/>
<path d="M347.5 1033.3C349 1033.1 353.3 1032.2 356.2 1032.2C359.1 1032.2 362 1033.1 364.9 1033.4C367.8 1033.6 370.7 1033.6 373.6 1033.6C376.5 1033.6 379.4 1033.8 382.3 1033.5C385.2 1033.3 388.1 1032.5 391 1032.3C393.9 1032.1 398.3 1032.3 399.8 1032.3L399.8 1037.4C398.3 1037.6 393.9 1038.5 391 1038.4C388.1 1038.4 385.2 1037.6 382.3 1037.2C379.4 1036.9 376.5 1036.4 373.6 1036.4C370.7 1036.3 367.8 1036.8 364.9 1036.9C362 1037 359.1 1036.9 356.2 1037C353.3 1037.1 349 1037.4 347.5 1037.4Z" fill="url(#bd_m2)"/>
<path d="M347.5 1040.4C349 1040.4 353.3 1040.1 356.2 1040C359.1 1039.9 362 1040 364.9 1039.9C367.8 1039.8 370.7 1039.3 373.6 1039.4C376.5 1039.4 379.4 1039.9 382.3 1040.2C385.2 1040.6 388.1 1041.4 391 1041.4C393.9 1041.5 398.3 1040.6 399.8 1040.4L399.8 1044.4C398.3 1044.4 393.9 1044.8 391 1044.6C388.1 1044.5 385.2 1043.8 382.3 1043.6C379.4 1043.3 376.5 1042.8 373.6 1043.1C370.7 1043.4 367.8 1044.9 364.9 1045.1C362 1045.3 359.1 1044.7 356.2 1044.5C353.3 1044.2 349 1043.9 347.5 1043.8Z" fill="url(#bd_m2)"/>
<path d="M347.5 1046.8C349 1046.9 353.3 1047.2 356.2 1047.5C359.1 1047.7 362 1048.3 364.9 1048.1C367.8 1047.9 370.7 1046.4 373.6 1046.1C376.5 1045.8 379.4 1046.3 382.3 1046.6C385.2 1046.8 388.1 1047.5 391 1047.6C393.9 1047.8 398.3 1047.4 399.8 1047.4L399.8 1050.8C398.3 1050.9 393.9 1051.7 391 1051.6C388.1 1051.5 385.2 1050.5 382.3 1050.2C379.4 1049.8 376.5 1049.5 373.6 1049.5C370.7 1049.5 367.8 1049.8 364.9 1049.9C362 1050.1 359.1 1050.3 356.2 1050.4C353.3 1050.4 349 1050.3 347.5 1050.3Z" fill="url(#bd_m2)"/>
<path d="M347.5 1053.3C349 1053.3 353.3 1053.4 356.2 1053.4C359.1 1053.3 362 1053.1 364.9 1052.9C367.8 1052.8 370.7 1052.5 373.6 1052.5C376.5 1052.5 379.4 1052.8 382.3 1053.2C385.2 1053.5 388.1 1054.5 391 1054.6C393.9 1054.7 398.3 1053.9 399.8 1053.8L399.8 1058C398.3 1058 393.9 1057.7 391 1057.7C388.1 1057.8 385.2 1058.2 382.3 1058.3C379.4 1058.4 376.5 1058.2 373.6 1058.2C370.7 1058.1 367.8 1058.1 364.9 1058C362 1057.9 359.1 1057.7 356.2 1057.7C353.3 1057.7 349 1057.9 347.5 1058Z" fill="url(#bd_m2)"/>
<path d="M399.8 990C401.2 990 405.6 989.9 408.5 989.9C411.4 989.8 414.3 989.8 417.2 989.7C420.1 989.7 423 989.7 425.9 989.7C428.8 989.7 431.7 989.8 434.6 989.9C437.5 989.9 440.4 990.1 443.3 990.1C446.2 990.1 450.5 990 452 990L452 994.5C450.5 994.3 446.2 993.3 443.3 993.3C440.4 993.2 437.5 993.9 434.6 994.3C431.7 994.6 428.8 995.6 425.9 995.5C423 995.3 420.1 994 417.2 993.5C414.3 993 411.4 992.5 408.5 992.5C405.6 992.4 401.2 993.1 399.8 993.3Z" fill="url(#bd_m2)"/>
<path d="M399.8 996.3C401.2 996.1 405.6 995.4 408.5 995.5C411.4 995.5 414.3 996 417.2 996.5C420.1 997 423 998.3 425.9 998.5C428.8 998.6 431.7 997.6 434.6 997.3C437.5 996.9 440.4 996.2 443.3 996.3C446.2 996.3 450.5 997.3 452 997.5L452 1001.1C450.5 1001 446.2 1000.4 443.3 1000.3C440.4 1000.2 437.5 1000.5 434.6 1000.6C431.7 1000.6 428.8 1000.4 425.9 1000.6C423 1000.8 420.1 1001.5 417.2 1001.7C414.3 1001.9 411.4 1001.8 408.5 1001.6C405.6 1001.4 401.2 1000.7 399.8 1000.5Z" fill="url(#bd_m2)"/>
<path d="M399.8 1003.5C401.2 1003.7 405.6 1004.4 408.5 1004.6C411.4 1004.8 414.3 1004.9 417.2 1004.7C420.1 1004.5 423 1003.8 425.9 1003.6C428.8 1003.4 431.7 1003.6 434.6 1003.6C437.5 1003.5 440.4 1003.2 443.3 1003.3C446.2 1003.4 450.5 1004 452 1004.1L452 1008.5C450.5 1008.5 446.2 1008.3 443.3 1008.4C440.4 1008.5 437.5 1009.3 434.6 1009.3C431.7 1009.3 428.8 1008.9 425.9 1008.4C423 1008 420.1 1007.1 417.2 1006.9C414.3 1006.7 411.4 1007.1 408.5 1007.2C405.6 1007.3 401.2 1007.4 399.8 1007.5Z" fill="url(#bd_m2)"/>
<path d="M399.8 1010.5C401.2 1010.4 405.6 1010.3 408.5 1010.2C411.4 1010.1 414.3 1009.7 417.2 1009.9C420.1 1010.1 423 1011 425.9 1011.4C428.8 1011.9 431.7 1012.3 434.6 1012.3C437.5 1012.3 440.4 1011.5 443.3 1011.4C446.2 1011.3 450.5 1011.5 452 1011.5L452 1015.7C450.5 1015.7 446.2 1015.5 443.3 1015.3C440.4 1015.1 437.5 1014.4 434.6 1014.4C431.7 1014.5 428.8 1015.2 425.9 1015.5C423 1015.9 420.1 1016.2 417.2 1016.4C414.3 1016.6 411.4 1016.5 408.5 1016.5C405.6 1016.4 401.2 1016.3 399.8 1016.2Z" fill="url(#bd_m2)"/>
<path d="M399.8 1019.2C401.2 1019.3 405.6 1019.4 408.5 1019.5C411.4 1019.5 414.3 1019.6 417.2 1019.4C420.1 1019.2 423 1018.9 425.9 1018.5C428.8 1018.2 431.7 1017.5 434.6 1017.4C437.5 1017.4 440.4 1018.1 443.3 1018.3C446.2 1018.5 450.5 1018.7 452 1018.7L452 1022.9C450.5 1022.9 446.2 1023 443.3 1022.8C440.4 1022.7 437.5 1022.1 434.6 1021.9C431.7 1021.7 428.8 1021.3 425.9 1021.4C423 1021.6 420.1 1022.7 417.2 1022.9C414.3 1023.2 411.4 1022.9 408.5 1022.9C405.6 1022.8 401.2 1022.5 399.8 1022.4Z" fill="url(#bd_m2)"/>
<path d="M399.8 1025.4C401.2 1025.5 405.6 1025.8 408.5 1025.9C411.4 1025.9 414.3 1026.2 417.2 1025.9C420.1 1025.7 423 1024.6 425.9 1024.4C428.8 1024.3 431.7 1024.7 434.6 1024.9C437.5 1025.1 440.4 1025.7 443.3 1025.8C446.2 1026 450.5 1025.9 452 1025.9L452 1029.8C450.5 1029.6 446.2 1028.9 443.3 1028.9C440.4 1028.8 437.5 1029.2 434.6 1029.3C431.7 1029.5 428.8 1029.6 425.9 1029.8C423 1030.1 420.1 1031.1 417.2 1031C414.3 1031 411.4 1029.5 408.5 1029.3C405.6 1029.1 401.2 1029.6 399.8 1029.6Z" fill="url(#bd_m2)"/>
<path d="M399.8 1032.6C401.2 1032.6 405.6 1032.1 408.5 1032.3C411.4 1032.5 414.3 1034 417.2 1034C420.1 1034.1 423 1033.1 425.9 1032.8C428.8 1032.6 431.7 1032.5 434.6 1032.3C437.5 1032.2 440.4 1031.8 443.3 1031.9C446.2 1031.9 450.5 1032.6 452 1032.8L452 1037.5C450.5 1037.4 446.2 1037.1 443.3 1037.1C440.4 1037 437.5 1036.8 434.6 1037C431.7 1037.2 428.8 1038.1 425.9 1038.1C423 1038.1 420.1 1037.3 417.2 1036.9C414.3 1036.5 411.4 1035.8 408.5 1035.6C405.6 1035.5 401.2 1035.9 399.8 1036Z" fill="url(#bd_m2)"/>
<path d="M399.8 1039C401.2 1038.9 405.6 1038.5 408.5 1038.6C411.4 1038.8 414.3 1039.5 417.2 1039.9C420.1 1040.3 423 1041.1 425.9 1041.1C428.8 1041.1 431.7 1040.2 434.6 1040C437.5 1039.8 440.4 1040 443.3 1040.1C446.2 1040.1 450.5 1040.4 452 1040.5L452 1043.6C450.5 1043.5 446.2 1043.3 443.3 1043.3C440.4 1043.4 437.5 1043.4 434.6 1043.8C431.7 1044.1 428.8 1045.5 425.9 1045.6C423 1045.6 420.1 1044.2 417.2 1044C414.3 1043.7 411.4 1043.8 408.5 1043.9C405.6 1044 401.2 1044.4 399.8 1044.5Z" fill="url(#bd_m2)"/>
<path d="M399.8 1047.5C401.2 1047.4 405.6 1047 408.5 1046.9C411.4 1046.8 414.3 1046.7 417.2 1047C420.1 1047.2 423 1048.6 425.9 1048.6C428.8 1048.5 431.7 1047.1 434.6 1046.8C437.5 1046.4 440.4 1046.4 443.3 1046.3C446.2 1046.3 450.5 1046.5 452 1046.6L452 1051.2C450.5 1051.2 446.2 1051.4 443.3 1051.5C440.4 1051.7 437.5 1052.1 434.6 1051.9C431.7 1051.7 428.8 1050.6 425.9 1050.3C423 1049.9 420.1 1049.7 417.2 1049.9C414.3 1050.1 411.4 1051.3 408.5 1051.5C405.6 1051.7 401.2 1050.9 399.8 1050.8Z" fill="url(#bd_m2)"/>
<path d="M399.8 1053.8C401.2 1053.9 405.6 1054.7 408.5 1054.5C411.4 1054.3 414.3 1053.1 417.2 1052.9C420.1 1052.7 423 1052.9 425.9 1053.3C428.8 1053.6 431.7 1054.7 434.6 1054.9C437.5 1055.1 440.4 1054.7 443.3 1054.5C446.2 1054.4 450.5 1054.2 452 1054.2L452 1058C450.5 1058 446.2 1057.8 443.3 1057.8C440.4 1057.7 437.5 1057.8 434.6 1057.9C431.7 1057.9 428.8 1057.9 425.9 1058C423 1058.1 420.1 1058.4 417.2 1058.4C414.3 1058.4 411.4 1057.9 408.5 1057.8C405.6 1057.8 401.2 1058 399.8 1058Z" fill="url(#bd_m2)"/>
<ellipse cx="348.4" cy="992" rx="2" ry="3.9" fill="url(#lb_m2)"/>
<ellipse cx="452.2" cy="992" rx="2" ry="3.9" fill="url(#lb_m2)"/>
<ellipse cx="348" cy="999.2" rx="2" ry="3.9" fill="url(#lb_m2)"/>
<ellipse cx="451.7" cy="999.2" rx="2" ry="3.9" fill="url(#lb_m2)"/>
<ellipse cx="348.2" cy="1006.2" rx="2" ry="3.9" fill="url(#lb_m2)"/>
<ellipse cx="452.8" cy="1006.2" rx="2" ry="3.9" fill="url(#lb_m2)"/>
<ellipse cx="347.1" cy="1013.3" rx="2" ry="3.9" fill="url(#lb_m2)"/>
<ellipse cx="451.3" cy="1013.3" rx="2" ry="3.9" fill="url(#lb_m2)"/>
<ellipse cx="347.3" cy="1020.5" rx="2" ry="3.9" fill="url(#lb_m2)"/>
<ellipse cx="452.2" cy="1020.5" rx="2" ry="3.9" fill="url(#lb_m2)"/>
<ellipse cx="347.9" cy="1027.5" rx="2" ry="3.9" fill="url(#lb_m2)"/>
<ellipse cx="452.1" cy="1027.5" rx="2" ry="3.9" fill="url(#lb_m2)"/>
<ellipse cx="346.5" cy="1034.7" rx="2" ry="3.9" fill="url(#lb_m2)"/>
<ellipse cx="452.7" cy="1034.7" rx="2" ry="3.9" fill="url(#lb_m2)"/>
<ellipse cx="346.5" cy="1041.8" rx="2" ry="3.9" fill="url(#lb_m2)"/>
<ellipse cx="452.7" cy="1041.8" rx="2" ry="3.9" fill="url(#lb_m2)"/>
<ellipse cx="346.7" cy="1048.8" rx="2" ry="3.9" fill="url(#lb_m2)"/>
<ellipse cx="451.8" cy="1048.8" rx="2" ry="3.9" fill="url(#lb_m2)"/>
<ellipse cx="348" cy="1056" rx="2" ry="3.9" fill="url(#lb_m2)"/>
<ellipse cx="451.4" cy="1056" rx="2" ry="3.9" fill="url(#lb_m2)"/>
<path d="M399 988.5C399.2 990.5 399.6 996.4 399.8 1000.3C400 1004.3 400.1 1008.2 400.2 1012.2C400.3 1016.1 400.4 1020.1 400.4 1024C400.4 1027.9 400.1 1031.9 400.1 1035.8C400.2 1039.8 400.7 1043.7 400.6 1047.7C400.6 1051.6 399.9 1057.5 399.7 1059.5" fill="none" stroke="#55524a" stroke-width="1.6" opacity="0.55"/>
</g><g filter="url(#bl1)">
<rect x="169.2" y="1100.6" width="143.6" height="143" rx="12.9" fill="#5fe86c" stroke="#1f7c2b" stroke-width="0.8"/>
<rect x="180.4" y="1111.8" width="121.2" height="120.6" rx="3" fill="#ffffff"/>
<ellipse cx="181.2" cy="1106.2" rx="10.1" ry="3.4" fill="#86ff93" opacity="0.35"/>
<ellipse cx="181.2" cy="1238" rx="10.1" ry="3.4" fill="#86ff93" opacity="0.35"/>
<ellipse cx="174.8" cy="1112.5" rx="3.4" ry="10.1" fill="#86ff93" opacity="0.35"/>
<ellipse cx="307.2" cy="1112.5" rx="3.4" ry="10.1" fill="#86ff93" opacity="0.35"/>
<ellipse cx="205.1" cy="1106.2" rx="10.1" ry="3.4" fill="#86ff93" opacity="0.35"/>
<ellipse cx="205.1" cy="1238" rx="10.1" ry="3.4" fill="#86ff93" opacity="0.35"/>
<ellipse cx="174.8" cy="1136.3" rx="3.4" ry="10.1" fill="#86ff93" opacity="0.35"/>
<ellipse cx="307.2" cy="1136.3" rx="3.4" ry="10.1" fill="#86ff93" opacity="0.35"/>
<ellipse cx="229" cy="1106.2" rx="10.1" ry="3.4" fill="#86ff93" opacity="0.35"/>
<ellipse cx="229" cy="1238" rx="10.1" ry="3.4" fill="#86ff93" opacity="0.35"/>
<ellipse cx="174.8" cy="1160.2" rx="3.4" ry="10.1" fill="#86ff93" opacity="0.35"/>
<ellipse cx="307.2" cy="1160.2" rx="3.4" ry="10.1" fill="#86ff93" opacity="0.35"/>
<ellipse cx="253" cy="1106.2" rx="10.1" ry="3.4" fill="#86ff93" opacity="0.35"/>
<ellipse cx="253" cy="1238" rx="10.1" ry="3.4" fill="#86ff93" opacity="0.35"/>
<ellipse cx="174.8" cy="1184" rx="3.4" ry="10.1" fill="#86ff93" opacity="0.35"/>
<ellipse cx="307.2" cy="1184" rx="3.4" ry="10.1" fill="#86ff93" opacity="0.35"/>
<ellipse cx="276.9" cy="1106.2" rx="10.1" ry="3.4" fill="#86ff93" opacity="0.35"/>
<ellipse cx="276.9" cy="1238" rx="10.1" ry="3.4" fill="#86ff93" opacity="0.35"/>
<ellipse cx="174.8" cy="1207.8" rx="3.4" ry="10.1" fill="#86ff93" opacity="0.35"/>
<ellipse cx="307.2" cy="1207.8" rx="3.4" ry="10.1" fill="#86ff93" opacity="0.35"/>
<ellipse cx="300.8" cy="1106.2" rx="10.1" ry="3.4" fill="#86ff93" opacity="0.35"/>
<ellipse cx="300.8" cy="1238" rx="10.1" ry="3.4" fill="#86ff93" opacity="0.35"/>
<ellipse cx="174.8" cy="1231.7" rx="3.4" ry="10.1" fill="#86ff93" opacity="0.35"/>
<ellipse cx="307.2" cy="1231.7" rx="3.4" ry="10.1" fill="#86ff93" opacity="0.35"/>
<rect x="180.4" y="1111.8" width="121.2" height="120.6" rx="3" fill="none" stroke="#1f7c2b" stroke-width="0.8" opacity="0.8"/>
<rect x="237.6" y="1111.8" width="6.7" height="120.6" fill="#5fe86c"/>
<rect x="180.4" y="1168.7" width="121.2" height="6.7" fill="#5fe86c"/>
<polygon points="180.4,1131.8 200.4,1111.8 180.4,1111.8" fill="#5fe86c"/>
<g transform="translate(188.9 1120.3) rotate(-45)"><ellipse rx="16.3" ry="5.8" fill="url(#pt_g)" stroke="#1f7c2b" stroke-width="0.6"/>
<path d="M-13.8 0L13.8 0" stroke="#1f7c2b" stroke-width="0.6" opacity="0.6"/>
</g>
<polygon points="221,1111.8 241,1131.8 241,1111.8" fill="#5fe86c"/>
<g transform="translate(232.5 1120.3) rotate(45)"><ellipse rx="16.3" ry="5.8" fill="url(#pt_g)" stroke="#1f7c2b" stroke-width="0.6"/>
<path d="M-13.8 0L13.8 0" stroke="#1f7c2b" stroke-width="0.6" opacity="0.6"/>
</g>
<polygon points="180.4,1152.4 200.4,1172.4 180.4,1172.4" fill="#5fe86c"/>
<g transform="translate(188.9 1163.9) rotate(45)"><ellipse rx="16.3" ry="5.8" fill="url(#pt_g)" stroke="#1f7c2b" stroke-width="0.6"/>
<path d="M-13.8 0L13.8 0" stroke="#1f7c2b" stroke-width="0.6" opacity="0.6"/>
</g>
<polygon points="221,1172.4 241,1152.4 241,1172.4" fill="#5fe86c"/>
<g transform="translate(232.5 1163.9) rotate(-45)"><ellipse rx="16.3" ry="5.8" fill="url(#pt_g)" stroke="#1f7c2b" stroke-width="0.6"/>
<path d="M-13.8 0L13.8 0" stroke="#1f7c2b" stroke-width="0.6" opacity="0.6"/>
</g>
<polygon points="241,1192.4 261,1172.4 241,1172.4" fill="#5fe86c"/>
<g transform="translate(249.5 1180.9) rotate(-45)"><ellipse rx="16.3" ry="5.8" fill="url(#pt_g)" stroke="#1f7c2b" stroke-width="0.6"/>
<path d="M-13.8 0L13.8 0" stroke="#1f7c2b" stroke-width="0.6" opacity="0.6"/>
</g>
<polygon points="281.6,1172.4 301.6,1192.4 301.6,1172.4" fill="#5fe86c"/>
<g transform="translate(293.1 1180.9) rotate(45)"><ellipse rx="16.3" ry="5.8" fill="url(#pt_g)" stroke="#1f7c2b" stroke-width="0.6"/>
<path d="M-13.8 0L13.8 0" stroke="#1f7c2b" stroke-width="0.6" opacity="0.6"/>
</g>
<polygon points="241,1213 261,1233 241,1233" fill="#5fe86c"/>
<g transform="translate(249.5 1224.5) rotate(45)"><ellipse rx="16.3" ry="5.8" fill="url(#pt_g)" stroke="#1f7c2b" stroke-width="0.6"/>
<path d="M-13.8 0L13.8 0" stroke="#1f7c2b" stroke-width="0.6" opacity="0.6"/>
</g>
<polygon points="281.6,1233 301.6,1213 301.6,1233" fill="#5fe86c"/>
<g transform="translate(293.1 1224.5) rotate(-45)"><ellipse rx="16.3" ry="5.8" fill="url(#pt_g)" stroke="#1f7c2b" stroke-width="0.6"/>
<path d="M-13.8 0L13.8 0" stroke="#1f7c2b" stroke-width="0.6" opacity="0.6"/>
</g>
<g transform="translate(286.4 1127) rotate(45)"><ellipse rx="21.4" ry="6.8" fill="url(#pt_g)" stroke="#1f7c2b" stroke-width="0.6"/>
<path d="M-18.2 0L18.2 0" stroke="#1f7c2b" stroke-width="0.6" opacity="0.6"/>
</g>
<g transform="translate(286.4 1157.3) rotate(135)"><ellipse rx="21.4" ry="6.8" fill="url(#pt_g)" stroke="#1f7c2b" stroke-width="0.6"/>
<path d="M-18.2 0L18.2 0" stroke="#1f7c2b" stroke-width="0.6" opacity="0.6"/>
</g>
<g transform="translate(256.1 1157.3) rotate(-135)"><ellipse rx="21.4" ry="6.8" fill="url(#pt_g)" stroke="#1f7c2b" stroke-width="0.6"/>
<path d="M-18.2 0L18.2 0" stroke="#1f7c2b" stroke-width="0.6" opacity="0.6"/>
</g>
<g transform="translate(256.1 1127) rotate(-45)"><ellipse rx="21.4" ry="6.8" fill="url(#pt_g)" stroke="#1f7c2b" stroke-width="0.6"/>
<path d="M-18.2 0L18.2 0" stroke="#1f7c2b" stroke-width="0.6" opacity="0.6"/>
</g>
<g transform="translate(225.9 1187.5) rotate(45)"><ellipse rx="21.4" ry="6.8" fill="url(#pt_g)" stroke="#1f7c2b" stroke-width="0.6"/>
<path d="M-18.2 0L18.2 0" stroke="#1f7c2b" stroke-width="0.6" opacity="0.6"/>
</g>
<g transform="translate(225.9 1217.8) rotate(135)"><ellipse rx="21.4" ry="6.8" fill="url(#pt_g)" stroke="#1f7c2b" stroke-width="0.6"/>
<path d="M-18.2 0L18.2 0" stroke="#1f7c2b" stroke-width="0.6" opacity="0.6"/>
</g>
<g transform="translate(195.6 1217.8) rotate(-135)"><ellipse rx="21.4" ry="6.8" fill="url(#pt_g)" stroke="#1f7c2b" stroke-width="0.6"/>
<path d="M-18.2 0L18.2 0" stroke="#1f7c2b" stroke-width="0.6" opacity="0.6"/>
</g>
<g transform="translate(195.6 1187.5) rotate(-45)"><ellipse rx="21.4" ry="6.8" fill="url(#pt_g)" stroke="#1f7c2b" stroke-width="0.6"/>
<path d="M-18.2 0L18.2 0" stroke="#1f7c2b" stroke-width="0.6" opacity="0.6"/>
</g>
<g transform="translate(241 1155.7) rotate(90)"><ellipse rx="13.9" ry="5.5" fill="url(#pt_g)" stroke="#1f7c2b" stroke-width="0.6"/>
<path d="M-11.8 0L11.8 0" stroke="#1f7c2b" stroke-width="0.6" opacity="0.6"/>
</g>
<g transform="translate(241 1188.5) rotate(90)"><ellipse rx="13.9" ry="5.5" fill="url(#pt_g)" stroke="#1f7c2b" stroke-width="0.6"/>
<path d="M-11.8 0L11.8 0" stroke="#1f7c2b" stroke-width="0.6" opacity="0.6"/>
</g>
<g transform="translate(224.6 1172.1) rotate(0)"><ellipse rx="13.9" ry="5.5" fill="url(#pt_g)" stroke="#1f7c2b" stroke-width="0.6"/>
<path d="M-11.8 0L11.8 0" stroke="#1f7c2b" stroke-width="0.6" opacity="0.6"/>
</g>
<g transform="translate(257.4 1172.1) rotate(0)"><ellipse rx="13.9" ry="5.5" fill="url(#pt_g)" stroke="#1f7c2b" stroke-width="0.6"/>
<path d="M-11.8 0L11.8 0" stroke="#1f7c2b" stroke-width="0.6" opacity="0.6"/>
</g>
</g><g filter="url(#bl2)">
<rect x="325.5" y="1098.9" width="145.3" height="147" fill="#efeeea"/>
<rect x="329.5" y="1102.5" width="138" height="140" rx="12.4" fill="#c6c4ba" stroke="#8f8d82" stroke-width="0.8"/>
<rect x="341.9" y="1114.9" width="113.2" height="115.2" rx="3" fill="#2a2926"/>
<ellipse cx="341" cy="1108.7" rx="9.7" ry="3.7" fill="#efede4" opacity="0.85"/>
<ellipse cx="341" cy="1236.3" rx="9.7" ry="3.7" fill="#efede4" opacity="0.85"/>
<ellipse cx="335.7" cy="1114.2" rx="3.7" ry="9.7" fill="#efede4" opacity="0.85"/>
<ellipse cx="461.3" cy="1114.2" rx="3.7" ry="9.7" fill="#efede4" opacity="0.85"/>
<ellipse cx="364" cy="1108.7" rx="9.7" ry="3.7" fill="#efede4" opacity="0.85"/>
<ellipse cx="364" cy="1236.3" rx="9.7" ry="3.7" fill="#efede4" opacity="0.85"/>
<ellipse cx="335.7" cy="1137.5" rx="3.7" ry="9.7" fill="#efede4" opacity="0.85"/>
<ellipse cx="461.3" cy="1137.5" rx="3.7" ry="9.7" fill="#efede4" opacity="0.85"/>
<ellipse cx="387" cy="1108.7" rx="9.7" ry="3.7" fill="#efede4" opacity="0.85"/>
<ellipse cx="387" cy="1236.3" rx="9.7" ry="3.7" fill="#efede4" opacity="0.85"/>
<ellipse cx="335.7" cy="1160.8" rx="3.7" ry="9.7" fill="#efede4" opacity="0.85"/>
<ellipse cx="461.3" cy="1160.8" rx="3.7" ry="9.7" fill="#efede4" opacity="0.85"/>
<ellipse cx="410" cy="1108.7" rx="9.7" ry="3.7" fill="#efede4" opacity="0.85"/>
<ellipse cx="410" cy="1236.3" rx="9.7" ry="3.7" fill="#efede4" opacity="0.85"/>
<ellipse cx="335.7" cy="1184.2" rx="3.7" ry="9.7" fill="#efede4" opacity="0.85"/>
<ellipse cx="461.3" cy="1184.2" rx="3.7" ry="9.7" fill="#efede4" opacity="0.85"/>
<ellipse cx="433" cy="1108.7" rx="9.7" ry="3.7" fill="#efede4" opacity="0.85"/>
<ellipse cx="433" cy="1236.3" rx="9.7" ry="3.7" fill="#efede4" opacity="0.85"/>
<ellipse cx="335.7" cy="1207.5" rx="3.7" ry="9.7" fill="#efede4" opacity="0.85"/>
<ellipse cx="461.3" cy="1207.5" rx="3.7" ry="9.7" fill="#efede4" opacity="0.85"/>
<ellipse cx="456" cy="1108.7" rx="9.7" ry="3.7" fill="#efede4" opacity="0.85"/>
<ellipse cx="456" cy="1236.3" rx="9.7" ry="3.7" fill="#efede4" opacity="0.85"/>
<ellipse cx="335.7" cy="1230.8" rx="3.7" ry="9.7" fill="#efede4" opacity="0.85"/>
<ellipse cx="461.3" cy="1230.8" rx="3.7" ry="9.7" fill="#efede4" opacity="0.85"/>
<rect x="341.9" y="1114.9" width="113.2" height="115.2" rx="3" fill="none" stroke="#8f8d82" stroke-width="0.8" opacity="0.8"/>
<rect x="394.8" y="1114.9" width="7.5" height="115.2" fill="#c6c4ba"/>
<rect x="341.9" y="1168.8" width="113.2" height="7.5" fill="#c6c4ba"/>
<polygon points="341.9,1133.6 360.6,1114.9 341.9,1114.9" fill="#a19e92"/>
<g transform="translate(349.9 1122.9) rotate(-45)"><ellipse rx="15.2" ry="5.6" fill="url(#pt_m2)" stroke="#8f8d82" stroke-width="0.6"/>
<path d="M-12.9 0L12.9 0" stroke="#8f8d82" stroke-width="0.6" opacity="0.6"/>
</g>
<polygon points="379.8,1114.9 398.5,1133.6 398.5,1114.9" fill="#a19e92"/>
<g transform="translate(390.6 1122.9) rotate(45)"><ellipse rx="15.2" ry="5.6" fill="url(#pt_m2)" stroke="#8f8d82" stroke-width="0.6"/>
<path d="M-12.9 0L12.9 0" stroke="#8f8d82" stroke-width="0.6" opacity="0.6"/>
</g>
<polygon points="341.9,1152.8 360.6,1171.5 341.9,1171.5" fill="#a19e92"/>
<g transform="translate(349.9 1163.6) rotate(45)"><ellipse rx="15.2" ry="5.6" fill="url(#pt_m2)" stroke="#8f8d82" stroke-width="0.6"/>
<path d="M-12.9 0L12.9 0" stroke="#8f8d82" stroke-width="0.6" opacity="0.6"/>
</g>
<polygon points="379.8,1171.5 398.5,1152.8 398.5,1171.5" fill="#a19e92"/>
<g transform="translate(390.6 1163.6) rotate(-45)"><ellipse rx="15.2" ry="5.6" fill="url(#pt_m2)" stroke="#8f8d82" stroke-width="0.6"/>
<path d="M-12.9 0L12.9 0" stroke="#8f8d82" stroke-width="0.6" opacity="0.6"/>
</g>
<polygon points="398.5,1190.2 417.2,1171.5 398.5,1171.5" fill="#a19e92"/>
<g transform="translate(406.4 1179.4) rotate(-45)"><ellipse rx="15.2" ry="5.6" fill="url(#pt_m2)" stroke="#8f8d82" stroke-width="0.6"/>
<path d="M-12.9 0L12.9 0" stroke="#8f8d82" stroke-width="0.6" opacity="0.6"/>
</g>
<polygon points="436.4,1171.5 455.1,1190.2 455.1,1171.5" fill="#a19e92"/>
<g transform="translate(447.1 1179.4) rotate(45)"><ellipse rx="15.2" ry="5.6" fill="url(#pt_m2)" stroke="#8f8d82" stroke-width="0.6"/>
<path d="M-12.9 0L12.9 0" stroke="#8f8d82" stroke-width="0.6" opacity="0.6"/>
</g>
<polygon points="398.5,1209.4 417.2,1228.1 398.5,1228.1" fill="#a19e92"/>
<g transform="translate(406.4 1220.1) rotate(45)"><ellipse rx="15.2" ry="5.6" fill="url(#pt_m2)" stroke="#8f8d82" stroke-width="0.6"/>
<path d="M-12.9 0L12.9 0" stroke="#8f8d82" stroke-width="0.6" opacity="0.6"/>
</g>
<polygon points="436.4,1228.1 455.1,1209.4 455.1,1228.1" fill="#a19e92"/>
<g transform="translate(447.1 1220.1) rotate(-45)"><ellipse rx="15.2" ry="5.6" fill="url(#pt_m2)" stroke="#8f8d82" stroke-width="0.6"/>
<path d="M-12.9 0L12.9 0" stroke="#8f8d82" stroke-width="0.6" opacity="0.6"/>
</g>
<g transform="translate(440.9 1129.1) rotate(45)"><ellipse rx="20" ry="6.7" fill="url(#pt_m2)" stroke="#8f8d82" stroke-width="0.6"/>
<path d="M-17 0L17 0" stroke="#8f8d82" stroke-width="0.6" opacity="0.6"/>
</g>
<g transform="translate(440.9 1157.4) rotate(135)"><ellipse rx="20" ry="6.7" fill="url(#pt_m2)" stroke="#8f8d82" stroke-width="0.6"/>
<path d="M-17 0L17 0" stroke="#8f8d82" stroke-width="0.6" opacity="0.6"/>
</g>
<g transform="translate(412.6 1157.4) rotate(-135)"><ellipse rx="20" ry="6.7" fill="url(#pt_m2)" stroke="#8f8d82" stroke-width="0.6"/>
<path d="M-17 0L17 0" stroke="#8f8d82" stroke-width="0.6" opacity="0.6"/>
</g>
<g transform="translate(412.6 1129.1) rotate(-45)"><ellipse rx="20" ry="6.7" fill="url(#pt_m2)" stroke="#8f8d82" stroke-width="0.6"/>
<path d="M-17 0L17 0" stroke="#8f8d82" stroke-width="0.6" opacity="0.6"/>
</g>
<g transform="translate(384.4 1185.6) rotate(45)"><ellipse rx="20" ry="6.7" fill="url(#pt_m2)" stroke="#8f8d82" stroke-width="0.6"/>
<path d="M-17 0L17 0" stroke="#8f8d82" stroke-width="0.6" opacity="0.6"/>
</g>
<g transform="translate(384.4 1213.9) rotate(135)"><ellipse rx="20" ry="6.7" fill="url(#pt_m2)" stroke="#8f8d82" stroke-width="0.6"/>
<path d="M-17 0L17 0" stroke="#8f8d82" stroke-width="0.6" opacity="0.6"/>
</g>
<g transform="translate(356.1 1213.9) rotate(-135)"><ellipse rx="20" ry="6.7" fill="url(#pt_m2)" stroke="#8f8d82" stroke-width="0.6"/>
<path d="M-17 0L17 0" stroke="#8f8d82" stroke-width="0.6" opacity="0.6"/>
</g>
<g transform="translate(356.1 1185.6) rotate(-45)"><ellipse rx="20" ry="6.7" fill="url(#pt_m2)" stroke="#8f8d82" stroke-width="0.6"/>
<path d="M-17 0L17 0" stroke="#8f8d82" stroke-width="0.6" opacity="0.6"/>
</g>
<g transform="translate(398.5 1157.2) rotate(90)"><ellipse rx="13" ry="5.3" fill="url(#pt_m2)" stroke="#8f8d82" stroke-width="0.6"/>
<path d="M-11.1 0L11.1 0" stroke="#8f8d82" stroke-width="0.6" opacity="0.6"/>
</g>
<g transform="translate(398.5 1187.8) rotate(90)"><ellipse rx="13" ry="5.3" fill="url(#pt_m2)" stroke="#8f8d82" stroke-width="0.6"/>
<path d="M-11.1 0L11.1 0" stroke="#8f8d82" stroke-width="0.6" opacity="0.6"/>
</g>
<g transform="translate(383.2 1172.5) rotate(0)"><ellipse rx="13" ry="5.3" fill="url(#pt_m2)" stroke="#8f8d82" stroke-width="0.6"/>
<path d="M-11.1 0L11.1 0" stroke="#8f8d82" stroke-width="0.6" opacity="0.6"/>
</g>
<g transform="translate(413.8 1172.5) rotate(0)"><ellipse rx="13" ry="5.3" fill="url(#pt_m2)" stroke="#8f8d82" stroke-width="0.6"/>
<path d="M-11.1 0L11.1 0" stroke="#8f8d82" stroke-width="0.6" opacity="0.6"/>
</g>
<line x1="341.9" y1="1172.5" x2="455.1" y2="1172.5" stroke="#eceae2" stroke-width="0.8" opacity="0.8"/>
<line x1="398.5" y1="1114.9" x2="398.5" y2="1230.1" stroke="#eceae2" stroke-width="0.8" opacity="0.8"/>
<line x1="398.5" y1="1114.9" x2="455.1" y2="1172.5" stroke="#eceae2" stroke-width="0.8" opacity="0.8"/>
<line x1="341.9" y1="1172.5" x2="398.5" y2="1230.1" stroke="#eceae2" stroke-width="0.8" opacity="0.8"/>
<line x1="398.5" y1="1172.5" x2="426.8" y2="1143.2" stroke="#eceae2" stroke-width="0.8" opacity="0.8"/>
<line x1="398.5" y1="1172.5" x2="370.2" y2="1200.8" stroke="#eceae2" stroke-width="0.8" opacity="0.8"/>
<line x1="398.5" y1="1114.9" x2="455.1" y2="1171.5" stroke="#eceae2" stroke-width="0.8" opacity="0.8"/>
<line x1="341.9" y1="1172.5" x2="398.5" y2="1229.1" stroke="#eceae2" stroke-width="0.8" opacity="0.8"/>
<line x1="426.8" y1="1143.2" x2="455.1" y2="1114.9" stroke="#eceae2" stroke-width="0.8" opacity="0.8"/>
<line x1="341.9" y1="1230.1" x2="370.2" y2="1200.8" stroke="#eceae2" stroke-width="0.8" opacity="0.8"/>
</g><g filter="url(#bl1)">
<clipPath id="c5001"><polygon points="493.2,1079.5 563.7,1115 563.7,1171 494.2,1133.4"/></clipPath>
<g clip-path="url(#c5001)">
<polygon points="493.2,1079.5 563.7,1115 563.7,1171 494.2,1133.4" fill="#1b7526"/>
<path d="M493.2 1079.5C494.4 1080.1 497.9 1081.9 500.2 1083C502.6 1084.2 504.9 1085.4 507.3 1086.6C509.7 1087.8 512 1089 514.4 1090.2C516.7 1091.3 519.1 1092.5 521.4 1093.7C523.8 1094.9 527.3 1096.7 528.5 1097.2L528.5 1101.2C527.3 1100.6 523.8 1099 521.4 1097.8C519.1 1096.7 516.7 1095.6 514.4 1094.3C512.1 1092.9 509.7 1091 507.4 1089.8C505 1088.6 502.7 1088.1 500.3 1087C498 1085.9 494.4 1084 493.3 1083.3Z" fill="url(#bd_gi)"/>
<path d="M493.3 1083.3C494.4 1084 498 1085.9 500.3 1087C502.7 1088.1 505 1088.6 507.4 1089.8C509.7 1091 512.1 1092.9 514.4 1094.3C516.7 1095.6 519.1 1096.7 521.4 1097.8C523.8 1099 527.3 1100.6 528.5 1101.2L528.5 1105.1C527.3 1104.5 523.8 1102.6 521.5 1101.4C519.1 1100.2 516.8 1099.2 514.5 1098.1C512.1 1097 509.8 1096.1 507.4 1094.9C505.1 1093.7 502.7 1092.1 500.4 1090.9C498 1089.6 494.5 1087.8 493.3 1087.2Z" fill="url(#bd_gi)"/>
<path d="M493.3 1087.2C494.5 1087.8 498 1089.6 500.4 1090.9C502.7 1092.1 505.1 1093.7 507.4 1094.9C509.8 1096.1 512.1 1097 514.5 1098.1C516.8 1099.2 519.1 1100.2 521.5 1101.4C523.8 1102.6 527.3 1104.5 528.5 1105.1L528.6 1109C527.4 1108.4 523.9 1106.6 521.5 1105.5C519.2 1104.3 516.8 1103.2 514.5 1102.1C512.2 1101 509.8 1099.9 507.5 1098.7C505.1 1097.5 502.8 1096 500.4 1094.7C498.1 1093.4 494.6 1091.7 493.4 1091Z" fill="url(#bd_gi)"/>
<path d="M493.4 1091C494.6 1091.7 498.1 1093.4 500.4 1094.7C502.8 1096 505.1 1097.5 507.5 1098.7C509.8 1099.9 512.2 1101 514.5 1102.1C516.8 1103.2 519.2 1104.3 521.5 1105.5C523.9 1106.6 527.4 1108.4 528.6 1109L528.6 1113C527.4 1112.3 523.9 1110.5 521.6 1109.2C519.2 1107.9 516.9 1106.2 514.5 1105.1C512.2 1104 509.9 1103.5 507.5 1102.5C505.2 1101.4 502.8 1100.1 500.5 1098.8C498.2 1097.5 494.7 1095.6 493.5 1094.9Z" fill="url(#bd_gi)"/>
<path d="M493.5 1094.9C494.7 1095.6 498.2 1097.5 500.5 1098.8C502.8 1100.1 505.2 1101.4 507.5 1102.5C509.9 1103.5 512.2 1104 514.5 1105.1C516.9 1106.2 519.2 1107.9 521.6 1109.2C523.9 1110.5 527.4 1112.3 528.6 1113L528.6 1116.9C527.5 1116.3 524 1114.4 521.6 1113.3C519.3 1112.1 516.9 1111.2 514.6 1110C512.3 1108.8 509.9 1107.6 507.6 1106.2C505.2 1104.9 502.9 1103.1 500.6 1101.9C498.2 1100.6 494.7 1099.3 493.6 1098.8Z" fill="url(#bd_gi)"/>
<path d="M493.6 1098.8C494.7 1099.3 498.2 1100.6 500.6 1101.9C502.9 1103.1 505.2 1104.9 507.6 1106.2C509.9 1107.6 512.3 1108.8 514.6 1110C516.9 1111.2 519.3 1112.1 521.6 1113.3C524 1114.4 527.5 1116.3 528.6 1116.9L528.7 1120.8C527.5 1120.1 524 1117.9 521.7 1116.6C519.3 1115.4 517 1114.6 514.6 1113.5C512.3 1112.4 510 1111.2 507.6 1110.1C505.3 1108.9 503 1107.9 500.6 1106.6C498.3 1105.4 494.8 1103.3 493.6 1102.6Z" fill="url(#bd_gi)"/>
<path d="M493.6 1102.6C494.8 1103.3 498.3 1105.4 500.6 1106.6C503 1107.9 505.3 1108.9 507.6 1110.1C510 1111.2 512.3 1112.4 514.6 1113.5C517 1114.6 519.3 1115.4 521.7 1116.6C524 1117.9 527.5 1120.1 528.7 1120.8L528.7 1124.7C527.5 1124.1 524 1122.1 521.7 1120.9C519.4 1119.7 517 1118.8 514.7 1117.7C512.4 1116.6 510 1115.5 507.7 1114.2C505.4 1112.8 503 1110.9 500.7 1109.6C498.4 1108.4 494.9 1107 493.7 1106.5Z" fill="url(#bd_gi)"/>
<path d="M493.7 1106.5C494.9 1107 498.4 1108.4 500.7 1109.6C503 1110.9 505.4 1112.8 507.7 1114.2C510 1115.5 512.4 1116.6 514.7 1117.7C517 1118.8 519.4 1119.7 521.7 1120.9C524 1122.1 527.5 1124.1 528.7 1124.7L528.7 1128.7C527.6 1128 524.1 1125.6 521.7 1124.5C519.4 1123.3 517.1 1122.8 514.8 1121.7C512.4 1120.6 510.1 1119.2 507.8 1117.9C505.4 1116.5 503.1 1114.9 500.8 1113.6C498.4 1112.4 494.9 1110.9 493.8 1110.3Z" fill="url(#bd_gi)"/>
<path d="M493.8 1110.3C494.9 1110.9 498.4 1112.4 500.8 1113.6C503.1 1114.9 505.4 1116.5 507.8 1117.9C510.1 1119.2 512.4 1120.6 514.8 1121.7C517.1 1122.8 519.4 1123.3 521.7 1124.5C524.1 1125.6 527.6 1128 528.7 1128.7L528.8 1132.6C527.6 1132 524.1 1130.2 521.8 1128.8C519.5 1127.5 517.1 1125.8 514.8 1124.6C512.5 1123.3 510.1 1122.5 507.8 1121.4C505.5 1120.3 503.2 1119.1 500.8 1117.9C498.5 1116.7 495 1114.8 493.8 1114.2Z" fill="url(#bd_gi)"/>
<path d="M493.8 1114.2C495 1114.8 498.5 1116.7 500.8 1117.9C503.2 1119.1 505.5 1120.3 507.8 1121.4C510.1 1122.5 512.5 1123.3 514.8 1124.6C517.1 1125.8 519.5 1127.5 521.8 1128.8C524.1 1130.2 527.6 1132 528.8 1132.6L528.8 1136.5C527.6 1135.8 524.2 1133.5 521.8 1132.3C519.5 1131.2 517.2 1130.5 514.9 1129.4C512.5 1128.3 510.2 1126.9 507.9 1125.7C505.5 1124.4 503.2 1123.2 500.9 1121.9C498.6 1120.6 495.1 1118.7 493.9 1118Z" fill="url(#bd_gi)"/>
<path d="M493.9 1118C495.1 1118.7 498.6 1120.6 500.9 1121.9C503.2 1123.2 505.5 1124.4 507.9 1125.7C510.2 1126.9 512.5 1128.3 514.9 1129.4C517.2 1130.5 519.5 1131.2 521.8 1132.3C524.2 1133.5 527.6 1135.8 528.8 1136.5L529 1152.2C527.8 1151.6 524.3 1149.7 522 1148.4C519.7 1147.2 517.4 1145.9 515.1 1144.7C512.7 1143.4 510.4 1142.2 508.1 1140.9C505.8 1139.7 503.5 1138.4 501.1 1137.2C498.8 1135.9 495.4 1134 494.2 1133.4Z" fill="#2fa53c"/>
<path d="M528.5 1097.2C529.6 1097.8 533.1 1099.6 535.5 1100.8C537.9 1102 540.2 1103.2 542.6 1104.3C544.9 1105.5 547.2 1106.7 549.6 1107.9C552 1109.1 554.3 1110.3 556.7 1111.5C559 1112.6 562.5 1114.4 563.7 1115L563.7 1119C562.5 1118.5 559 1117 556.7 1115.8C554.3 1114.6 552 1113.2 549.6 1111.9C547.3 1110.6 544.9 1109.3 542.6 1108.1C540.2 1106.8 537.9 1105.5 535.5 1104.4C533.2 1103.2 529.7 1101.7 528.5 1101.2Z" fill="url(#bd_gi)"/>
<path d="M528.5 1101.2C529.7 1101.7 533.2 1103.2 535.5 1104.4C537.9 1105.5 540.2 1106.8 542.6 1108.1C544.9 1109.3 547.3 1110.6 549.6 1111.9C552 1113.2 554.3 1114.6 556.7 1115.8C559 1117 562.5 1118.5 563.7 1119L563.7 1123C562.5 1122.4 559 1120.9 556.7 1119.7C554.3 1118.5 552 1117.1 549.6 1115.7C547.3 1114.4 544.9 1112.8 542.6 1111.7C540.2 1110.6 537.9 1110 535.6 1108.9C533.2 1107.8 529.7 1105.7 528.5 1105.1Z" fill="url(#bd_gi)"/>
<path d="M528.5 1105.1C529.7 1105.7 533.2 1107.8 535.6 1108.9C537.9 1110 540.2 1110.6 542.6 1111.7C544.9 1112.8 547.3 1114.4 549.6 1115.7C552 1117.1 554.3 1118.5 556.7 1119.7C559 1120.9 562.5 1122.4 563.7 1123L563.7 1127C562.5 1126.4 559 1124.8 556.7 1123.5C554.3 1122.2 552 1120.4 549.6 1119.2C547.3 1118.1 545 1117.6 542.6 1116.6C540.3 1115.5 537.9 1114.2 535.6 1112.9C533.2 1111.7 529.7 1109.7 528.6 1109Z" fill="url(#bd_gi)"/>
<path d="M528.6 1109C529.7 1109.7 533.2 1111.7 535.6 1112.9C537.9 1114.2 540.3 1115.5 542.6 1116.6C545 1117.6 547.3 1118.1 549.6 1119.2C552 1120.4 554.3 1122.2 556.7 1123.5C559 1124.8 562.5 1126.4 563.7 1127L563.7 1131C562.5 1130.3 559 1128.3 556.7 1127.1C554.3 1125.9 552 1124.8 549.7 1123.7C547.3 1122.5 545 1121.6 542.6 1120.4C540.3 1119.3 538 1118 535.6 1116.8C533.3 1115.5 529.8 1113.6 528.6 1113Z" fill="url(#bd_gi)"/>
<path d="M528.6 1113C529.8 1113.6 533.3 1115.5 535.6 1116.8C538 1118 540.3 1119.3 542.6 1120.4C545 1121.6 547.3 1122.5 549.7 1123.7C552 1124.8 554.3 1125.9 556.7 1127.1C559 1128.3 562.5 1130.3 563.7 1131L563.7 1135C562.5 1134.4 559 1132.9 556.7 1131.6C554.3 1130.2 552 1128.4 549.7 1127.1C547.3 1125.9 545 1125 542.7 1123.9C540.3 1122.7 538 1121.7 535.6 1120.5C533.3 1119.3 529.8 1117.5 528.6 1116.9Z" fill="url(#bd_gi)"/>
<path d="M528.6 1116.9C529.8 1117.5 533.3 1119.3 535.6 1120.5C538 1121.7 540.3 1122.7 542.7 1123.9C545 1125 547.3 1125.9 549.7 1127.1C552 1128.4 554.3 1130.2 556.7 1131.6C559 1132.9 562.5 1134.4 563.7 1135L563.7 1139C562.5 1138.4 559 1136.5 556.7 1135.3C554.4 1134.1 552 1132.8 549.7 1131.7C547.4 1130.7 545 1130 542.7 1128.8C540.3 1127.5 538 1125.8 535.7 1124.4C533.3 1123.1 529.8 1121.4 528.7 1120.8Z" fill="url(#bd_gi)"/>
<path d="M528.7 1120.8C529.8 1121.4 533.3 1123.1 535.7 1124.4C538 1125.8 540.3 1127.5 542.7 1128.8C545 1130 547.4 1130.7 549.7 1131.7C552 1132.8 554.4 1134.1 556.7 1135.3C559 1136.5 562.5 1138.4 563.7 1139L563.7 1143C562.5 1142.4 559 1140.8 556.7 1139.6C554.4 1138.4 552 1137.3 549.7 1135.9C547.4 1134.6 545 1132.9 542.7 1131.6C540.4 1130.3 538 1129.4 535.7 1128.2C533.4 1127.1 529.9 1125.3 528.7 1124.7Z" fill="url(#bd_gi)"/>
<path d="M528.7 1124.7C529.9 1125.3 533.4 1127.1 535.7 1128.2C538 1129.4 540.4 1130.3 542.7 1131.6C545 1132.9 547.4 1134.6 549.7 1135.9C552 1137.3 554.4 1138.4 556.7 1139.6C559 1140.8 562.5 1142.4 563.7 1143L563.7 1147C562.5 1146.4 559 1144.5 556.7 1143.3C554.4 1142 552 1140.8 549.7 1139.7C547.4 1138.6 545.1 1137.9 542.7 1136.6C540.4 1135.4 538.1 1133.5 535.7 1132.2C533.4 1130.8 529.9 1129.2 528.7 1128.7Z" fill="url(#bd_gi)"/>
<path d="M528.7 1128.7C529.9 1129.2 533.4 1130.8 535.7 1132.2C538.1 1133.5 540.4 1135.4 542.7 1136.6C545.1 1137.9 547.4 1138.6 549.7 1139.7C552 1140.8 554.4 1142 556.7 1143.3C559 1144.5 562.5 1146.4 563.7 1147L563.7 1151C562.5 1150.4 559 1148.7 556.7 1147.3C554.4 1146 552.1 1144.3 549.7 1143.1C547.4 1141.9 545.1 1141.2 542.7 1140.1C540.4 1139 538.1 1137.7 535.8 1136.5C533.4 1135.2 529.9 1133.2 528.8 1132.6Z" fill="url(#bd_gi)"/>
<path d="M528.8 1132.6C529.9 1133.2 533.4 1135.2 535.8 1136.5C538.1 1137.7 540.4 1139 542.7 1140.1C545.1 1141.2 547.4 1141.9 549.7 1143.1C552.1 1144.3 554.4 1146 556.7 1147.3C559 1148.7 562.5 1150.4 563.7 1151L563.7 1155C562.5 1154.4 559 1152.5 556.7 1151.2C554.4 1149.8 552.1 1148.2 549.7 1147C547.4 1145.9 545.1 1145.5 542.8 1144.4C540.4 1143.2 538.1 1141.7 535.8 1140.4C533.5 1139.1 530 1137.2 528.8 1136.5Z" fill="url(#bd_gi)"/>
<path d="M528.8 1136.5C530 1137.2 533.5 1139.1 535.8 1140.4C538.1 1141.7 540.4 1143.2 542.8 1144.4C545.1 1145.5 547.4 1145.9 549.7 1147C552.1 1148.2 554.4 1149.8 556.7 1151.2C559 1152.5 562.5 1154.4 563.7 1155L563.7 1171C562.5 1170.4 559.1 1168.5 556.8 1167.2C554.4 1166 552.1 1164.7 549.8 1163.5C547.5 1162.2 545.2 1161 542.9 1159.7C540.5 1158.5 538.2 1157.2 535.9 1156C533.6 1154.7 530.1 1152.8 529 1152.2Z" fill="#2fa53c"/>
<polygon points="493.2,1079.5 563.7,1115 563.7,1171 494.2,1133.4" fill="#12551a" opacity="0.18"/>
</g>
<clipPath id="c5002"><polygon points="563.7,1115 634.2,1080.6 630.4,1133.4 563.7,1171"/></clipPath>
<g clip-path="url(#c5002)">
<polygon points="563.7,1115 634.2,1080.6 630.4,1133.4 563.7,1171" fill="#1b7526"/>
<path d="M563.7 1115C564.9 1114.4 568.4 1112.7 570.8 1111.6C573.1 1110.4 575.5 1109.3 577.8 1108.1C580.2 1107 582.5 1105.8 584.9 1104.7C587.2 1103.5 589.6 1102.4 591.9 1101.2C594.3 1100.1 597.8 1098.4 599 1097.8L598.8 1101.7C597.6 1102.3 594.1 1104.5 591.8 1105.7C589.5 1106.8 587.1 1107.4 584.8 1108.4C582.4 1109.4 580.1 1110.6 577.7 1111.7C575.4 1112.9 573.1 1114.1 570.7 1115.4C568.4 1116.6 564.9 1118.4 563.7 1119Z" fill="url(#bd_gi)"/>
<path d="M563.7 1119C564.9 1118.4 568.4 1116.6 570.7 1115.4C573.1 1114.1 575.4 1112.9 577.7 1111.7C580.1 1110.6 582.4 1109.4 584.8 1108.4C587.1 1107.4 589.5 1106.8 591.8 1105.7C594.1 1104.5 597.6 1102.3 598.8 1101.7L598.7 1105.6C597.5 1106.1 594 1107.8 591.7 1109C589.4 1110.2 587 1111.5 584.7 1112.7C582.4 1114 580 1115.4 577.7 1116.5C575.4 1117.5 573 1118.1 570.7 1119.1C568.4 1120.2 564.9 1122.4 563.7 1123Z" fill="url(#bd_gi)"/>
<path d="M563.7 1123C564.9 1122.4 568.4 1120.2 570.7 1119.1C573 1118.1 575.4 1117.5 577.7 1116.5C580 1115.4 582.4 1114 584.7 1112.7C587 1111.5 589.4 1110.2 591.7 1109C594 1107.8 597.5 1106.1 598.7 1105.6L598.5 1109.5C597.4 1110.1 593.9 1112.4 591.6 1113.5C589.3 1114.6 586.9 1115.1 584.6 1116.2C582.3 1117.2 580 1118.5 577.6 1119.7C575.3 1120.9 573 1122.3 570.7 1123.5C568.3 1124.8 564.9 1126.4 563.7 1127Z" fill="url(#bd_gi)"/>
<path d="M563.7 1127C564.9 1126.4 568.3 1124.8 570.7 1123.5C573 1122.3 575.3 1120.9 577.6 1119.7C580 1118.5 582.3 1117.2 584.6 1116.2C586.9 1115.1 589.3 1114.6 591.6 1113.5C593.9 1112.4 597.4 1110.1 598.5 1109.5L598.4 1113.3C597.3 1113.9 593.8 1115.8 591.5 1117C589.2 1118.1 586.8 1119.2 584.5 1120.2C582.2 1121.3 579.9 1122.2 577.6 1123.4C575.3 1124.7 573 1126.4 570.6 1127.6C568.3 1128.9 564.9 1130.4 563.7 1131Z" fill="url(#bd_gi)"/>
<path d="M563.7 1131C564.9 1130.4 568.3 1128.9 570.6 1127.6C573 1126.4 575.3 1124.7 577.6 1123.4C579.9 1122.2 582.2 1121.3 584.5 1120.2C586.8 1119.2 589.2 1118.1 591.5 1117C593.8 1115.8 597.3 1113.9 598.4 1113.3L598.3 1117.2C597.1 1117.8 593.7 1119.5 591.4 1120.6C589.1 1121.8 586.7 1122.7 584.4 1123.9C582.1 1125.2 579.8 1126.8 577.5 1128.1C575.2 1129.4 572.9 1130.7 570.6 1131.9C568.3 1133 564.9 1134.5 563.7 1135Z" fill="url(#bd_gi)"/>
<path d="M563.7 1135C564.9 1134.5 568.3 1133 570.6 1131.9C572.9 1130.7 575.2 1129.4 577.5 1128.1C579.8 1126.8 582.1 1125.2 584.4 1123.9C586.7 1122.7 589.1 1121.8 591.4 1120.6C593.7 1119.5 597.1 1117.8 598.3 1117.2L598.1 1121.1C597 1121.7 593.5 1123.4 591.2 1124.7C589 1125.9 586.7 1127.2 584.4 1128.5C582.1 1129.8 579.8 1131.2 577.5 1132.3C575.2 1133.4 572.9 1133.9 570.6 1135C568.3 1136.2 564.8 1138.3 563.7 1139Z" fill="url(#bd_gi)"/>
<path d="M563.7 1139C564.8 1138.3 568.3 1136.2 570.6 1135C572.9 1133.9 575.2 1133.4 577.5 1132.3C579.8 1131.2 582.1 1129.8 584.4 1128.5C586.7 1127.2 589 1125.9 591.2 1124.7C593.5 1123.4 597 1121.7 598.1 1121.1L598 1125C596.9 1125.6 593.4 1127.2 591.1 1128.3C588.9 1129.5 586.6 1130.8 584.3 1132.1C582 1133.4 579.7 1134.9 577.4 1136.1C575.1 1137.4 572.8 1138.7 570.6 1139.8C568.3 1141 564.8 1142.5 563.7 1143Z" fill="url(#bd_gi)"/>
<path d="M563.7 1143C564.8 1142.5 568.3 1141 570.6 1139.8C572.8 1138.7 575.1 1137.4 577.4 1136.1C579.7 1134.9 582 1133.4 584.3 1132.1C586.6 1130.8 588.9 1129.5 591.1 1128.3C593.4 1127.2 596.9 1125.6 598 1125L597.9 1128.9C596.7 1129.4 593.3 1130.9 591 1132.1C588.8 1133.3 586.5 1134.8 584.2 1136.1C581.9 1137.5 579.6 1138.8 577.4 1140C575.1 1141.3 572.8 1142.4 570.5 1143.6C568.3 1144.7 564.8 1146.4 563.7 1147Z" fill="url(#bd_gi)"/>
<path d="M563.7 1147C564.8 1146.4 568.3 1144.7 570.5 1143.6C572.8 1142.4 575.1 1141.3 577.4 1140C579.6 1138.8 581.9 1137.5 584.2 1136.1C586.5 1134.8 588.8 1133.3 591 1132.1C593.3 1130.9 596.7 1129.4 597.9 1128.9L597.7 1132.8C596.6 1133.4 593.2 1135.1 590.9 1136.3C588.7 1137.4 586.4 1138.4 584.1 1139.7C581.8 1140.9 579.6 1142.6 577.3 1144C575 1145.3 572.8 1146.6 570.5 1147.7C568.2 1148.9 564.8 1150.5 563.7 1151Z" fill="url(#bd_gi)"/>
<path d="M563.7 1151C564.8 1150.5 568.2 1148.9 570.5 1147.7C572.8 1146.6 575 1145.3 577.3 1144C579.6 1142.6 581.8 1140.9 584.1 1139.7C586.4 1138.4 588.7 1137.4 590.9 1136.3C593.2 1135.1 596.6 1133.4 597.7 1132.8L597.6 1136.7C596.5 1137.2 593.1 1138.7 590.8 1139.9C588.6 1141.1 586.3 1142.5 584 1143.9C581.8 1145.3 579.5 1147.1 577.3 1148.3C575 1149.5 572.7 1150.1 570.5 1151.2C568.2 1152.3 564.8 1154.4 563.7 1155Z" fill="url(#bd_gi)"/>
<path d="M563.7 1155C564.8 1154.4 568.2 1152.3 570.5 1151.2C572.7 1150.1 575 1149.5 577.3 1148.3C579.5 1147.1 581.8 1145.3 584 1143.9C586.3 1142.5 588.6 1141.1 590.8 1139.9C593.1 1138.7 596.5 1137.2 597.6 1136.7L597 1152.2C595.9 1152.8 592.6 1154.7 590.4 1156C588.2 1157.2 585.9 1158.5 583.7 1159.7C581.5 1161 579.3 1162.2 577 1163.5C574.8 1164.7 572.6 1166 570.4 1167.2C568.1 1168.5 564.8 1170.4 563.7 1171Z" fill="#3dc04a"/>
<path d="M599 1097.8C600.1 1097.2 603.6 1095.5 606 1094.4C608.4 1093.2 610.7 1092.1 613.1 1090.9C615.4 1089.8 617.8 1088.6 620.1 1087.5C622.5 1086.3 624.8 1085.2 627.2 1084C629.5 1082.9 633 1081.2 634.2 1080.6L633.9 1084.4C632.8 1085 629.2 1086.8 626.9 1088.1C624.6 1089.3 622.2 1090.8 619.9 1091.8C617.5 1092.9 615.2 1093.5 612.9 1094.5C610.5 1095.6 608.2 1096.8 605.8 1098C603.5 1099.2 600 1101.1 598.8 1101.7Z" fill="url(#bd_gi)"/>
<path d="M598.8 1101.7C600 1101.1 603.5 1099.2 605.8 1098C608.2 1096.8 610.5 1095.6 612.9 1094.5C615.2 1093.5 617.5 1092.9 619.9 1091.8C622.2 1090.8 624.6 1089.3 626.9 1088.1C629.2 1086.8 632.8 1085 633.9 1084.4L633.7 1088.1C632.5 1088.6 629 1090 626.7 1091.2C624.3 1092.3 622 1093.6 619.7 1094.9C617.3 1096.2 615 1097.5 612.7 1098.7C610.3 1099.9 608 1101.2 605.7 1102.4C603.3 1103.5 599.8 1105 598.7 1105.6Z" fill="url(#bd_gi)"/>
<path d="M598.7 1105.6C599.8 1105 603.3 1103.5 605.7 1102.4C608 1101.2 610.3 1099.9 612.7 1098.7C615 1097.5 617.3 1096.2 619.7 1094.9C622 1093.6 624.3 1092.3 626.7 1091.2C629 1090 632.5 1088.6 633.7 1088.1L633.4 1091.9C632.2 1092.5 628.7 1094.4 626.4 1095.6C624.1 1096.8 621.8 1097.9 619.4 1098.9C617.1 1099.9 614.8 1100.6 612.5 1101.8C610.2 1103 607.8 1104.8 605.5 1106.1C603.2 1107.4 599.7 1108.9 598.5 1109.5Z" fill="url(#bd_gi)"/>
<path d="M598.5 1109.5C599.7 1108.9 603.2 1107.4 605.5 1106.1C607.8 1104.8 610.2 1103 612.5 1101.8C614.8 1100.6 617.1 1099.9 619.4 1098.9C621.8 1097.9 624.1 1096.8 626.4 1095.6C628.7 1094.4 632.2 1092.5 633.4 1091.9L633.1 1095.7C632 1096.3 628.5 1098.3 626.2 1099.4C623.9 1100.6 621.5 1101.4 619.2 1102.5C616.9 1103.6 614.6 1104.7 612.3 1106C610 1107.3 607.7 1109 605.3 1110.3C603 1111.5 599.6 1112.8 598.4 1113.3Z" fill="url(#bd_gi)"/>
<path d="M598.4 1113.3C599.6 1112.8 603 1111.5 605.3 1110.3C607.7 1109 610 1107.3 612.3 1106C614.6 1104.7 616.9 1103.6 619.2 1102.5C621.5 1101.4 623.9 1100.6 626.2 1099.4C628.5 1098.3 632 1096.3 633.1 1095.7L632.8 1099.5C631.7 1100 628.2 1101.7 625.9 1102.8C623.6 1103.9 621.3 1105 619 1106.3C616.7 1107.7 614.4 1109.5 612.1 1110.8C609.8 1112 607.5 1112.6 605.2 1113.7C602.9 1114.7 599.4 1116.6 598.3 1117.2Z" fill="url(#bd_gi)"/>
<path d="M598.3 1117.2C599.4 1116.6 602.9 1114.7 605.2 1113.7C607.5 1112.6 609.8 1112 612.1 1110.8C614.4 1109.5 616.7 1107.7 619 1106.3C621.3 1105 623.6 1103.9 625.9 1102.8C628.2 1101.7 631.7 1100 632.8 1099.5L632.6 1103.2C631.4 1103.7 628 1105.1 625.7 1106.3C623.4 1107.5 621.1 1109.1 618.8 1110.4C616.5 1111.7 614.2 1112.9 611.9 1114.2C609.6 1115.4 607.3 1116.8 605 1118C602.7 1119.2 599.3 1120.6 598.1 1121.1Z" fill="url(#bd_gi)"/>
<path d="M598.1 1121.1C599.3 1120.6 602.7 1119.2 605 1118C607.3 1116.8 609.6 1115.4 611.9 1114.2C614.2 1112.9 616.5 1111.7 618.8 1110.4C621.1 1109.1 623.4 1107.5 625.7 1106.3C628 1105.1 631.4 1103.7 632.6 1103.2L632.3 1107C631.2 1107.6 627.7 1109.7 625.4 1110.8C623.2 1112 620.9 1112.6 618.6 1113.7C616.3 1114.9 614 1116.3 611.7 1117.6C609.4 1118.9 607.1 1120.3 604.9 1121.5C602.6 1122.7 599.1 1124.4 598 1125Z" fill="url(#bd_gi)"/>
<path d="M598 1125C599.1 1124.4 602.6 1122.7 604.9 1121.5C607.1 1120.3 609.4 1118.9 611.7 1117.6C614 1116.3 616.3 1114.9 618.6 1113.7C620.9 1112.6 623.2 1112 625.4 1110.8C627.7 1109.7 631.2 1107.6 632.3 1107L632 1110.8C630.9 1111.3 627.5 1113 625.2 1114.1C622.9 1115.3 620.6 1116.3 618.4 1117.6C616.1 1118.9 613.8 1120.7 611.5 1122C609.3 1123.3 607 1124.4 604.7 1125.5C602.4 1126.7 599 1128.3 597.9 1128.9Z" fill="url(#bd_gi)"/>
<path d="M597.9 1128.9C599 1128.3 602.4 1126.7 604.7 1125.5C607 1124.4 609.3 1123.3 611.5 1122C613.8 1120.7 616.1 1118.9 618.4 1117.6C620.6 1116.3 622.9 1115.3 625.2 1114.1C627.5 1113 630.9 1111.3 632 1110.8L631.8 1114.5C630.6 1115.2 627.2 1117.4 625 1118.7C622.7 1119.9 620.4 1120.8 618.1 1121.9C615.9 1123 613.6 1124.2 611.3 1125.3C609.1 1126.4 606.8 1127.5 604.5 1128.7C602.3 1130 598.9 1132.1 597.7 1132.8Z" fill="url(#bd_gi)"/>
<path d="M597.7 1132.8C598.9 1132.1 602.3 1130 604.5 1128.7C606.8 1127.5 609.1 1126.4 611.3 1125.3C613.6 1124.2 615.9 1123 618.1 1121.9C620.4 1120.8 622.7 1119.9 625 1118.7C627.2 1117.4 630.6 1115.2 631.8 1114.5L631.5 1118.3C630.4 1119 627 1121.1 624.7 1122.2C622.4 1123.3 620.2 1123.9 617.9 1125.1C615.7 1126.2 613.4 1127.6 611.1 1129C608.9 1130.3 606.6 1131.9 604.4 1133.1C602.1 1134.4 598.7 1136.1 597.6 1136.7Z" fill="url(#bd_gi)"/>
<path d="M597.6 1136.7C598.7 1136.1 602.1 1134.4 604.4 1133.1C606.6 1131.9 608.9 1130.3 611.1 1129C613.4 1127.6 615.7 1126.2 617.9 1125.1C620.2 1123.9 622.4 1123.3 624.7 1122.2C627 1121.1 630.4 1119 631.5 1118.3L630.4 1133.4C629.3 1134 626 1135.9 623.7 1137.2C621.5 1138.4 619.3 1139.7 617.1 1140.9C614.8 1142.2 612.6 1143.4 610.4 1144.7C608.2 1145.9 605.9 1147.2 603.7 1148.4C601.5 1149.7 598.2 1151.6 597 1152.2Z" fill="#3dc04a"/>
</g>
<clipPath id="c5003"><polygon points="562,1040.2 634.2,1080.6 563.7,1115 493.2,1079.5"/></clipPath>
<g clip-path="url(#c5003)">
<polygon points="562,1040.2 634.2,1080.6 563.7,1115 493.2,1079.5" fill="#2fa53c"/>
<polygon points="562.3,1046.5 589.6,1061.7 563.2,1075.8 536.1,1061.3" fill="#248a31"/>
<clipPath id="c5004"><polygon points="562.3,1046.5 589.6,1061.7 563.2,1075.8 536.1,1061.3"/></clipPath>
<path clip-path="url(#c5004)" d="M536.1 1047.7L589.6 1047.7M536.1 1050.7L589.6 1050.7M536.1 1053.7L589.6 1053.7M536.1 1056.7L589.6 1056.7M536.1 1059.7L589.6 1059.7M536.1 1062.7L589.6 1062.7M536.1 1065.7L589.6 1065.7M536.1 1068.7L589.6 1068.7M536.1 1071.7L589.6 1071.7M536.1 1074.7L589.6 1074.7" stroke="#62e871" stroke-width="1.5" opacity="0.75"/>
<polygon points="595.4,1064.9 622.8,1080.2 596.1,1093.4 568.9,1078.9" fill="#248a31"/>
<clipPath id="c5005"><polygon points="595.4,1064.9 622.8,1080.2 596.1,1093.4 568.9,1078.9"/></clipPath>
<path clip-path="url(#c5005)" d="M568.9 1066.1L622.8 1066.1M568.9 1069.1L622.8 1069.1M568.9 1072.1L622.8 1072.1M568.9 1075.1L622.8 1075.1M568.9 1078.1L622.8 1078.1M568.9 1081.1L622.8 1081.1M568.9 1084.1L622.8 1084.1M568.9 1087.1L622.8 1087.1M568.9 1090.1L622.8 1090.1M568.9 1093.1L622.8 1093.1" stroke="#62e871" stroke-width="1.5" opacity="0.9"/>
<polygon points="530.6,1064.4 557.6,1078.8 531.2,1092.9 504.4,1079.2" fill="#248a31"/>
<clipPath id="c5006"><polygon points="530.6,1064.4 557.6,1078.8 531.2,1092.9 504.4,1079.2"/></clipPath>
<path clip-path="url(#c5006)" d="M504.4 1065.6L557.6 1065.6M504.4 1068.6L557.6 1068.6M504.4 1071.6L557.6 1071.6M504.4 1074.6L557.6 1074.6M504.4 1077.6L557.6 1077.6M504.4 1080.6L557.6 1080.6M504.4 1083.6L557.6 1083.6M504.4 1086.6L557.6 1086.6M504.4 1089.6L557.6 1089.6M504.4 1092.6L557.6 1092.6" stroke="#62e871" stroke-width="1.5" opacity="0.9"/>
<polygon points="563.3,1081.8 590.4,1096.2 563.7,1109.4 536.8,1095.7" fill="#248a31"/>
<clipPath id="c5007"><polygon points="563.3,1081.8 590.4,1096.2 563.7,1109.4 536.8,1095.7"/></clipPath>
<path clip-path="url(#c5007)" d="M536.8 1083L590.4 1083M536.8 1086L590.4 1086M536.8 1089L590.4 1089M536.8 1092L590.4 1092M536.8 1095L590.4 1095M536.8 1098L590.4 1098M536.8 1101L590.4 1101M536.8 1104L590.4 1104M536.8 1107L590.4 1107" stroke="#62e871" stroke-width="1.5" opacity="0.75"/>
<line x1="598.1" y1="1060.4" x2="528.5" y2="1097.2" stroke="#3dc04a" stroke-width="5"/>
<line x1="527.6" y1="1059.8" x2="599" y2="1097.8" stroke="#3dc04a" stroke-width="5"/>
<line x1="562" y1="1040.2" x2="634.2" y2="1080.6" stroke="#3dc04a" stroke-width="5"/>
<line x1="634.2" y1="1080.6" x2="563.7" y2="1115" stroke="#3dc04a" stroke-width="5"/>
<line x1="563.7" y1="1115" x2="493.2" y2="1079.5" stroke="#3dc04a" stroke-width="5"/>
<line x1="493.2" y1="1079.5" x2="562" y2="1040.2" stroke="#3dc04a" stroke-width="5"/>
</g>
<polyline points="563.7,1115 563.7,1171" fill="none" stroke="#1b7526" stroke-width="1.4" opacity="0.5"/>
</g><g filter="url(#bl1)">
<rect x="642.9" y="1039.2" width="131.9" height="132.9" fill="url(#bgc1)"/>
<clipPath id="c5008"><polygon points="644.5,1072 710.8,1111.8 709.7,1170 653.1,1127"/></clipPath>
<g clip-path="url(#c5008)">
<polygon points="644.5,1072 710.8,1111.8 709.7,1170 653.1,1127" fill="#46433a"/>
<path d="M644.5 1072C645.6 1072.7 648.9 1074.7 651.1 1076C653.3 1077.3 655.5 1078.6 657.8 1080C660 1081.3 662.2 1082.6 664.4 1083.9C666.6 1085.3 668.8 1086.6 671 1087.9C673.2 1089.2 676.5 1091.2 677.6 1091.9L678.1 1098.2C677 1097.5 673.7 1095.5 671.5 1094.1C669.4 1092.6 667.2 1090.8 665 1089.5C662.8 1088.2 660.7 1087.3 658.5 1086.2C656.3 1085.1 654.2 1084.2 652 1082.9C649.8 1081.5 646.5 1078.9 645.5 1078.1Z" fill="url(#bd_mi)"/>
<path d="M645.5 1078.1C646.5 1078.9 649.8 1081.5 652 1082.9C654.2 1084.2 656.3 1085.1 658.5 1086.2C660.7 1087.3 662.8 1088.2 665 1089.5C667.2 1090.8 669.4 1092.6 671.5 1094.1C673.7 1095.5 677 1097.5 678.1 1098.2L678.5 1104.5C677.4 1103.9 674.2 1102.1 672.1 1100.8C669.9 1099.6 667.8 1098.2 665.7 1096.8C663.5 1095.4 661.4 1094 659.2 1092.5C657.1 1090.9 655 1088.9 652.8 1087.6C650.7 1086.2 647.5 1084.8 646.4 1084.2Z" fill="url(#bd_mi)"/>
<path d="M646.4 1084.2C647.5 1084.8 650.7 1086.2 652.8 1087.6C655 1088.9 657.1 1090.9 659.2 1092.5C661.4 1094 663.5 1095.4 665.7 1096.8C667.8 1098.2 669.9 1099.6 672.1 1100.8C674.2 1102.1 677.4 1103.9 678.5 1104.5L678.9 1110.8C677.8 1110.2 674.7 1108.6 672.6 1107.3C670.5 1106 668.4 1104.4 666.3 1102.9C664.2 1101.4 662.1 1100.1 660 1098.5C657.9 1097 655.8 1095.1 653.7 1093.7C651.6 1092.3 648.4 1090.9 647.4 1090.3Z" fill="url(#bd_mi)"/>
<path d="M647.4 1090.3C648.4 1090.9 651.6 1092.3 653.7 1093.7C655.8 1095.1 657.9 1097 660 1098.5C662.1 1100.1 664.2 1101.4 666.3 1102.9C668.4 1104.4 670.5 1106 672.6 1107.3C674.7 1108.6 677.8 1110.2 678.9 1110.8L679.3 1117.1C678.3 1116.4 675.2 1114.7 673.1 1113.4C671.1 1112.1 669 1110.6 666.9 1109.1C664.9 1107.7 662.8 1106.2 660.7 1104.6C658.7 1103.1 656.6 1101.2 654.5 1099.8C652.5 1098.5 649.4 1097 648.3 1096.4Z" fill="url(#bd_mi)"/>
<path d="M648.3 1096.4C649.4 1097 652.5 1098.5 654.5 1099.8C656.6 1101.2 658.7 1103.1 660.7 1104.6C662.8 1106.2 664.9 1107.7 666.9 1109.1C669 1110.6 671.1 1112.1 673.1 1113.4C675.2 1114.7 678.3 1116.4 679.3 1117.1L679.7 1123.3C678.7 1122.6 675.7 1120.4 673.6 1119C671.6 1117.5 669.6 1116 667.6 1114.7C665.5 1113.4 663.5 1112.3 661.5 1111.1C659.4 1109.8 657.4 1108.5 655.4 1107.1C653.3 1105.7 650.3 1103.3 649.3 1102.6Z" fill="url(#bd_mi)"/>
<path d="M649.3 1102.6C650.3 1103.3 653.3 1105.7 655.4 1107.1C657.4 1108.5 659.4 1109.8 661.5 1111.1C663.5 1112.3 665.5 1113.4 667.6 1114.7C669.6 1116 671.6 1117.5 673.6 1119C675.7 1120.4 678.7 1122.6 679.7 1123.3L680.2 1129.6C679.2 1129 676.2 1127.1 674.2 1125.8C672.2 1124.5 670.2 1123.2 668.2 1121.8C666.2 1120.4 664.2 1119 662.2 1117.5C660.2 1115.9 658.2 1113.8 656.2 1112.3C654.2 1110.8 651.2 1109.3 650.2 1108.7Z" fill="url(#bd_mi)"/>
<path d="M650.2 1108.7C651.2 1109.3 654.2 1110.8 656.2 1112.3C658.2 1113.8 660.2 1115.9 662.2 1117.5C664.2 1119 666.2 1120.4 668.2 1121.8C670.2 1123.2 672.2 1124.5 674.2 1125.8C676.2 1127.1 679.2 1129 680.2 1129.6L680.6 1135.9C679.6 1135.2 676.6 1133 674.7 1131.7C672.7 1130.3 670.8 1129.1 668.8 1127.8C666.9 1126.5 664.9 1125.4 662.9 1123.9C661 1122.4 659 1120.5 657.1 1119C655.1 1117.5 652.2 1115.5 651.2 1114.8Z" fill="url(#bd_mi)"/>
<path d="M651.2 1114.8C652.2 1115.5 655.1 1117.5 657.1 1119C659 1120.5 661 1122.4 662.9 1123.9C664.9 1125.4 666.9 1126.5 668.8 1127.8C670.8 1129.1 672.7 1130.3 674.7 1131.7C676.6 1133 679.6 1135.2 680.6 1135.9L681 1142.2C680 1141.4 677.1 1138.7 675.2 1137.4C673.3 1136.1 671.4 1135.6 669.4 1134.3C667.5 1133 665.6 1131.4 663.7 1129.8C661.8 1128.3 659.8 1126.5 657.9 1125C656 1123.5 653.1 1121.6 652.1 1120.9Z" fill="url(#bd_mi)"/>
<path d="M652.1 1120.9C653.1 1121.6 656 1123.5 657.9 1125C659.8 1126.5 661.8 1128.3 663.7 1129.8C665.6 1131.4 667.5 1133 669.4 1134.3C671.4 1135.6 673.3 1136.1 675.2 1137.4C677.1 1138.7 680 1141.4 681 1142.2L681.4 1148.5C680.5 1147.8 677.6 1145.6 675.7 1144.2C673.9 1142.8 672 1141.3 670.1 1139.9C668.2 1138.5 666.3 1137 664.4 1135.6C662.5 1134.2 660.6 1132.7 658.8 1131.3C656.9 1129.9 654 1127.7 653.1 1127Z" fill="#7d7868"/>
<path d="M677.6 1091.9C678.8 1092.6 682.1 1094.6 684.3 1095.9C686.5 1097.2 688.7 1098.5 690.9 1099.9C693.1 1101.2 695.3 1102.5 697.5 1103.8C699.8 1105.2 702 1106.5 704.2 1107.8C706.4 1109.1 709.7 1111.1 710.8 1111.8L710.7 1118.3C709.6 1117.7 706.3 1116.1 704.2 1114.7C702 1113.4 699.8 1111.5 697.6 1110.1C695.5 1108.6 693.3 1107.2 691.1 1105.8C688.9 1104.5 686.8 1103.2 684.6 1102C682.4 1100.7 679.2 1098.8 678.1 1098.2Z" fill="url(#bd_mi)"/>
<path d="M678.1 1098.2C679.2 1098.8 682.4 1100.7 684.6 1102C686.8 1103.2 688.9 1104.5 691.1 1105.8C693.3 1107.2 695.5 1108.6 697.6 1110.1C699.8 1111.5 702 1113.4 704.2 1114.7C706.3 1116.1 709.6 1117.7 710.7 1118.3L710.6 1124.7C709.5 1124.2 706.3 1122.7 704.1 1121.3C702 1119.9 699.9 1117.9 697.7 1116.4C695.6 1114.9 693.5 1113.6 691.3 1112.2C689.2 1110.8 687 1109.2 684.9 1107.9C682.8 1106.6 679.6 1105 678.5 1104.5Z" fill="url(#bd_mi)"/>
<path d="M678.5 1104.5C679.6 1105 682.8 1106.6 684.9 1107.9C687 1109.2 689.2 1110.8 691.3 1112.2C693.5 1113.6 695.6 1114.9 697.7 1116.4C699.9 1117.9 702 1119.9 704.1 1121.3C706.3 1122.7 709.5 1124.2 710.6 1124.7L710.4 1131.2C709.4 1130.6 706.2 1128.8 704.1 1127.5C702 1126.3 699.9 1125.2 697.8 1123.7C695.7 1122.2 693.6 1120.1 691.5 1118.6C689.4 1117.1 687.3 1115.8 685.2 1114.5C683.1 1113.2 680 1111.4 678.9 1110.8Z" fill="url(#bd_mi)"/>
<path d="M678.9 1110.8C680 1111.4 683.1 1113.2 685.2 1114.5C687.3 1115.8 689.4 1117.1 691.5 1118.6C693.6 1120.1 695.7 1122.2 697.8 1123.7C699.9 1125.2 702 1126.3 704.1 1127.5C706.2 1128.8 709.4 1130.6 710.4 1131.2L710.3 1137.7C709.3 1137 706.2 1135.3 704.1 1134C702 1132.6 700 1131 697.9 1129.4C695.8 1127.9 693.8 1126.1 691.7 1124.7C689.6 1123.3 687.6 1122.4 685.5 1121.1C683.4 1119.9 680.3 1117.7 679.3 1117.1Z" fill="url(#bd_mi)"/>
<path d="M679.3 1117.1C680.3 1117.7 683.4 1119.9 685.5 1121.1C687.6 1122.4 689.6 1123.3 691.7 1124.7C693.8 1126.1 695.8 1127.9 697.9 1129.4C700 1131 702 1132.6 704.1 1134C706.2 1135.3 709.3 1137 710.3 1137.7L710.2 1144.1C709.2 1143.5 706.1 1142.1 704.1 1140.6C702.1 1139.1 700 1136.7 698 1135.1C696 1133.6 693.9 1132.7 691.9 1131.4C689.9 1130.2 687.9 1129.1 685.8 1127.8C683.8 1126.4 680.7 1124.1 679.7 1123.3Z" fill="url(#bd_mi)"/>
<path d="M679.7 1123.3C680.7 1124.1 683.8 1126.4 685.8 1127.8C687.9 1129.1 689.9 1130.2 691.9 1131.4C693.9 1132.7 696 1133.6 698 1135.1C700 1136.7 702.1 1139.1 704.1 1140.6C706.1 1142.1 709.2 1143.5 710.2 1144.1L710.1 1150.6C709.1 1149.8 706.1 1147.3 704.1 1146C702.1 1144.6 700.1 1143.9 698.1 1142.7C696.1 1141.5 694.1 1140.3 692.1 1138.7C690.1 1137.2 688.1 1135.1 686.1 1133.6C684.1 1132.1 681.1 1130.3 680.2 1129.6Z" fill="url(#bd_mi)"/>
<path d="M680.2 1129.6C681.1 1130.3 684.1 1132.1 686.1 1133.6C688.1 1135.1 690.1 1137.2 692.1 1138.7C694.1 1140.3 696.1 1141.5 698.1 1142.7C700.1 1143.9 702.1 1144.6 704.1 1146C706.1 1147.3 709.1 1149.8 710.1 1150.6L709.9 1157.1C709 1156.2 706 1153.5 704.1 1152.1C702.1 1150.7 700.2 1149.9 698.2 1148.7C696.2 1147.5 694.3 1146.3 692.3 1144.9C690.4 1143.5 688.4 1141.8 686.4 1140.3C684.5 1138.8 681.5 1136.6 680.6 1135.9Z" fill="url(#bd_mi)"/>
<path d="M680.6 1135.9C681.5 1136.6 684.5 1138.8 686.4 1140.3C688.4 1141.8 690.4 1143.5 692.3 1144.9C694.3 1146.3 696.2 1147.5 698.2 1148.7C700.2 1149.9 702.1 1150.7 704.1 1152.1C706 1153.5 709 1156.2 709.9 1157.1L709.8 1163.5C708.9 1162.9 706 1160.8 704.1 1159.5C702.1 1158.2 700.2 1157.3 698.3 1155.7C696.4 1154.1 694.4 1151.4 692.5 1149.9C690.6 1148.3 688.7 1147.7 686.8 1146.4C684.8 1145.1 681.9 1142.9 681 1142.2Z" fill="url(#bd_mi)"/>
<path d="M681 1142.2C681.9 1142.9 684.8 1145.1 686.8 1146.4C688.7 1147.7 690.6 1148.3 692.5 1149.9C694.4 1151.4 696.4 1154.1 698.3 1155.7C700.2 1157.3 702.1 1158.2 704.1 1159.5C706 1160.8 708.9 1162.9 709.8 1163.5L709.7 1170C708.8 1169.3 705.9 1167.1 704 1165.7C702.2 1164.3 700.3 1162.8 698.4 1161.4C696.5 1160 694.6 1158.5 692.7 1157.1C690.8 1155.7 688.9 1154.2 687.1 1152.8C685.2 1151.4 682.3 1149.2 681.4 1148.5Z" fill="#7d7868"/>
<polygon points="644.5,1072 710.8,1111.8 709.7,1170 653.1,1127" fill="#24221d" opacity="0.18"/>
</g>
<clipPath id="c5009"><polygon points="710.8,1111.8 773.2,1073 764.6,1124.8 709.7,1170"/></clipPath>
<g clip-path="url(#c5009)">
<polygon points="710.8,1111.8 773.2,1073 764.6,1124.8 709.7,1170" fill="#46433a"/>
<path d="M710.8 1111.8C711.8 1111.2 715 1109.2 717 1107.9C719.1 1106.6 721.2 1105.3 723.3 1104C725.4 1102.7 727.4 1101.5 729.5 1100.2C731.6 1098.9 733.7 1097.6 735.8 1096.3C737.8 1095 741 1093 742 1092.4L741.5 1098.5C740.4 1099 737.4 1100.4 735.3 1101.7C733.3 1103.1 731.2 1105.1 729.1 1106.6C727.1 1108.2 725 1109.9 723 1111.1C720.9 1112.3 718.9 1112.8 716.8 1113.9C714.8 1115.1 711.7 1117.5 710.7 1118.3Z" fill="url(#bd_mi)"/>
<path d="M710.7 1118.3C711.7 1117.5 714.8 1115.1 716.8 1113.9C718.9 1112.8 720.9 1112.3 723 1111.1C725 1109.9 727.1 1108.2 729.1 1106.6C731.2 1105.1 733.3 1103.1 735.3 1101.7C737.4 1100.4 740.4 1099 741.5 1098.5L740.9 1104.6C739.9 1105.2 736.9 1107.1 734.8 1108.3C732.8 1109.5 730.8 1110.6 728.8 1112C726.8 1113.4 724.7 1115 722.7 1116.6C720.7 1118.1 718.7 1119.9 716.6 1121.2C714.6 1122.6 711.6 1124.2 710.6 1124.7Z" fill="url(#bd_mi)"/>
<path d="M710.6 1124.7C711.6 1124.2 714.6 1122.6 716.6 1121.2C718.7 1119.9 720.7 1118.1 722.7 1116.6C724.7 1115 726.8 1113.4 728.8 1112C730.8 1110.6 732.8 1109.5 734.8 1108.3C736.9 1107.1 739.9 1105.2 740.9 1104.6L740.4 1110.7C739.4 1111.5 736.4 1113.7 734.4 1115.2C732.4 1116.6 730.4 1118 728.4 1119.4C726.4 1120.8 724.4 1122.2 722.4 1123.4C720.4 1124.7 718.4 1125.6 716.4 1126.9C714.4 1128.2 711.4 1130.5 710.4 1131.2Z" fill="url(#bd_mi)"/>
<path d="M710.4 1131.2C711.4 1130.5 714.4 1128.2 716.4 1126.9C718.4 1125.6 720.4 1124.7 722.4 1123.4C724.4 1122.2 726.4 1120.8 728.4 1119.4C730.4 1118 732.4 1116.6 734.4 1115.2C736.4 1113.7 739.4 1111.5 740.4 1110.7L739.8 1116.8C738.9 1117.6 735.9 1120.3 733.9 1121.7C732 1123 730 1123.6 728 1124.8C726.1 1126 724.1 1127.2 722.1 1128.7C720.2 1130.1 718.2 1132 716.2 1133.5C714.2 1135 711.3 1137 710.3 1137.7Z" fill="url(#bd_mi)"/>
<path d="M710.3 1137.7C711.3 1137 714.2 1135 716.2 1133.5C718.2 1132 720.2 1130.1 722.1 1128.7C724.1 1127.2 726.1 1126 728 1124.8C730 1123.6 732 1123 733.9 1121.7C735.9 1120.3 738.9 1117.6 739.8 1116.8L739.3 1123C738.3 1123.6 735.4 1125.2 733.5 1126.6C731.5 1128.1 729.6 1129.8 727.7 1131.4C725.7 1133 723.8 1134.6 721.8 1136C719.9 1137.5 718 1138.7 716 1140.1C714.1 1141.4 711.2 1143.5 710.2 1144.1Z" fill="url(#bd_mi)"/>
<path d="M710.2 1144.1C711.2 1143.5 714.1 1141.4 716 1140.1C718 1138.7 719.9 1137.5 721.8 1136C723.8 1134.6 725.7 1133 727.7 1131.4C729.6 1129.8 731.5 1128.1 733.5 1126.6C735.4 1125.2 738.3 1123.6 739.3 1123L738.8 1129.1C737.8 1129.8 734.9 1132.3 733 1133.5C731.1 1134.8 729.2 1135.2 727.3 1136.7C725.4 1138.2 723.5 1140.8 721.5 1142.5C719.6 1144.1 717.7 1145.3 715.8 1146.6C713.9 1148 711 1149.9 710.1 1150.6Z" fill="url(#bd_mi)"/>
<path d="M710.1 1150.6C711 1149.9 713.9 1148 715.8 1146.6C717.7 1145.3 719.6 1144.1 721.5 1142.5C723.5 1140.8 725.4 1138.2 727.3 1136.7C729.2 1135.2 731.1 1134.8 733 1133.5C734.9 1132.3 737.8 1129.8 738.8 1129.1L738.2 1135.2C737.3 1135.9 734.5 1137.8 732.6 1139.4C730.7 1141 728.8 1143.4 726.9 1144.8C725 1146.2 723.1 1146.6 721.3 1147.8C719.4 1149.1 717.5 1150.8 715.6 1152.3C713.7 1153.9 710.9 1156.3 709.9 1157.1Z" fill="url(#bd_mi)"/>
<path d="M709.9 1157.1C710.9 1156.3 713.7 1153.9 715.6 1152.3C717.5 1150.8 719.4 1149.1 721.3 1147.8C723.1 1146.6 725 1146.2 726.9 1144.8C728.8 1143.4 730.7 1141 732.6 1139.4C734.5 1137.8 737.3 1135.9 738.2 1135.2L737.7 1141.3C736.8 1142.1 734 1144.7 732.1 1146.1C730.3 1147.4 728.4 1148 726.5 1149.3C724.7 1150.7 722.8 1152.8 721 1154.4C719.1 1156 717.3 1157.5 715.4 1159C713.5 1160.6 710.8 1162.8 709.8 1163.5Z" fill="url(#bd_mi)"/>
<path d="M709.8 1163.5C710.8 1162.8 713.5 1160.6 715.4 1159C717.3 1157.5 719.1 1156 721 1154.4C722.8 1152.8 724.7 1150.7 726.5 1149.3C728.4 1148 730.3 1147.4 732.1 1146.1C734 1144.7 736.8 1142.1 737.7 1141.3L737.2 1147.4C736.2 1148.2 733.5 1150.4 731.7 1151.9C729.8 1153.4 728 1154.9 726.2 1156.4C724.3 1157.9 722.5 1159.5 720.7 1161C718.9 1162.5 717 1164 715.2 1165.5C713.4 1167 710.6 1169.2 709.7 1170Z" fill="#9a9584"/>
<path d="M742 1092.4C743 1091.8 746.2 1089.8 748.2 1088.5C750.3 1087.2 752.4 1085.9 754.5 1084.6C756.6 1083.3 758.6 1082.1 760.7 1080.8C762.8 1079.5 764.9 1078.2 767 1076.9C769 1075.6 772.2 1073.6 773.2 1073L772.2 1078.8C771.2 1079.5 768.1 1081.9 766.1 1083.3C764 1084.6 762 1085.7 759.9 1086.8C757.9 1087.9 755.8 1088.4 753.8 1089.7C751.7 1091.1 749.7 1093.5 747.6 1094.9C745.6 1096.4 742.5 1097.9 741.5 1098.5Z" fill="url(#bd_mi)"/>
<path d="M741.5 1098.5C742.5 1097.9 745.6 1096.4 747.6 1094.9C749.7 1093.5 751.7 1091.1 753.8 1089.7C755.8 1088.4 757.9 1087.9 759.9 1086.8C762 1085.7 764 1084.6 766.1 1083.3C768.1 1081.9 771.2 1079.5 772.2 1078.8L771.3 1084.5C770.3 1085.1 767.2 1087.1 765.2 1088.3C763.2 1089.5 761.2 1090.5 759.1 1091.9C757.1 1093.3 755.1 1095.1 753.1 1096.7C751 1098.2 749 1099.8 747 1101.2C745 1102.5 741.9 1104 740.9 1104.6Z" fill="url(#bd_mi)"/>
<path d="M740.9 1104.6C741.9 1104 745 1102.5 747 1101.2C749 1099.8 751 1098.2 753.1 1096.7C755.1 1095.1 757.1 1093.3 759.1 1091.9C761.2 1090.5 763.2 1089.5 765.2 1088.3C767.2 1087.1 770.3 1085.1 771.3 1084.5L770.3 1090.3C769.3 1091 766.3 1093.5 764.3 1094.7C762.3 1095.9 760.4 1096.2 758.4 1097.5C756.4 1098.8 754.4 1101.1 752.4 1102.7C750.4 1104.3 748.4 1105.9 746.4 1107.2C744.4 1108.5 741.4 1110.1 740.4 1110.7Z" fill="url(#bd_mi)"/>
<path d="M740.4 1110.7C741.4 1110.1 744.4 1108.5 746.4 1107.2C748.4 1105.9 750.4 1104.3 752.4 1102.7C754.4 1101.1 756.4 1098.8 758.4 1097.5C760.4 1096.2 762.3 1095.9 764.3 1094.7C766.3 1093.5 769.3 1091 770.3 1090.3L769.4 1096C768.4 1096.8 765.4 1099.5 763.5 1100.9C761.5 1102.2 759.5 1103.1 757.6 1104.2C755.6 1105.4 753.6 1106.5 751.7 1107.9C749.7 1109.2 747.7 1110.9 745.8 1112.4C743.8 1113.9 740.8 1116.1 739.8 1116.8Z" fill="url(#bd_mi)"/>
<path d="M739.8 1116.8C740.8 1116.1 743.8 1113.9 745.8 1112.4C747.7 1110.9 749.7 1109.2 751.7 1107.9C753.6 1106.5 755.6 1105.4 757.6 1104.2C759.5 1103.1 761.5 1102.2 763.5 1100.9C765.4 1099.5 768.4 1096.8 769.4 1096L768.4 1101.8C767.5 1102.5 764.5 1104.8 762.6 1106.4C760.7 1107.9 758.7 1109.7 756.8 1111C754.8 1112.4 752.9 1113.3 751 1114.5C749 1115.8 747.1 1117.1 745.1 1118.5C743.2 1119.9 740.3 1122.2 739.3 1123Z" fill="url(#bd_mi)"/>
<path d="M739.3 1123C740.3 1122.2 743.2 1119.9 745.1 1118.5C747.1 1117.1 749 1115.8 751 1114.5C752.9 1113.3 754.8 1112.4 756.8 1111C758.7 1109.7 760.7 1107.9 762.6 1106.4C764.5 1104.8 767.5 1102.5 768.4 1101.8L767.5 1107.5C766.5 1108.3 763.6 1111 761.7 1112.3C759.8 1113.7 757.9 1114.4 756 1115.7C754.1 1116.9 752.2 1118.2 750.2 1119.8C748.3 1121.4 746.4 1123.8 744.5 1125.3C742.6 1126.8 739.7 1128.4 738.8 1129.1Z" fill="url(#bd_mi)"/>
<path d="M738.8 1129.1C739.7 1128.4 742.6 1126.8 744.5 1125.3C746.4 1123.8 748.3 1121.4 750.2 1119.8C752.2 1118.2 754.1 1116.9 756 1115.7C757.9 1114.4 759.8 1113.7 761.7 1112.3C763.6 1111 766.5 1108.3 767.5 1107.5L766.5 1113.3C765.6 1114.1 762.7 1116.5 760.9 1117.9C759 1119.3 757.1 1120.5 755.2 1121.8C753.3 1123.1 751.4 1124 749.5 1125.6C747.7 1127.2 745.8 1129.6 743.9 1131.2C742 1132.8 739.2 1134.5 738.2 1135.2Z" fill="url(#bd_mi)"/>
<path d="M738.2 1135.2C739.2 1134.5 742 1132.8 743.9 1131.2C745.8 1129.6 747.7 1127.2 749.5 1125.6C751.4 1124 753.3 1123.1 755.2 1121.8C757.1 1120.5 759 1119.3 760.9 1117.9C762.7 1116.5 765.6 1114.1 766.5 1113.3L765.6 1119C764.6 1119.8 761.8 1121.8 760 1123.4C758.1 1124.9 756.3 1126.9 754.4 1128.4C752.6 1130 750.7 1131.2 748.8 1132.5C747 1133.8 745.1 1134.7 743.3 1136.2C741.4 1137.6 738.6 1140.4 737.7 1141.3Z" fill="url(#bd_mi)"/>
<path d="M737.7 1141.3C738.6 1140.4 741.4 1137.6 743.3 1136.2C745.1 1134.7 747 1133.8 748.8 1132.5C750.7 1131.2 752.6 1130 754.4 1128.4C756.3 1126.9 758.1 1124.9 760 1123.4C761.8 1121.8 764.6 1119.8 765.6 1119L764.6 1124.8C763.7 1125.6 760.9 1127.8 759.1 1129.3C757.3 1130.8 755.5 1132.3 753.6 1133.8C751.8 1135.3 750 1136.9 748.1 1138.4C746.3 1139.9 744.5 1141.4 742.6 1142.9C740.8 1144.4 738.1 1146.6 737.2 1147.4Z" fill="#9a9584"/>
</g>
<clipPath id="c5010"><polygon points="705.4,1040.2 773.2,1073 710.8,1111.8 644.5,1072"/></clipPath>
<g clip-path="url(#c5010)">
<polygon points="705.4,1040.2 773.2,1073 710.8,1111.8 644.5,1072" fill="#7d7868"/>
<polygon points="705.9,1045.4 731.7,1058.1 708.3,1071.4 682.8,1057.7" fill="#24221d"/>
<clipPath id="c5011"><polygon points="705.9,1045.4 731.7,1058.1 708.3,1071.4 682.8,1057.7"/></clipPath>
<path clip-path="url(#c5011)" d="M682.8 1046.6L731.7 1046.6M682.8 1049.6L731.7 1049.6M682.8 1052.6L731.7 1052.6M682.8 1055.6L731.7 1055.6M682.8 1058.6L731.7 1058.6M682.8 1061.6L731.7 1061.6M682.8 1064.6L731.7 1064.6M682.8 1067.6L731.7 1067.6M682.8 1070.6L731.7 1070.6" stroke="#b3ab91" stroke-width="1.5" opacity="0.75"/>
<polygon points="737.1,1060.8 762.8,1073.4 739.1,1088 713.6,1074.3" fill="#24221d"/>
<clipPath id="c5012"><polygon points="737.1,1060.8 762.8,1073.4 739.1,1088 713.6,1074.3"/></clipPath>
<path clip-path="url(#c5012)" d="M713.6 1062L762.8 1062M713.6 1065L762.8 1065M713.6 1068L762.8 1068M713.6 1071L762.8 1071M713.6 1074L762.8 1074M713.6 1077L762.8 1077M713.6 1080L762.8 1080M713.6 1083L762.8 1083M713.6 1086L762.8 1086" stroke="#b3ab91" stroke-width="1.5" opacity="0.9"/>
<polygon points="677.9,1060.3 703.3,1074.2 679.9,1087.5 654.7,1072.6" fill="#24221d"/>
<clipPath id="c5013"><polygon points="677.9,1060.3 703.3,1074.2 679.9,1087.5 654.7,1072.6"/></clipPath>
<path clip-path="url(#c5013)" d="M654.7 1061.5L703.3 1061.5M654.7 1064.5L703.3 1064.5M654.7 1067.5L703.3 1067.5M654.7 1070.5L703.3 1070.5M654.7 1073.5L703.3 1073.5M654.7 1076.5L703.3 1076.5M654.7 1079.5L703.3 1079.5M654.7 1082.5L703.3 1082.5M654.7 1085.5L703.3 1085.5" stroke="#b3ab91" stroke-width="1.5" opacity="0.9"/>
<polygon points="708.7,1077.1 734.1,1091 710.5,1105.6 685.2,1090.6" fill="#24221d"/>
<clipPath id="c5014"><polygon points="708.7,1077.1 734.1,1091 710.5,1105.6 685.2,1090.6"/></clipPath>
<path clip-path="url(#c5014)" d="M685.2 1078.3L734.1 1078.3M685.2 1081.3L734.1 1081.3M685.2 1084.3L734.1 1084.3M685.2 1087.3L734.1 1087.3M685.2 1090.3L734.1 1090.3M685.2 1093.3L734.1 1093.3M685.2 1096.3L734.1 1096.3M685.2 1099.3L734.1 1099.3M685.2 1102.3L734.1 1102.3M685.2 1105.3L734.1 1105.3" stroke="#b3ab91" stroke-width="1.5" opacity="0.75"/>
<line x1="739.3" y1="1056.6" x2="677.6" y2="1091.9" stroke="#9a9584" stroke-width="5"/>
<line x1="675" y1="1056.1" x2="742" y2="1092.4" stroke="#9a9584" stroke-width="5"/>
<line x1="705.4" y1="1040.2" x2="773.2" y2="1073" stroke="#9a9584" stroke-width="5"/>
<line x1="773.2" y1="1073" x2="710.8" y2="1111.8" stroke="#9a9584" stroke-width="5"/>
<line x1="710.8" y1="1111.8" x2="644.5" y2="1072" stroke="#9a9584" stroke-width="5"/>
<line x1="644.5" y1="1072" x2="705.4" y2="1040.2" stroke="#9a9584" stroke-width="5"/>
</g>
<polyline points="710.8,1111.8 709.7,1170" fill="none" stroke="#46433a" stroke-width="1.4" opacity="0.5"/>
</g>
<rect x="116.5" y="708.3" width="701.8" height="565.5" fill="none" stroke="#000" stroke-width="2.5"/>
<text x="108.2" y="1280" font-size="24" text-anchor="end">0</text>
<line x1="116.5" y1="1252.05" x2="119.5" y2="1252.05" stroke="#000" stroke-width="2.4"/>
<line x1="116.5" y1="1230.3" x2="122.7" y2="1230.3" stroke="#000" stroke-width="2.4"/>
<text x="108.2" y="1236.5" font-size="24" text-anchor="end">10</text>
<line x1="116.5" y1="1208.55" x2="119.5" y2="1208.55" stroke="#000" stroke-width="2.4"/>
<line x1="116.5" y1="1186.8" x2="122.7" y2="1186.8" stroke="#000" stroke-width="2.4"/>
<text x="108.2" y="1193" font-size="24" text-anchor="end">20</text>
<line x1="116.5" y1="1165.05" x2="119.5" y2="1165.05" stroke="#000" stroke-width="2.4"/>
<line x1="116.5" y1="1143.3" x2="122.7" y2="1143.3" stroke="#000" stroke-width="2.4"/>
<text x="108.2" y="1149.5" font-size="24" text-anchor="end">30</text>
<line x1="116.5" y1="1121.55" x2="119.5" y2="1121.55" stroke="#000" stroke-width="2.4"/>
<line x1="116.5" y1="1099.8" x2="122.7" y2="1099.8" stroke="#000" stroke-width="2.4"/>
<text x="108.2" y="1106" font-size="24" text-anchor="end">40</text>
<line x1="116.5" y1="1078.05" x2="119.5" y2="1078.05" stroke="#000" stroke-width="2.4"/>
<line x1="116.5" y1="1056.3" x2="122.7" y2="1056.3" stroke="#000" stroke-width="2.4"/>
<text x="108.2" y="1062.5" font-size="24" text-anchor="end">50</text>
<line x1="116.5" y1="1034.55" x2="119.5" y2="1034.55" stroke="#000" stroke-width="2.4"/>
<line x1="116.5" y1="1012.8" x2="122.7" y2="1012.8" stroke="#000" stroke-width="2.4"/>
<text x="108.2" y="1019" font-size="24" text-anchor="end">60</text>
<line x1="116.5" y1="991.05" x2="119.5" y2="991.05" stroke="#000" stroke-width="2.4"/>
<line x1="116.5" y1="969.3" x2="122.7" y2="969.3" stroke="#000" stroke-width="2.4"/>
<text x="108.2" y="975.5" font-size="24" text-anchor="end">70</text>
<line x1="116.5" y1="947.55" x2="119.5" y2="947.55" stroke="#000" stroke-width="2.4"/>
<line x1="116.5" y1="925.8" x2="122.7" y2="925.8" stroke="#000" stroke-width="2.4"/>
<text x="108.2" y="932" font-size="24" text-anchor="end">80</text>
<line x1="116.5" y1="904.05" x2="119.5" y2="904.05" stroke="#000" stroke-width="2.4"/>
<line x1="116.5" y1="882.3" x2="122.7" y2="882.3" stroke="#000" stroke-width="2.4"/>
<text x="108.2" y="888.5" font-size="24" text-anchor="end">90</text>
<line x1="116.5" y1="860.55" x2="119.5" y2="860.55" stroke="#000" stroke-width="2.4"/>
<line x1="116.5" y1="838.8" x2="122.7" y2="838.8" stroke="#000" stroke-width="2.4"/>
<text x="108.2" y="845" font-size="24" text-anchor="end">100</text>
<line x1="116.5" y1="817.05" x2="119.5" y2="817.05" stroke="#000" stroke-width="2.4"/>
<line x1="116.5" y1="795.3" x2="122.7" y2="795.3" stroke="#000" stroke-width="2.4"/>
<text x="108.2" y="801.5" font-size="24" text-anchor="end">110</text>
<line x1="116.5" y1="773.55" x2="119.5" y2="773.55" stroke="#000" stroke-width="2.4"/>
<line x1="116.5" y1="751.8" x2="122.7" y2="751.8" stroke="#000" stroke-width="2.4"/>
<text x="108.2" y="758" font-size="24" text-anchor="end">120</text>
<line x1="116.5" y1="730.05" x2="119.5" y2="730.05" stroke="#000" stroke-width="2.4"/>
<text x="108.2" y="714.5" font-size="24" text-anchor="end">130</text>
<text x="116.5" y="1298.8" font-size="24" text-anchor="middle">0</text>
<line x1="177.53" y1="1273.8" x2="177.53" y2="1265.6" stroke="#000" stroke-width="2.4"/>
<text x="177.53" y="1298.8" font-size="24" text-anchor="middle">10</text>
<line x1="238.55" y1="1273.8" x2="238.55" y2="1265.6" stroke="#000" stroke-width="2.4"/>
<text x="238.55" y="1298.8" font-size="24" text-anchor="middle">20</text>
<line x1="299.58" y1="1273.8" x2="299.58" y2="1265.6" stroke="#000" stroke-width="2.4"/>
<text x="299.58" y="1298.8" font-size="24" text-anchor="middle">30</text>
<line x1="360.6" y1="1273.8" x2="360.6" y2="1265.6" stroke="#000" stroke-width="2.4"/>
<text x="360.6" y="1298.8" font-size="24" text-anchor="middle">40</text>
<line x1="421.63" y1="1273.8" x2="421.63" y2="1265.6" stroke="#000" stroke-width="2.4"/>
<text x="421.63" y="1298.8" font-size="24" text-anchor="middle">50</text>
<line x1="482.66" y1="1273.8" x2="482.66" y2="1265.6" stroke="#000" stroke-width="2.4"/>
<text x="482.66" y="1298.8" font-size="24" text-anchor="middle">60</text>
<line x1="543.68" y1="1273.8" x2="543.68" y2="1265.6" stroke="#000" stroke-width="2.4"/>
<text x="543.68" y="1298.8" font-size="24" text-anchor="middle">70</text>
<line x1="604.71" y1="1273.8" x2="604.71" y2="1265.6" stroke="#000" stroke-width="2.4"/>
<text x="604.71" y="1298.8" font-size="24" text-anchor="middle">80</text>
<line x1="665.73" y1="1273.8" x2="665.73" y2="1265.6" stroke="#000" stroke-width="2.4"/>
<text x="665.73" y="1298.8" font-size="24" text-anchor="middle">90</text>
<line x1="726.76" y1="1273.8" x2="726.76" y2="1265.6" stroke="#000" stroke-width="2.4"/>
<text x="726.76" y="1298.8" font-size="24" text-anchor="middle">100</text>
<line x1="787.79" y1="1273.8" x2="787.79" y2="1265.6" stroke="#000" stroke-width="2.4"/>
<text x="787.79" y="1298.8" font-size="24" text-anchor="middle">110</text>
<path fill="none" stroke="#0000ff" stroke-width="1.55" d="M116.5 1273.8L122.42 1105.3M122.76 1094.7L128.55 897.8M129.24 887.23L134.27 837.87M136.06 827.45L139.65 812.75M141.61 802.35L146.31 767.25M153.34 772.7L159 908.82M160.07 919.35L164.47 946.57M165.87 946.53L170.87 898.75M172.44 888.28L176.51 867.38M178.81 867.31L182.34 881.38M184.98 891.65L188.38 904.58M204.22 902.03L205.75 898.84M210.51 889.37L211.67 887.15M216.1 887.39L218.28 892.85M221.71 902.86L224.88 913.89M234.53 910.05L236.47 905.54M240.81 895.87L242.4 892.48M247.18 883.02L248.23 881.09M253.5 880.97L254.12 881.99M259.39 891.18L260.43 893.11M272.03 898.71L272.2 898.45M283.88 895.42L284.76 896.98M307.91 897.94L309.56 894.38M319.73 895.69L322.15 902.22M332.56 907.48L333.73 905.27M357.36 888L357.74 888.58M381.38 886.03L382.55 883.82M387.34 883.89L388.8 886.89M430.3 893.62L431.27 891.88M442.73 894.07L443.25 894.91M454.61 896.47L455.78 894.26M466.51 894.64L468.29 898.64M478.95 904.78L480.26 902.18M497.43 890.73L498.4 888.98M509.7 884.04L510.54 882.57M516.08 882.4L516.36 882.82M521.74 891.94L522.91 894.15M534.24 907.07L534.81 908M540.54 908.13L540.72 907.87M564.73 898.02L565.35 897M595.18 905.15L595.93 906.44M624.88 899.68L627.25 893.37M631.18 883.52L633.16 878.8M643.89 882.03L644.86 883.77M697.66 902.34L700.94 890.53M705.07 880.87L705.73 879.77M747.06 897.52L749.18 902.77M754.08 912.11L754.36 912.53M765.9 903.6L766.95 901.67M772.2 892.47L772.86 891.36M777.96 882.07L779.31 879.38"/>
<g fill="url(#mb)">
<circle cx="122.6" cy="1100" r="3.75"/>
<circle cx="128.71" cy="892.5" r="3.75"/>
<circle cx="134.81" cy="832.6" r="3.75"/>
<circle cx="140.91" cy="807.6" r="3.75"/>
<circle cx="147.01" cy="762" r="3.75"/>
<circle cx="153.12" cy="767.4" r="3.75"/>
<circle cx="159.22" cy="914.12" r="3.75"/>
<circle cx="165.32" cy="951.8" r="3.75"/>
<circle cx="171.42" cy="893.48" r="3.75"/>
<circle cx="177.53" cy="862.17" r="3.75"/>
<circle cx="183.63" cy="886.52" r="3.75"/>
<circle cx="189.73" cy="909.71" r="3.75"/>
<circle cx="195.83" cy="912.61" r="3.75"/>
<circle cx="201.94" cy="906.81" r="3.75"/>
<circle cx="208.04" cy="894.06" r="3.75"/>
<circle cx="214.14" cy="882.46" r="3.75"/>
<circle cx="220.24" cy="897.77" r="3.75"/>
<circle cx="226.35" cy="918.99" r="3.75"/>
<circle cx="232.45" cy="914.93" r="3.75"/>
<circle cx="238.55" cy="900.67" r="3.75"/>
<circle cx="244.65" cy="887.68" r="3.75"/>
<circle cx="250.76" cy="876.43" r="3.75"/>
<circle cx="256.86" cy="886.52" r="3.75"/>
<circle cx="262.96" cy="897.77" r="3.75"/>
<circle cx="269.07" cy="903.1" r="3.75"/>
<circle cx="275.17" cy="894.06" r="3.75"/>
<circle cx="281.27" cy="890.81" r="3.75"/>
<circle cx="287.37" cy="901.59" r="3.75"/>
<circle cx="293.48" cy="906.81" r="3.75"/>
<circle cx="299.58" cy="905.07" r="3.75"/>
<circle cx="305.68" cy="902.75" r="3.75"/>
<circle cx="311.78" cy="889.57" r="3.75"/>
<circle cx="317.89" cy="890.72" r="3.75"/>
<circle cx="323.99" cy="907.19" r="3.75"/>
<circle cx="330.09" cy="912.17" r="3.75"/>
<circle cx="336.19" cy="900.58" r="3.75"/>
<circle cx="342.3" cy="893.04" r="3.75"/>
<circle cx="348.4" cy="886.67" r="3.75"/>
<circle cx="354.5" cy="883.54" r="3.75"/>
<circle cx="360.6" cy="893.04" r="3.75"/>
<circle cx="366.71" cy="893.62" r="3.75"/>
<circle cx="372.81" cy="893.62" r="3.75"/>
<circle cx="378.91" cy="890.72" r="3.75"/>
<circle cx="385.01" cy="879.13" r="3.75"/>
<circle cx="391.12" cy="891.65" r="3.75"/>
<circle cx="397.22" cy="894.2" r="3.75"/>
<circle cx="403.32" cy="886.32" r="3.75"/>
<circle cx="409.43" cy="888.41" r="3.75"/>
<circle cx="415.53" cy="891.3" r="3.75"/>
<circle cx="421.63" cy="895.94" r="3.75"/>
<circle cx="427.73" cy="898.26" r="3.75"/>
<circle cx="433.84" cy="887.25" r="3.75"/>
<circle cx="439.94" cy="889.57" r="3.75"/>
<circle cx="446.04" cy="899.42" r="3.75"/>
<circle cx="452.14" cy="901.16" r="3.75"/>
<circle cx="458.25" cy="889.57" r="3.75"/>
<circle cx="464.35" cy="889.8" r="3.75"/>
<circle cx="470.45" cy="903.48" r="3.75"/>
<circle cx="476.55" cy="909.51" r="3.75"/>
<circle cx="482.66" cy="897.45" r="3.75"/>
<circle cx="488.76" cy="901.16" r="3.75"/>
<circle cx="494.86" cy="895.36" r="3.75"/>
<circle cx="500.96" cy="884.35" r="3.75"/>
<circle cx="507.07" cy="888.64" r="3.75"/>
<circle cx="513.17" cy="877.97" r="3.75"/>
<circle cx="519.27" cy="887.25" r="3.75"/>
<circle cx="525.37" cy="898.84" r="3.75"/>
<circle cx="531.48" cy="902.55" r="3.75"/>
<circle cx="537.58" cy="912.52" r="3.75"/>
<circle cx="543.68" cy="903.48" r="3.75"/>
<circle cx="549.79" cy="897.91" r="3.75"/>
<circle cx="555.89" cy="898.84" r="3.75"/>
<circle cx="561.99" cy="902.55" r="3.75"/>
<circle cx="568.09" cy="892.46" r="3.75"/>
<circle cx="574.2" cy="891.88" r="3.75"/>
<circle cx="580.3" cy="889.57" r="3.75"/>
<circle cx="586.4" cy="895.36" r="3.75"/>
<circle cx="592.5" cy="900.58" r="3.75"/>
<circle cx="598.61" cy="911.01" r="3.75"/>
<circle cx="604.71" cy="910.2" r="3.75"/>
<circle cx="610.81" cy="902.32" r="3.75"/>
<circle cx="616.91" cy="897.45" r="3.75"/>
<circle cx="623.02" cy="904.64" r="3.75"/>
<circle cx="629.12" cy="888.41" r="3.75"/>
<circle cx="635.22" cy="873.91" r="3.75"/>
<circle cx="641.32" cy="877.39" r="3.75"/>
<circle cx="647.43" cy="888.41" r="3.75"/>
<circle cx="653.53" cy="894.78" r="3.75"/>
<circle cx="659.63" cy="898.84" r="3.75"/>
<circle cx="665.73" cy="907.54" r="3.75"/>
<circle cx="671.84" cy="910.43" r="3.75"/>
<circle cx="677.94" cy="906.96" r="3.75"/>
<circle cx="684.04" cy="909.04" r="3.75"/>
<circle cx="690.15" cy="912.17" r="3.75"/>
<circle cx="696.25" cy="907.45" r="3.75"/>
<circle cx="702.35" cy="885.42" r="3.75"/>
<circle cx="708.45" cy="875.22" r="3.75"/>
<circle cx="714.56" cy="871.51" r="3.75"/>
<circle cx="720.66" cy="872.67" r="3.75"/>
<circle cx="726.76" cy="878.12" r="3.75"/>
<circle cx="732.86" cy="882.17" r="3.75"/>
<circle cx="738.97" cy="888.55" r="3.75"/>
<circle cx="745.07" cy="892.61" r="3.75"/>
<circle cx="751.17" cy="907.68" r="3.75"/>
<circle cx="757.27" cy="916.96" r="3.75"/>
<circle cx="763.38" cy="908.26" r="3.75"/>
<circle cx="769.48" cy="897.01" r="3.75"/>
<circle cx="775.58" cy="886.81" r="3.75"/>
<circle cx="781.68" cy="874.64" r="3.75"/>
<circle cx="787.79" cy="879.04" r="3.75"/>
</g>
<path fill="none" stroke="#ff0000" stroke-width="1.55" d="M116.5 1273.8L121.95 1082.5M122.41 1071.91L126.24 1005.78M127.02 995.21L131.07 949.42M132.12 938.88L136.05 903.38M137.35 892.86L141.15 864.76M142.68 854.27L146.01 833.26M148.14 822.89L150.76 812.53M153.11 812.59L156.22 827.94M157.72 838.41L161.82 887.56M162.92 898.1L166.7 927.99M168.32 938.46L171.16 954M177.75 956.7L181.44 939.59M184.02 929.31L185.96 922.57M194.45 912.27L195.81 908.54M198.74 898.38L201.61 884.98M204.23 874.72L206.44 867.26M210.12 867.01L210.98 868.93M214.32 878.94L217.21 891.79M219.47 902.14L222.04 914.38M224.95 924.54L226.18 927.92M245.5 912.65L246.33 910.82M250.2 900.97L252.06 895.38M255.2 885.25L257.26 878.05M261.18 868.26L261.48 867.68M270.8 874.98L272.16 879.16M275.3 889.28L277.28 895.93M280.83 905.9L281.84 908.3M305.53 910.45L307.77 903.32M310.71 893.14L313.11 884.02M316.63 874.06L317.28 872.61M341.96 893.22L342.5 894.38M346.56 904.16L348.11 908.36M397.28 891.39L399.07 897.25M402.44 907.29L403.77 910.91M519.97 893.06L520.73 894.88M681.96 897.54L683.38 893.42M686.98 883.45L688.44 879.59M697.11 863.2L699.18 856.51M701.79 846.25L704.7 831.72M706.66 821.3L709.91 802.99M711.86 792.57L715.15 775.84"/>
<g fill="url(#mr)">
<circle cx="122.1" cy="1077.2" r="3.75"/>
<circle cx="126.55" cy="1000.49" r="3.75"/>
<circle cx="131.54" cy="944.14" r="3.75"/>
<circle cx="136.64" cy="898.12" r="3.75"/>
<circle cx="141.86" cy="859.51" r="3.75"/>
<circle cx="146.84" cy="828.03" r="3.75"/>
<circle cx="152.06" cy="807.39" r="3.75"/>
<circle cx="157.28" cy="833.13" r="3.75"/>
<circle cx="162.26" cy="892.84" r="3.75"/>
<circle cx="167.36" cy="933.25" r="3.75"/>
<circle cx="172.12" cy="959.22" r="3.75"/>
<circle cx="176.64" cy="961.88" r="3.75"/>
<circle cx="182.55" cy="934.41" r="3.75"/>
<circle cx="187.42" cy="917.48" r="3.75"/>
<circle cx="192.64" cy="917.25" r="3.75"/>
<circle cx="197.62" cy="903.57" r="3.75"/>
<circle cx="202.72" cy="879.8" r="3.75"/>
<circle cx="207.94" cy="862.17" r="3.75"/>
<circle cx="213.16" cy="873.77" r="3.75"/>
<circle cx="218.38" cy="896.96" r="3.75"/>
<circle cx="223.13" cy="919.57" r="3.75"/>
<circle cx="228" cy="932.9" r="3.75"/>
<circle cx="232.99" cy="931.74" r="3.75"/>
<circle cx="238.09" cy="924.55" r="3.75"/>
<circle cx="243.3" cy="917.48" r="3.75"/>
<circle cx="248.52" cy="906" r="3.75"/>
<circle cx="253.74" cy="890.35" r="3.75"/>
<circle cx="258.72" cy="872.96" r="3.75"/>
<circle cx="263.94" cy="862.99" r="3.75"/>
<circle cx="269.16" cy="869.94" r="3.75"/>
<circle cx="273.8" cy="884.2" r="3.75"/>
<circle cx="278.78" cy="901.01" r="3.75"/>
<circle cx="283.88" cy="913.19" r="3.75"/>
<circle cx="288.87" cy="912.61" r="3.75"/>
<circle cx="294.09" cy="909.71" r="3.75"/>
<circle cx="299.07" cy="916.09" r="3.75"/>
<circle cx="303.94" cy="915.51" r="3.75"/>
<circle cx="309.36" cy="898.26" r="3.75"/>
<circle cx="314.46" cy="878.9" r="3.75"/>
<circle cx="319.45" cy="867.77" r="3.75"/>
<circle cx="324.67" cy="871.01" r="3.75"/>
<circle cx="329.54" cy="876.46" r="3.75"/>
<circle cx="334.75" cy="879.36" r="3.75"/>
<circle cx="339.74" cy="888.41" r="3.75"/>
<circle cx="344.72" cy="899.19" r="3.75"/>
<circle cx="349.94" cy="913.33" r="3.75"/>
<circle cx="355.16" cy="920.87" r="3.75"/>
<circle cx="360.26" cy="915.07" r="3.75"/>
<circle cx="365.25" cy="906.38" r="3.75"/>
<circle cx="370.23" cy="902.32" r="3.75"/>
<circle cx="375.45" cy="894.43" r="3.75"/>
<circle cx="380.32" cy="889.22" r="3.75"/>
<circle cx="385.54" cy="884.93" r="3.75"/>
<circle cx="390.75" cy="879.71" r="3.75"/>
<circle cx="395.74" cy="886.32" r="3.75"/>
<circle cx="400.61" cy="902.32" r="3.75"/>
<circle cx="405.59" cy="915.88" r="3.75"/>
<circle cx="411.04" cy="915.07" r="3.75"/>
<circle cx="416.03" cy="906.03" r="3.75"/>
<circle cx="420.9" cy="900.23" r="3.75"/>
<circle cx="426.12" cy="895.36" r="3.75"/>
<circle cx="431.33" cy="895.36" r="3.75"/>
<circle cx="436.32" cy="895.94" r="3.75"/>
<circle cx="441.42" cy="889.33" r="3.75"/>
<circle cx="446.64" cy="882.96" r="3.75"/>
<circle cx="451.62" cy="886.09" r="3.75"/>
<circle cx="456.61" cy="894.43" r="3.75"/>
<circle cx="461.83" cy="901.74" r="3.75"/>
<circle cx="466.93" cy="907.54" r="3.75"/>
<circle cx="471.91" cy="905.8" r="3.75"/>
<circle cx="477.13" cy="903.25" r="3.75"/>
<circle cx="482.12" cy="904.64" r="3.75"/>
<circle cx="487.22" cy="901.16" r="3.75"/>
<circle cx="492.43" cy="895.94" r="3.75"/>
<circle cx="497.42" cy="888.99" r="3.75"/>
<circle cx="502.49" cy="884.35" r="3.75"/>
<circle cx="507.48" cy="875.88" r="3.75"/>
<circle cx="512.7" cy="880.29" r="3.75"/>
<circle cx="517.91" cy="888.17" r="3.75"/>
<circle cx="522.78" cy="899.77" r="3.75"/>
<circle cx="527.77" cy="906.03" r="3.75"/>
<circle cx="532.87" cy="905.57" r="3.75"/>
<circle cx="537.86" cy="899.19" r="3.75"/>
<circle cx="542.72" cy="893.04" r="3.75"/>
<circle cx="547.94" cy="887.25" r="3.75"/>
<circle cx="552.93" cy="886.09" r="3.75"/>
<circle cx="557.91" cy="887.83" r="3.75"/>
<circle cx="563.13" cy="887.01" r="3.75"/>
<circle cx="568.23" cy="880.87" r="3.75"/>
<circle cx="573.22" cy="882.03" r="3.75"/>
<circle cx="578.2" cy="883.54" r="3.75"/>
<circle cx="583.3" cy="889.8" r="3.75"/>
<circle cx="588.29" cy="892.12" r="3.75"/>
<circle cx="593.28" cy="889.33" r="3.75"/>
<circle cx="598.38" cy="884" r="3.75"/>
<circle cx="603.59" cy="879.36" r="3.75"/>
<circle cx="608.81" cy="880.06" r="3.75"/>
<circle cx="614.14" cy="886.43" r="3.75"/>
<circle cx="619.01" cy="890.49" r="3.75"/>
<circle cx="624.23" cy="890.72" r="3.75"/>
<circle cx="629.45" cy="888.41" r="3.75"/>
<circle cx="634.32" cy="895.13" r="3.75"/>
<circle cx="639.54" cy="899.42" r="3.75"/>
<circle cx="644.52" cy="893.97" r="3.75"/>
<circle cx="649.51" cy="887.48" r="3.75"/>
<circle cx="654.72" cy="887.01" r="3.75"/>
<circle cx="659.94" cy="894.2" r="3.75"/>
<circle cx="664.81" cy="902.09" r="3.75"/>
<circle cx="670.03" cy="904.99" r="3.75"/>
<circle cx="675.01" cy="903.48" r="3.75"/>
<circle cx="680.23" cy="902.55" r="3.75"/>
<circle cx="685.1" cy="888.41" r="3.75"/>
<circle cx="690.32" cy="874.64" r="3.75"/>
<circle cx="695.54" cy="868.26" r="3.75"/>
<circle cx="700.75" cy="851.45" r="3.75"/>
<circle cx="705.74" cy="826.52" r="3.75"/>
<circle cx="710.84" cy="797.77" r="3.75"/>
<circle cx="716.17" cy="770.64" r="3.75"/>
</g>
<text x="66" y="971.8" font-size="29" text-anchor="middle" transform="rotate(-90 66 971.8)">Force (kN)</text>
<text x="466" y="1334" font-size="29" text-anchor="middle">Displacement (mm)</text>
<text x="424.7" y="1382" font-size="40" text-anchor="middle">(c)</text>
<line x1="494" y1="748.3" x2="512.5" y2="748.3" stroke="#ff0000" stroke-width="1.45"/>
<line x1="528.7" y1="748.3" x2="548.2" y2="748.3" stroke="#ff0000" stroke-width="1.45"/>
<circle cx="520.6" cy="748.3" r="5.9" fill="url(#mr)"/>
<text x="560" y="757.9" font-size="26.5" text-anchor="start">BGST_Exp</text>
<line x1="494" y1="784" x2="512.5" y2="784" stroke="#0000ff" stroke-width="1.45"/>
<line x1="528.7" y1="784" x2="548.2" y2="784" stroke="#0000ff" stroke-width="1.45"/>
<circle cx="520.6" cy="784" r="5.9" fill="url(#mb)"/>
<text x="560" y="793.6" font-size="26.5" text-anchor="start">BGST_Sim</text>
</g>
<g id="panel-b">
<rect x="936" y="198.86" width="91.8" height="380.04" fill="url(#gg)"/>
<text x="981.9" y="191.96" font-size="29" text-anchor="middle">80.63</text>
<rect x="1050.8" y="171.39" width="92.1" height="407.51" fill="url(#gg)"/>
<text x="1096.85" y="164.49" font-size="29" text-anchor="middle">86.46</text>
<rect x="1165.8" y="346.01" width="91.6" height="232.89" fill="url(#gp)"/>
<text x="1211.6" y="339.11" font-size="29" text-anchor="middle">49.41</text>
<rect x="1280.4" y="344.22" width="93" height="234.68" fill="url(#gp)"/>
<text x="1326.9" y="337.32" font-size="29" text-anchor="middle">49.79</text>
<rect x="1396" y="261.68" width="92.1" height="317.22" fill="url(#gv)"/>
<text x="1442.05" y="254.78" font-size="29" text-anchor="middle">19.63</text>
<rect x="1511.1" y="232.91" width="91.8" height="345.99" fill="url(#gv)"/>
<text x="1557" y="226.01" font-size="29" text-anchor="middle">21.41</text>
<circle cx="1038" cy="386" r="49.7" fill="url(#cg)"/>
<text x="1038" y="394.7" font-size="29" text-anchor="middle">6.74%</text>
<circle cx="1270.1" cy="463.9" r="49.8" fill="url(#cp)"/>
<text x="1270.1" y="472.6" font-size="29" text-anchor="middle">0.75%</text>
<circle cx="1500.3" cy="324" r="49.7" fill="url(#cv)"/>
<text x="1493" y="332.7" font-size="29" text-anchor="middle">8.33%</text>
<rect x="925.1" y="13.3" width="700.4" height="565.6" fill="none" stroke="#000" stroke-width="2.5"/>
<text x="916.3" y="584.7" font-size="24" text-anchor="end">0</text>
<line x1="925.1" y1="555.33" x2="928.1" y2="555.33" stroke="#000" stroke-width="2.4"/>
<line x1="925.1" y1="531.77" x2="931.3" y2="531.77" stroke="#000" stroke-width="2.4"/>
<text x="916.3" y="537.57" font-size="24" text-anchor="end">10</text>
<line x1="925.1" y1="508.2" x2="928.1" y2="508.2" stroke="#000" stroke-width="2.4"/>
<line x1="925.1" y1="484.63" x2="931.3" y2="484.63" stroke="#000" stroke-width="2.4"/>
<text x="916.3" y="490.43" font-size="24" text-anchor="end">20</text>
<line x1="925.1" y1="461.07" x2="928.1" y2="461.07" stroke="#000" stroke-width="2.4"/>
<line x1="925.1" y1="437.5" x2="931.3" y2="437.5" stroke="#000" stroke-width="2.4"/>
<text x="916.3" y="443.3" font-size="24" text-anchor="end">30</text>
<line x1="925.1" y1="413.93" x2="928.1" y2="413.93" stroke="#000" stroke-width="2.4"/>
<line x1="925.1" y1="390.37" x2="931.3" y2="390.37" stroke="#000" stroke-width="2.4"/>
<text x="916.3" y="396.17" font-size="24" text-anchor="end">40</text>
<line x1="925.1" y1="366.8" x2="928.1" y2="366.8" stroke="#000" stroke-width="2.4"/>
<line x1="925.1" y1="343.23" x2="931.3" y2="343.23" stroke="#000" stroke-width="2.4"/>
<text x="916.3" y="349.03" font-size="24" text-anchor="end">50</text>
<line x1="925.1" y1="319.67" x2="928.1" y2="319.67" stroke="#000" stroke-width="2.4"/>
<line x1="925.1" y1="296.1" x2="931.3" y2="296.1" stroke="#000" stroke-width="2.4"/>
<text x="916.3" y="301.9" font-size="24" text-anchor="end">60</text>
<line x1="925.1" y1="272.53" x2="928.1" y2="272.53" stroke="#000" stroke-width="2.4"/>
<line x1="925.1" y1="248.97" x2="931.3" y2="248.97" stroke="#000" stroke-width="2.4"/>
<text x="916.3" y="254.77" font-size="24" text-anchor="end">70</text>
<line x1="925.1" y1="225.4" x2="928.1" y2="225.4" stroke="#000" stroke-width="2.4"/>
<line x1="925.1" y1="201.83" x2="931.3" y2="201.83" stroke="#000" stroke-width="2.4"/>
<text x="916.3" y="207.63" font-size="24" text-anchor="end">80</text>
<line x1="925.1" y1="178.27" x2="928.1" y2="178.27" stroke="#000" stroke-width="2.4"/>
<line x1="925.1" y1="154.7" x2="931.3" y2="154.7" stroke="#000" stroke-width="2.4"/>
<text x="916.3" y="160.5" font-size="24" text-anchor="end">90</text>
<line x1="925.1" y1="131.13" x2="928.1" y2="131.13" stroke="#000" stroke-width="2.4"/>
<line x1="925.1" y1="107.57" x2="931.3" y2="107.57" stroke="#000" stroke-width="2.4"/>
<text x="916.3" y="113.37" font-size="24" text-anchor="end">100</text>
<line x1="925.1" y1="84" x2="928.1" y2="84" stroke="#000" stroke-width="2.4"/>
<line x1="925.1" y1="60.43" x2="931.3" y2="60.43" stroke="#000" stroke-width="2.4"/>
<text x="916.3" y="66.23" font-size="24" text-anchor="end">110</text>
<line x1="925.1" y1="36.87" x2="928.1" y2="36.87" stroke="#000" stroke-width="2.4"/>
<text x="916.3" y="19.1" font-size="24" text-anchor="end">120</text>
<text x="1632.4" y="585.1" font-size="24" text-anchor="start">0</text>
<line x1="1625.5" y1="538.5" x2="1622.5" y2="538.5" stroke="#000" stroke-width="2.4"/>
<line x1="1625.5" y1="498.1" x2="1619" y2="498.1" stroke="#000" stroke-width="2.4"/>
<text x="1632.4" y="504.3" font-size="24" text-anchor="start">5</text>
<line x1="1625.5" y1="457.7" x2="1622.5" y2="457.7" stroke="#000" stroke-width="2.4"/>
<line x1="1625.5" y1="417.3" x2="1619" y2="417.3" stroke="#000" stroke-width="2.4"/>
<text x="1632.4" y="423.5" font-size="24" text-anchor="start">10</text>
<line x1="1625.5" y1="376.9" x2="1622.5" y2="376.9" stroke="#000" stroke-width="2.4"/>
<line x1="1625.5" y1="336.5" x2="1619" y2="336.5" stroke="#000" stroke-width="2.4"/>
<text x="1632.4" y="342.7" font-size="24" text-anchor="start">15</text>
<line x1="1625.5" y1="296.1" x2="1622.5" y2="296.1" stroke="#000" stroke-width="2.4"/>
<line x1="1625.5" y1="255.7" x2="1619" y2="255.7" stroke="#000" stroke-width="2.4"/>
<text x="1632.4" y="261.9" font-size="24" text-anchor="start">20</text>
<line x1="1625.5" y1="215.3" x2="1622.5" y2="215.3" stroke="#000" stroke-width="2.4"/>
<line x1="1625.5" y1="174.9" x2="1619" y2="174.9" stroke="#000" stroke-width="2.4"/>
<text x="1632.4" y="181.1" font-size="24" text-anchor="start">25</text>
<line x1="1625.5" y1="134.5" x2="1622.5" y2="134.5" stroke="#000" stroke-width="2.4"/>
<line x1="1625.5" y1="94.1" x2="1619" y2="94.1" stroke="#000" stroke-width="2.4"/>
<text x="1632.4" y="100.3" font-size="24" text-anchor="start">30</text>
<line x1="1625.5" y1="53.7" x2="1622.5" y2="53.7" stroke="#000" stroke-width="2.4"/>
<text x="1632.4" y="19.5" font-size="24" text-anchor="start">35</text>
<line x1="981.9" y1="578.9" x2="981.9" y2="571.1" stroke="#000" stroke-width="2.4"/>
<text x="981.9" y="604.3" font-size="24" text-anchor="middle">Exp</text>
<line x1="1096.85" y1="578.9" x2="1096.85" y2="571.1" stroke="#000" stroke-width="2.4"/>
<text x="1096.85" y="604.3" font-size="24" text-anchor="middle">Sim</text>
<line x1="1211.6" y1="578.9" x2="1211.6" y2="571.1" stroke="#000" stroke-width="2.4"/>
<text x="1211.6" y="604.3" font-size="24" text-anchor="middle">Exp</text>
<line x1="1326.9" y1="578.9" x2="1326.9" y2="571.1" stroke="#000" stroke-width="2.4"/>
<text x="1326.9" y="604.3" font-size="24" text-anchor="middle">Sim</text>
<line x1="1442.05" y1="578.9" x2="1442.05" y2="571.1" stroke="#000" stroke-width="2.4"/>
<text x="1442.05" y="604.3" font-size="24" text-anchor="middle">Exp</text>
<line x1="1557" y1="578.9" x2="1557" y2="571.1" stroke="#000" stroke-width="2.4"/>
<text x="1557" y="604.3" font-size="24" text-anchor="middle">Sim</text>
<rect x="1547.6" y="13.3" width="77.9" height="44.1" fill="#fff" stroke="#000" stroke-width="2.5"/>
<text x="1584.35" y="45" font-size="28.5" text-anchor="middle">FXT</text>
<rect x="947.5" y="33.2" width="57.5" height="28" fill="url(#gg)"/>
<text x="1020.3" y="57.1" font-size="29" text-anchor="start">PCF</text>
<rect x="947.5" y="66" width="57.5" height="28" fill="url(#gp)"/>
<text x="1020.3" y="89.9" font-size="29" text-anchor="start">MCF</text>
<rect x="947.5" y="98.8" width="57.5" height="28.4" fill="url(#gv)"/>
<text x="1020.3" y="122.9" font-size="29" text-anchor="start">SEA</text>
<text x="873.8" y="296.1" font-size="29" text-anchor="middle" transform="rotate(-90 873.8 296.1)">PCF、MCF (kN)</text>
<text x="1688.8" y="296.1" font-size="29" text-anchor="middle" transform="rotate(-90 1688.8 296.1)">SEA (J/g)</text>
<text x="1274.5" y="637.6" font-size="29" text-anchor="middle">Comparison</text>
<text x="1265.7" y="684.4" font-size="40" text-anchor="middle">(b)</text>
</g>
<g id="panel-d">
<rect x="936.5" y="934.88" width="92.4" height="342.22" fill="url(#gg)"/>
<text x="982.7" y="927.98" font-size="29" text-anchor="middle">108.28</text>
<rect x="1051.8" y="905.26" width="92.7" height="371.84" fill="url(#gg)"/>
<text x="1098.15" y="898.36" font-size="29" text-anchor="middle">117.65</text>
<rect x="1167.4" y="1003.11" width="92.6" height="273.99" fill="url(#gp)"/>
<text x="1213.7" y="996.21" font-size="29" text-anchor="middle">86.69</text>
<rect x="1283" y="1002.45" width="93.2" height="274.65" fill="url(#gp)"/>
<text x="1329.6" y="995.55" font-size="29" text-anchor="middle">86.9</text>
<rect x="1399.4" y="920.62" width="92.4" height="356.48" fill="url(#gv)"/>
<text x="1445.6" y="913.72" font-size="29" text-anchor="middle">40.73</text>
<rect x="1514.8" y="907.93" width="92.3" height="369.17" fill="url(#gv)"/>
<text x="1560.95" y="901.03" font-size="29" text-anchor="middle">42.18</text>
<circle cx="1039.6" cy="1081.8" r="50" fill="url(#cg)"/>
<text x="1039.6" y="1090.5" font-size="29" text-anchor="middle">7.96%</text>
<circle cx="1272.1" cy="1160" r="49.8" fill="url(#cp)"/>
<text x="1272.1" y="1168.7" font-size="29" text-anchor="middle">0.24%</text>
<circle cx="1502.5" cy="1024.4" r="49.7" fill="url(#cv)"/>
<text x="1502.5" y="1033.1" font-size="29" text-anchor="middle">3.45%</text>
<rect x="925.5" y="708.2" width="704.3" height="568.9" fill="none" stroke="#000" stroke-width="2.5"/>
<text x="916.7" y="1282.9" font-size="24" text-anchor="end">0</text>
<line x1="925.5" y1="1245.49" x2="928.5" y2="1245.49" stroke="#000" stroke-width="2.4"/>
<line x1="925.5" y1="1213.89" x2="931.7" y2="1213.89" stroke="#000" stroke-width="2.4"/>
<text x="916.7" y="1219.69" font-size="24" text-anchor="end">20</text>
<line x1="925.5" y1="1182.28" x2="928.5" y2="1182.28" stroke="#000" stroke-width="2.4"/>
<line x1="925.5" y1="1150.68" x2="931.7" y2="1150.68" stroke="#000" stroke-width="2.4"/>
<text x="916.7" y="1156.48" font-size="24" text-anchor="end">40</text>
<line x1="925.5" y1="1119.07" x2="928.5" y2="1119.07" stroke="#000" stroke-width="2.4"/>
<line x1="925.5" y1="1087.47" x2="931.7" y2="1087.47" stroke="#000" stroke-width="2.4"/>
<text x="916.7" y="1093.27" font-size="24" text-anchor="end">60</text>
<line x1="925.5" y1="1055.86" x2="928.5" y2="1055.86" stroke="#000" stroke-width="2.4"/>
<line x1="925.5" y1="1024.26" x2="931.7" y2="1024.26" stroke="#000" stroke-width="2.4"/>
<text x="916.7" y="1030.06" font-size="24" text-anchor="end">80</text>
<line x1="925.5" y1="992.65" x2="928.5" y2="992.65" stroke="#000" stroke-width="2.4"/>
<line x1="925.5" y1="961.04" x2="931.7" y2="961.04" stroke="#000" stroke-width="2.4"/>
<text x="916.7" y="966.84" font-size="24" text-anchor="end">100</text>
<line x1="925.5" y1="929.44" x2="928.5" y2="929.44" stroke="#000" stroke-width="2.4"/>
<line x1="925.5" y1="897.83" x2="931.7" y2="897.83" stroke="#000" stroke-width="2.4"/>
<text x="916.7" y="903.63" font-size="24" text-anchor="end">120</text>
<line x1="925.5" y1="866.23" x2="928.5" y2="866.23" stroke="#000" stroke-width="2.4"/>
<line x1="925.5" y1="834.62" x2="931.7" y2="834.62" stroke="#000" stroke-width="2.4"/>
<text x="916.7" y="840.42" font-size="24" text-anchor="end">140</text>
<line x1="925.5" y1="803.02" x2="928.5" y2="803.02" stroke="#000" stroke-width="2.4"/>
<line x1="925.5" y1="771.41" x2="931.7" y2="771.41" stroke="#000" stroke-width="2.4"/>
<text x="916.7" y="777.21" font-size="24" text-anchor="end">160</text>
<line x1="925.5" y1="739.81" x2="928.5" y2="739.81" stroke="#000" stroke-width="2.4"/>
<text x="916.7" y="714" font-size="24" text-anchor="end">180</text>
<text x="1636.7" y="1283.3" font-size="24" text-anchor="start">0</text>
<line x1="1629.8" y1="1233.34" x2="1626.8" y2="1233.34" stroke="#000" stroke-width="2.4"/>
<line x1="1629.8" y1="1189.58" x2="1623.3" y2="1189.58" stroke="#000" stroke-width="2.4"/>
<text x="1636.7" y="1195.78" font-size="24" text-anchor="start">10</text>
<line x1="1629.8" y1="1145.82" x2="1626.8" y2="1145.82" stroke="#000" stroke-width="2.4"/>
<line x1="1629.8" y1="1102.05" x2="1623.3" y2="1102.05" stroke="#000" stroke-width="2.4"/>
<text x="1636.7" y="1108.25" font-size="24" text-anchor="start">20</text>
<line x1="1629.8" y1="1058.29" x2="1626.8" y2="1058.29" stroke="#000" stroke-width="2.4"/>
<line x1="1629.8" y1="1014.53" x2="1623.3" y2="1014.53" stroke="#000" stroke-width="2.4"/>
<text x="1636.7" y="1020.73" font-size="24" text-anchor="start">30</text>
<line x1="1629.8" y1="970.77" x2="1626.8" y2="970.77" stroke="#000" stroke-width="2.4"/>
<line x1="1629.8" y1="927.01" x2="1623.3" y2="927.01" stroke="#000" stroke-width="2.4"/>
<text x="1636.7" y="933.21" font-size="24" text-anchor="start">40</text>
<line x1="1629.8" y1="883.25" x2="1626.8" y2="883.25" stroke="#000" stroke-width="2.4"/>
<line x1="1629.8" y1="839.48" x2="1623.3" y2="839.48" stroke="#000" stroke-width="2.4"/>
<text x="1636.7" y="845.68" font-size="24" text-anchor="start">50</text>
<line x1="1629.8" y1="795.72" x2="1626.8" y2="795.72" stroke="#000" stroke-width="2.4"/>
<line x1="1629.8" y1="751.96" x2="1623.3" y2="751.96" stroke="#000" stroke-width="2.4"/>
<text x="1636.7" y="758.16" font-size="24" text-anchor="start">60</text>
<line x1="1629.8" y1="708.2" x2="1626.8" y2="708.2" stroke="#000" stroke-width="2.4"/>
<line x1="982.7" y1="1277.1" x2="982.7" y2="1269.3" stroke="#000" stroke-width="2.4"/>
<text x="982.7" y="1302.7" font-size="24" text-anchor="middle">Exp</text>
<line x1="1098.15" y1="1277.1" x2="1098.15" y2="1269.3" stroke="#000" stroke-width="2.4"/>
<text x="1098.15" y="1302.7" font-size="24" text-anchor="middle">Sim</text>
<line x1="1213.7" y1="1277.1" x2="1213.7" y2="1269.3" stroke="#000" stroke-width="2.4"/>
<text x="1213.7" y="1302.7" font-size="24" text-anchor="middle">Exp</text>
<line x1="1329.6" y1="1277.1" x2="1329.6" y2="1269.3" stroke="#000" stroke-width="2.4"/>
<text x="1329.6" y="1302.7" font-size="24" text-anchor="middle">Sim</text>
<line x1="1445.6" y1="1277.1" x2="1445.6" y2="1269.3" stroke="#000" stroke-width="2.4"/>
<text x="1445.6" y="1302.7" font-size="24" text-anchor="middle">Exp</text>
<line x1="1560.95" y1="1277.1" x2="1560.95" y2="1269.3" stroke="#000" stroke-width="2.4"/>
<text x="1560.95" y="1302.7" font-size="24" text-anchor="middle">Sim</text>
<rect x="1513.7" y="708.2" width="116.1" height="44.4" fill="#fff" stroke="#000" stroke-width="2.5"/>
<text x="1572.05" y="739.9" font-size="28.5" text-anchor="middle">BGSTO</text>
<rect x="948.3" y="728.3" width="57.9" height="28.2" fill="url(#gg)"/>
<text x="1021" y="752.3" font-size="29" text-anchor="start">PCF</text>
<rect x="948.3" y="761.5" width="57.9" height="28" fill="url(#gp)"/>
<text x="1021" y="785.4" font-size="29" text-anchor="start">MCF</text>
<rect x="948.3" y="794.5" width="57.9" height="29" fill="url(#gv)"/>
<text x="1021" y="818.9" font-size="29" text-anchor="start">SEA</text>
<text x="873.8" y="992.65" font-size="29" text-anchor="middle" transform="rotate(-90 873.8 992.65)">PCF、MCF (kN)</text>
<text x="1693.9" y="992.65" font-size="29" text-anchor="middle" transform="rotate(-90 1693.9 992.65)">SEA (J/g)</text>
<text x="1276.85" y="1336" font-size="29" text-anchor="middle">Comparison</text>
<text x="1265.7" y="1382" font-size="40" text-anchor="middle">(d)</text>
</g>
</svg>
</body></html>
